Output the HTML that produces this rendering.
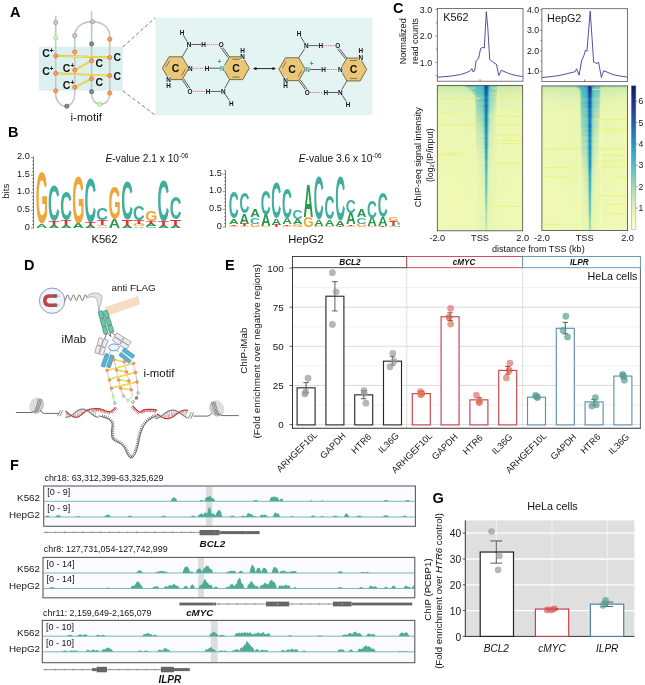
<!DOCTYPE html>
<html><head><meta charset="utf-8"><title>Figure</title><style>html,body{margin:0;padding:0;background:#fff;width:645px;height:685px;overflow:hidden}svg{display:block}text{font-family:"Liberation Sans",Arial,sans-serif}</style></head><body>
<svg width="645" height="685" viewBox="0 0 645 685"><defs><clipPath id="clipL"><rect x="220" y="150" width="180" height="85"/></clipPath><linearGradient id="gk0" gradientUnits="userSpaceOnUse" x1="437.3" y1="0" x2="522.7" y2="0"><stop offset="0.000" stop-color="#bfe6b5"/><stop offset="0.307" stop-color="#bae4b5"/><stop offset="0.325" stop-color="#a4dbb7"/><stop offset="0.343" stop-color="#77cabc"/><stop offset="0.360" stop-color="#66c4bf"/><stop offset="0.422" stop-color="#5dc0c0"/><stop offset="0.430" stop-color="#6ec7bd"/><stop offset="0.439" stop-color="#6dc6be"/><stop offset="0.448" stop-color="#59bfc0"/><stop offset="0.527" stop-color="#47b8c3"/><stop offset="0.536" stop-color="#3cb1c3"/><stop offset="0.544" stop-color="#2a9ec1"/><stop offset="0.553" stop-color="#1f79b4"/><stop offset="0.562" stop-color="#234c9f"/><stop offset="0.571" stop-color="#253493"/><stop offset="0.580" stop-color="#253a97"/><stop offset="0.588" stop-color="#2261a9"/><stop offset="0.597" stop-color="#2398c1"/><stop offset="0.606" stop-color="#44b7c4"/><stop offset="0.615" stop-color="#61c2bf"/><stop offset="0.632" stop-color="#73c8bd"/><stop offset="0.685" stop-color="#83cfbb"/><stop offset="0.703" stop-color="#a0dab8"/><stop offset="0.711" stop-color="#c5e8b4"/><stop offset="0.720" stop-color="#c9eab4"/><stop offset="0.729" stop-color="#b7e3b6"/><stop offset="1.000" stop-color="#bfe6b5"/></linearGradient><linearGradient id="gk1" gradientUnits="userSpaceOnUse" x1="437.3" y1="0" x2="522.7" y2="0"><stop offset="0.000" stop-color="#cdebb4"/><stop offset="0.343" stop-color="#c9eab4"/><stop offset="0.351" stop-color="#c0e6b5"/><stop offset="0.378" stop-color="#77cabc"/><stop offset="0.395" stop-color="#68c4be"/><stop offset="0.422" stop-color="#62c2bf"/><stop offset="0.430" stop-color="#73c9bd"/><stop offset="0.439" stop-color="#72c8bd"/><stop offset="0.448" stop-color="#5ec1c0"/><stop offset="0.527" stop-color="#48b9c3"/><stop offset="0.536" stop-color="#3db2c4"/><stop offset="0.544" stop-color="#2ca0c2"/><stop offset="0.553" stop-color="#1f7eb7"/><stop offset="0.562" stop-color="#2353a3"/><stop offset="0.571" stop-color="#243c98"/><stop offset="0.580" stop-color="#24439b"/><stop offset="0.588" stop-color="#216aae"/><stop offset="0.597" stop-color="#299dc1"/><stop offset="0.606" stop-color="#4bbac3"/><stop offset="0.615" stop-color="#68c4be"/><stop offset="0.632" stop-color="#79cbbc"/><stop offset="0.676" stop-color="#86d0ba"/><stop offset="0.694" stop-color="#9dd9b8"/><stop offset="0.703" stop-color="#b2e1b6"/><stop offset="0.711" stop-color="#d0edb3"/><stop offset="0.720" stop-color="#d4eeb3"/><stop offset="0.729" stop-color="#c9eab4"/><stop offset="1.000" stop-color="#cdebb4"/></linearGradient><linearGradient id="gk2" gradientUnits="userSpaceOnUse" x1="437.3" y1="0" x2="522.7" y2="0"><stop offset="0.000" stop-color="#d5efb3"/><stop offset="0.378" stop-color="#d0edb3"/><stop offset="0.386" stop-color="#c8e9b4"/><stop offset="0.404" stop-color="#91d4b9"/><stop offset="0.413" stop-color="#7dccbb"/><stop offset="0.422" stop-color="#75c9bc"/><stop offset="0.430" stop-color="#83cfbb"/><stop offset="0.439" stop-color="#81cebb"/><stop offset="0.448" stop-color="#6cc6be"/><stop offset="0.527" stop-color="#55bdc1"/><stop offset="0.536" stop-color="#48b8c3"/><stop offset="0.544" stop-color="#35aac3"/><stop offset="0.553" stop-color="#1d8fbf"/><stop offset="0.562" stop-color="#2165ab"/><stop offset="0.571" stop-color="#234fa1"/><stop offset="0.580" stop-color="#2355a4"/><stop offset="0.588" stop-color="#1f7db7"/><stop offset="0.597" stop-color="#34a8c3"/><stop offset="0.606" stop-color="#5abfc0"/><stop offset="0.615" stop-color="#74c9bd"/><stop offset="0.632" stop-color="#85cfba"/><stop offset="0.676" stop-color="#95d6b9"/><stop offset="0.694" stop-color="#afe0b6"/><stop offset="0.711" stop-color="#daf0b3"/><stop offset="0.720" stop-color="#dcf1b2"/><stop offset="0.729" stop-color="#d1edb3"/><stop offset="1.000" stop-color="#d5efb3"/></linearGradient><linearGradient id="gk3" gradientUnits="userSpaceOnUse" x1="437.3" y1="0" x2="522.7" y2="0"><stop offset="0.000" stop-color="#daf0b3"/><stop offset="0.395" stop-color="#d5efb3"/><stop offset="0.404" stop-color="#cfecb3"/><stop offset="0.413" stop-color="#bce5b5"/><stop offset="0.422" stop-color="#9cd8b8"/><stop offset="0.430" stop-color="#99d7b8"/><stop offset="0.439" stop-color="#8cd2ba"/><stop offset="0.448" stop-color="#72c8bd"/><stop offset="0.527" stop-color="#57bec1"/><stop offset="0.536" stop-color="#4ab9c3"/><stop offset="0.544" stop-color="#36abc3"/><stop offset="0.553" stop-color="#1d8fbf"/><stop offset="0.562" stop-color="#2164ab"/><stop offset="0.571" stop-color="#234da0"/><stop offset="0.580" stop-color="#2354a3"/><stop offset="0.588" stop-color="#1f7db7"/><stop offset="0.597" stop-color="#34a9c3"/><stop offset="0.606" stop-color="#5dc0c0"/><stop offset="0.615" stop-color="#77cabc"/><stop offset="0.632" stop-color="#89d1ba"/><stop offset="0.676" stop-color="#9ad8b8"/><stop offset="0.694" stop-color="#b9e3b5"/><stop offset="0.711" stop-color="#dff2b2"/><stop offset="0.720" stop-color="#e0f3b2"/><stop offset="0.729" stop-color="#d6efb3"/><stop offset="1.000" stop-color="#daf0b3"/></linearGradient><linearGradient id="gk4" gradientUnits="userSpaceOnUse" x1="437.3" y1="0" x2="522.7" y2="0"><stop offset="0.000" stop-color="#def2b2"/><stop offset="0.404" stop-color="#dbf1b2"/><stop offset="0.430" stop-color="#c1e7b5"/><stop offset="0.439" stop-color="#a5dcb7"/><stop offset="0.448" stop-color="#80cdbb"/><stop offset="0.527" stop-color="#5dc1c0"/><stop offset="0.536" stop-color="#50bcc2"/><stop offset="0.544" stop-color="#3aaec3"/><stop offset="0.553" stop-color="#1f93c0"/><stop offset="0.562" stop-color="#216aad"/><stop offset="0.571" stop-color="#2352a2"/><stop offset="0.580" stop-color="#2258a5"/><stop offset="0.588" stop-color="#1e82b9"/><stop offset="0.597" stop-color="#39adc3"/><stop offset="0.606" stop-color="#63c3bf"/><stop offset="0.615" stop-color="#7dccbb"/><stop offset="0.632" stop-color="#8fd3b9"/><stop offset="0.676" stop-color="#a3dbb8"/><stop offset="0.711" stop-color="#e4f4b2"/><stop offset="0.720" stop-color="#e5f5b2"/><stop offset="0.729" stop-color="#daf0b3"/><stop offset="1.000" stop-color="#def2b2"/></linearGradient><linearGradient id="gk5" gradientUnits="userSpaceOnUse" x1="437.3" y1="0" x2="522.7" y2="0"><stop offset="0.000" stop-color="#e2f4b2"/><stop offset="0.430" stop-color="#def2b2"/><stop offset="0.439" stop-color="#d0ecb3"/><stop offset="0.448" stop-color="#a5dcb7"/><stop offset="0.465" stop-color="#8ad1ba"/><stop offset="0.527" stop-color="#70c7bd"/><stop offset="0.536" stop-color="#63c3bf"/><stop offset="0.544" stop-color="#49b9c3"/><stop offset="0.553" stop-color="#2da1c2"/><stop offset="0.562" stop-color="#1f80b8"/><stop offset="0.571" stop-color="#2167ac"/><stop offset="0.580" stop-color="#206eaf"/><stop offset="0.588" stop-color="#2195c0"/><stop offset="0.597" stop-color="#47b8c3"/><stop offset="0.606" stop-color="#74c9bd"/><stop offset="0.615" stop-color="#8ed3ba"/><stop offset="0.632" stop-color="#9fd9b8"/><stop offset="0.676" stop-color="#b2e1b6"/><stop offset="0.711" stop-color="#e9f6b1"/><stop offset="0.720" stop-color="#e9f6b1"/><stop offset="0.729" stop-color="#def2b2"/><stop offset="1.000" stop-color="#e2f4b2"/></linearGradient><linearGradient id="gk6" gradientUnits="userSpaceOnUse" x1="437.3" y1="0" x2="522.7" y2="0"><stop offset="0.000" stop-color="#e4f5b2"/><stop offset="0.422" stop-color="#e0f3b2"/><stop offset="0.430" stop-color="#e5f5b2"/><stop offset="0.439" stop-color="#d9f0b3"/><stop offset="0.448" stop-color="#b7e3b6"/><stop offset="0.457" stop-color="#a0dab8"/><stop offset="0.474" stop-color="#8dd2ba"/><stop offset="0.527" stop-color="#76cabc"/><stop offset="0.536" stop-color="#6ac5be"/><stop offset="0.544" stop-color="#51bcc2"/><stop offset="0.553" stop-color="#32a6c2"/><stop offset="0.562" stop-color="#1e87bb"/><stop offset="0.571" stop-color="#206eaf"/><stop offset="0.580" stop-color="#2075b3"/><stop offset="0.588" stop-color="#269ac1"/><stop offset="0.597" stop-color="#4fbbc2"/><stop offset="0.606" stop-color="#7bcbbc"/><stop offset="0.615" stop-color="#95d6b9"/><stop offset="0.632" stop-color="#a5dcb7"/><stop offset="0.676" stop-color="#b9e4b5"/><stop offset="0.711" stop-color="#ebf7b1"/><stop offset="0.720" stop-color="#ebf7b1"/><stop offset="0.729" stop-color="#e0f3b2"/><stop offset="1.000" stop-color="#e4f5b2"/></linearGradient><linearGradient id="gk7" gradientUnits="userSpaceOnUse" x1="437.3" y1="0" x2="522.7" y2="0"><stop offset="0.000" stop-color="#e5f5b2"/><stop offset="0.430" stop-color="#e6f5b2"/><stop offset="0.439" stop-color="#d8f0b3"/><stop offset="0.448" stop-color="#b2e1b6"/><stop offset="0.457" stop-color="#98d7b9"/><stop offset="0.474" stop-color="#83cebb"/><stop offset="0.527" stop-color="#6cc6be"/><stop offset="0.536" stop-color="#5fc1c0"/><stop offset="0.544" stop-color="#44b7c4"/><stop offset="0.553" stop-color="#289cc1"/><stop offset="0.562" stop-color="#2075b3"/><stop offset="0.571" stop-color="#225ba6"/><stop offset="0.580" stop-color="#2262aa"/><stop offset="0.588" stop-color="#1d8fbf"/><stop offset="0.597" stop-color="#42b6c4"/><stop offset="0.606" stop-color="#72c8bd"/><stop offset="0.615" stop-color="#8dd2ba"/><stop offset="0.632" stop-color="#9ed9b8"/><stop offset="0.667" stop-color="#addfb7"/><stop offset="0.711" stop-color="#ecf8b1"/><stop offset="0.720" stop-color="#ecf8b1"/><stop offset="0.729" stop-color="#e1f3b2"/><stop offset="1.000" stop-color="#e5f5b2"/></linearGradient><linearGradient id="gk8" gradientUnits="userSpaceOnUse" x1="437.3" y1="0" x2="522.7" y2="0"><stop offset="0.000" stop-color="#e6f5b2"/><stop offset="0.422" stop-color="#e2f4b2"/><stop offset="0.430" stop-color="#e8f6b1"/><stop offset="0.439" stop-color="#dcf1b2"/><stop offset="0.457" stop-color="#a6dcb7"/><stop offset="0.474" stop-color="#92d4b9"/><stop offset="0.527" stop-color="#7bccbc"/><stop offset="0.536" stop-color="#70c7bd"/><stop offset="0.544" stop-color="#56bec1"/><stop offset="0.553" stop-color="#34a9c3"/><stop offset="0.562" stop-color="#1e88bc"/><stop offset="0.571" stop-color="#206eaf"/><stop offset="0.580" stop-color="#2075b3"/><stop offset="0.588" stop-color="#289cc1"/><stop offset="0.597" stop-color="#53bdc1"/><stop offset="0.606" stop-color="#81cebb"/><stop offset="0.615" stop-color="#9bd8b8"/><stop offset="0.632" stop-color="#abdeb7"/><stop offset="0.667" stop-color="#b9e3b5"/><stop offset="0.711" stop-color="#edf8b1"/><stop offset="0.720" stop-color="#edf8b1"/><stop offset="0.729" stop-color="#e2f4b2"/><stop offset="1.000" stop-color="#e6f5b2"/></linearGradient><linearGradient id="gk9" gradientUnits="userSpaceOnUse" x1="437.3" y1="0" x2="522.7" y2="0"><stop offset="0.000" stop-color="#e7f6b1"/><stop offset="0.422" stop-color="#e3f4b2"/><stop offset="0.430" stop-color="#eaf7b1"/><stop offset="0.439" stop-color="#def2b2"/><stop offset="0.457" stop-color="#abdeb7"/><stop offset="0.474" stop-color="#98d7b9"/><stop offset="0.527" stop-color="#81cebb"/><stop offset="0.536" stop-color="#75c9bc"/><stop offset="0.544" stop-color="#5cc0c0"/><stop offset="0.553" stop-color="#37acc3"/><stop offset="0.562" stop-color="#1e8cbd"/><stop offset="0.571" stop-color="#2071b1"/><stop offset="0.580" stop-color="#1f78b4"/><stop offset="0.588" stop-color="#2a9fc1"/><stop offset="0.597" stop-color="#58bfc1"/><stop offset="0.606" stop-color="#86d0ba"/><stop offset="0.615" stop-color="#a1dab8"/><stop offset="0.632" stop-color="#b0e0b6"/><stop offset="0.667" stop-color="#bee6b5"/><stop offset="0.711" stop-color="#edf8b2"/><stop offset="0.720" stop-color="#eef8b2"/><stop offset="0.729" stop-color="#e3f4b2"/><stop offset="1.000" stop-color="#e7f6b1"/></linearGradient><linearGradient id="gk10" gradientUnits="userSpaceOnUse" x1="437.3" y1="0" x2="522.7" y2="0"><stop offset="0.000" stop-color="#e9f6b1"/><stop offset="0.422" stop-color="#e4f5b2"/><stop offset="0.430" stop-color="#eaf7b1"/><stop offset="0.439" stop-color="#def2b2"/><stop offset="0.457" stop-color="#a5dcb7"/><stop offset="0.474" stop-color="#90d4b9"/><stop offset="0.527" stop-color="#78cbbc"/><stop offset="0.536" stop-color="#6cc6be"/><stop offset="0.544" stop-color="#51bcc2"/><stop offset="0.553" stop-color="#2ea3c2"/><stop offset="0.562" stop-color="#1f7bb5"/><stop offset="0.571" stop-color="#225da7"/><stop offset="0.580" stop-color="#2165ab"/><stop offset="0.588" stop-color="#2094c0"/><stop offset="0.597" stop-color="#4dbbc2"/><stop offset="0.606" stop-color="#7ecdbb"/><stop offset="0.615" stop-color="#9ad8b8"/><stop offset="0.632" stop-color="#aadeb7"/><stop offset="0.667" stop-color="#bbe4b5"/><stop offset="0.711" stop-color="#eef8b3"/><stop offset="0.720" stop-color="#eef8b3"/><stop offset="0.729" stop-color="#e4f5b2"/><stop offset="1.000" stop-color="#e8f6b1"/></linearGradient><linearGradient id="gk11" gradientUnits="userSpaceOnUse" x1="437.3" y1="0" x2="522.7" y2="0"><stop offset="0.000" stop-color="#eaf7b1"/><stop offset="0.422" stop-color="#e5f5b2"/><stop offset="0.430" stop-color="#ecf8b1"/><stop offset="0.439" stop-color="#e1f3b2"/><stop offset="0.457" stop-color="#b1e1b6"/><stop offset="0.474" stop-color="#9ed9b8"/><stop offset="0.527" stop-color="#88d0ba"/><stop offset="0.536" stop-color="#7bccbc"/><stop offset="0.544" stop-color="#61c2bf"/><stop offset="0.553" stop-color="#39aec3"/><stop offset="0.562" stop-color="#1e8bbd"/><stop offset="0.571" stop-color="#206eb0"/><stop offset="0.580" stop-color="#2076b4"/><stop offset="0.588" stop-color="#2b9fc2"/><stop offset="0.597" stop-color="#5dc0c0"/><stop offset="0.606" stop-color="#8dd2ba"/><stop offset="0.615" stop-color="#a7ddb7"/><stop offset="0.641" stop-color="#b9e3b5"/><stop offset="0.676" stop-color="#ceecb3"/><stop offset="0.711" stop-color="#eef9b4"/><stop offset="0.720" stop-color="#eff9b5"/><stop offset="0.729" stop-color="#e5f5b2"/><stop offset="1.000" stop-color="#eaf7b1"/></linearGradient><linearGradient id="gk12" gradientUnits="userSpaceOnUse" x1="437.3" y1="0" x2="522.7" y2="0"><stop offset="0.000" stop-color="#ebf7b1"/><stop offset="0.422" stop-color="#e6f5b2"/><stop offset="0.430" stop-color="#edf8b1"/><stop offset="0.439" stop-color="#e2f4b2"/><stop offset="0.457" stop-color="#b2e1b6"/><stop offset="0.474" stop-color="#9dd9b8"/><stop offset="0.527" stop-color="#86d0ba"/><stop offset="0.536" stop-color="#7acbbc"/><stop offset="0.544" stop-color="#5fc1c0"/><stop offset="0.553" stop-color="#37abc3"/><stop offset="0.562" stop-color="#1e85ba"/><stop offset="0.571" stop-color="#2166ac"/><stop offset="0.580" stop-color="#206fb0"/><stop offset="0.588" stop-color="#279cc1"/><stop offset="0.597" stop-color="#5abfc0"/><stop offset="0.606" stop-color="#8cd2ba"/><stop offset="0.615" stop-color="#a7ddb7"/><stop offset="0.641" stop-color="#b9e4b5"/><stop offset="0.676" stop-color="#d0ecb3"/><stop offset="0.694" stop-color="#e3f4b2"/><stop offset="0.720" stop-color="#eff9b6"/><stop offset="0.738" stop-color="#e7f6b1"/><stop offset="1.000" stop-color="#ebf7b1"/></linearGradient><linearGradient id="gk13" gradientUnits="userSpaceOnUse" x1="437.3" y1="0" x2="522.7" y2="0"><stop offset="0.000" stop-color="#ecf7b1"/><stop offset="0.422" stop-color="#e7f6b1"/><stop offset="0.430" stop-color="#eef8b3"/><stop offset="0.439" stop-color="#e5f5b2"/><stop offset="0.457" stop-color="#bbe4b5"/><stop offset="0.474" stop-color="#a8ddb7"/><stop offset="0.527" stop-color="#93d5b9"/><stop offset="0.536" stop-color="#87d0ba"/><stop offset="0.544" stop-color="#6cc6be"/><stop offset="0.553" stop-color="#3fb4c4"/><stop offset="0.562" stop-color="#1d91c0"/><stop offset="0.571" stop-color="#2072b2"/><stop offset="0.580" stop-color="#1f7bb6"/><stop offset="0.588" stop-color="#2fa4c2"/><stop offset="0.597" stop-color="#66c4bf"/><stop offset="0.606" stop-color="#98d7b9"/><stop offset="0.615" stop-color="#b1e1b6"/><stop offset="0.641" stop-color="#c2e7b5"/><stop offset="0.676" stop-color="#d5eeb3"/><stop offset="0.694" stop-color="#e6f5b2"/><stop offset="0.720" stop-color="#f0f9b7"/><stop offset="0.738" stop-color="#e8f6b1"/><stop offset="1.000" stop-color="#ecf7b1"/></linearGradient><linearGradient id="gk14" gradientUnits="userSpaceOnUse" x1="437.3" y1="0" x2="522.7" y2="0"><stop offset="0.000" stop-color="#edf8b1"/><stop offset="0.422" stop-color="#e8f6b1"/><stop offset="0.430" stop-color="#eff9b4"/><stop offset="0.439" stop-color="#e7f5b2"/><stop offset="0.448" stop-color="#ceecb3"/><stop offset="0.465" stop-color="#b1e1b6"/><stop offset="0.527" stop-color="#96d6b9"/><stop offset="0.536" stop-color="#89d1ba"/><stop offset="0.544" stop-color="#6ec7bd"/><stop offset="0.553" stop-color="#40b4c4"/><stop offset="0.562" stop-color="#1d91c0"/><stop offset="0.571" stop-color="#2070b1"/><stop offset="0.580" stop-color="#1f79b5"/><stop offset="0.588" stop-color="#2fa4c2"/><stop offset="0.597" stop-color="#68c4be"/><stop offset="0.606" stop-color="#9bd8b8"/><stop offset="0.615" stop-color="#b4e2b6"/><stop offset="0.641" stop-color="#c5e8b4"/><stop offset="0.676" stop-color="#d7efb3"/><stop offset="0.694" stop-color="#e7f6b1"/><stop offset="0.720" stop-color="#f0f9b8"/><stop offset="0.738" stop-color="#e9f6b1"/><stop offset="1.000" stop-color="#edf8b1"/></linearGradient><linearGradient id="gk15" gradientUnits="userSpaceOnUse" x1="437.3" y1="0" x2="522.7" y2="0"><stop offset="0.000" stop-color="#edf8b1"/><stop offset="0.422" stop-color="#e9f6b1"/><stop offset="0.430" stop-color="#eff9b6"/><stop offset="0.439" stop-color="#e9f6b1"/><stop offset="0.448" stop-color="#d1edb3"/><stop offset="0.474" stop-color="#b6e2b6"/><stop offset="0.527" stop-color="#a3dbb8"/><stop offset="0.536" stop-color="#97d7b9"/><stop offset="0.544" stop-color="#7cccbb"/><stop offset="0.553" stop-color="#4fbbc2"/><stop offset="0.562" stop-color="#279cc1"/><stop offset="0.571" stop-color="#1f80b8"/><stop offset="0.580" stop-color="#1e89bc"/><stop offset="0.588" stop-color="#39aec3"/><stop offset="0.597" stop-color="#75c9bc"/><stop offset="0.606" stop-color="#a7dcb7"/><stop offset="0.615" stop-color="#bee6b5"/><stop offset="0.632" stop-color="#c9eab4"/><stop offset="0.667" stop-color="#d4eeb3"/><stop offset="0.694" stop-color="#e7f6b1"/><stop offset="0.720" stop-color="#f0f9b8"/><stop offset="0.738" stop-color="#e9f6b1"/><stop offset="1.000" stop-color="#edf8b1"/></linearGradient><linearGradient id="gk16" gradientUnits="userSpaceOnUse" x1="437.3" y1="0" x2="522.7" y2="0"><stop offset="0.000" stop-color="#edf8b1"/><stop offset="0.422" stop-color="#e9f6b1"/><stop offset="0.430" stop-color="#eff9b6"/><stop offset="0.439" stop-color="#e9f6b1"/><stop offset="0.448" stop-color="#d1edb3"/><stop offset="0.474" stop-color="#b2e1b6"/><stop offset="0.527" stop-color="#9fd9b8"/><stop offset="0.536" stop-color="#93d5b9"/><stop offset="0.544" stop-color="#77cabc"/><stop offset="0.553" stop-color="#47b8c3"/><stop offset="0.562" stop-color="#2195c0"/><stop offset="0.571" stop-color="#2075b3"/><stop offset="0.580" stop-color="#1f7eb7"/><stop offset="0.588" stop-color="#34a8c3"/><stop offset="0.597" stop-color="#70c7bd"/><stop offset="0.606" stop-color="#a3dbb8"/><stop offset="0.615" stop-color="#bbe4b5"/><stop offset="0.641" stop-color="#c9eab4"/><stop offset="0.667" stop-color="#d4eeb3"/><stop offset="0.694" stop-color="#e7f6b1"/><stop offset="0.720" stop-color="#f0f9b8"/><stop offset="0.738" stop-color="#e9f7b1"/><stop offset="1.000" stop-color="#edf8b1"/></linearGradient><linearGradient id="gk17" gradientUnits="userSpaceOnUse" x1="437.3" y1="0" x2="522.7" y2="0"><stop offset="0.000" stop-color="#edf8b1"/><stop offset="0.422" stop-color="#e9f6b1"/><stop offset="0.430" stop-color="#eff9b6"/><stop offset="0.439" stop-color="#e9f6b1"/><stop offset="0.448" stop-color="#d1edb3"/><stop offset="0.474" stop-color="#b2e1b6"/><stop offset="0.527" stop-color="#9fd9b8"/><stop offset="0.536" stop-color="#93d5b9"/><stop offset="0.544" stop-color="#77cabc"/><stop offset="0.553" stop-color="#46b8c3"/><stop offset="0.562" stop-color="#1f93c0"/><stop offset="0.571" stop-color="#2071b1"/><stop offset="0.580" stop-color="#1f7ab5"/><stop offset="0.588" stop-color="#32a7c2"/><stop offset="0.597" stop-color="#6fc7bd"/><stop offset="0.606" stop-color="#a4dbb7"/><stop offset="0.615" stop-color="#bce5b5"/><stop offset="0.641" stop-color="#c9eab4"/><stop offset="0.667" stop-color="#d5efb3"/><stop offset="0.685" stop-color="#e6f5b2"/><stop offset="0.703" stop-color="#e8f6b1"/><stop offset="0.720" stop-color="#f0f9b8"/><stop offset="0.738" stop-color="#e9f7b1"/><stop offset="1.000" stop-color="#edf8b1"/></linearGradient><linearGradient id="gk18" gradientUnits="userSpaceOnUse" x1="437.3" y1="0" x2="522.7" y2="0"><stop offset="0.000" stop-color="#edf8b1"/><stop offset="0.422" stop-color="#e9f6b1"/><stop offset="0.430" stop-color="#f0f9b7"/><stop offset="0.439" stop-color="#ebf7b1"/><stop offset="0.448" stop-color="#d4eeb3"/><stop offset="0.474" stop-color="#bbe4b5"/><stop offset="0.527" stop-color="#a9ddb7"/><stop offset="0.536" stop-color="#9ed9b8"/><stop offset="0.544" stop-color="#82cebb"/><stop offset="0.553" stop-color="#52bcc1"/><stop offset="0.562" stop-color="#279bc1"/><stop offset="0.571" stop-color="#1f7db6"/><stop offset="0.580" stop-color="#1e86bb"/><stop offset="0.588" stop-color="#39aec3"/><stop offset="0.597" stop-color="#7acbbc"/><stop offset="0.606" stop-color="#addfb7"/><stop offset="0.615" stop-color="#c3e8b4"/><stop offset="0.667" stop-color="#d9f0b3"/><stop offset="0.694" stop-color="#e7f6b1"/><stop offset="0.720" stop-color="#f0f9b8"/><stop offset="0.738" stop-color="#e9f7b1"/><stop offset="1.000" stop-color="#edf8b1"/></linearGradient><linearGradient id="gk19" gradientUnits="userSpaceOnUse" x1="437.3" y1="0" x2="522.7" y2="0"><stop offset="0.000" stop-color="#edf8b1"/><stop offset="0.422" stop-color="#e9f6b1"/><stop offset="0.430" stop-color="#f0f9b7"/><stop offset="0.439" stop-color="#ebf7b1"/><stop offset="0.448" stop-color="#d4eeb3"/><stop offset="0.474" stop-color="#bbe4b5"/><stop offset="0.527" stop-color="#a9ddb7"/><stop offset="0.536" stop-color="#9fd9b8"/><stop offset="0.544" stop-color="#83cfbb"/><stop offset="0.553" stop-color="#52bcc2"/><stop offset="0.562" stop-color="#269ac1"/><stop offset="0.571" stop-color="#1f79b5"/><stop offset="0.580" stop-color="#1e83b9"/><stop offset="0.588" stop-color="#39adc3"/><stop offset="0.597" stop-color="#7acbbc"/><stop offset="0.606" stop-color="#aedfb6"/><stop offset="0.615" stop-color="#c4e8b4"/><stop offset="0.667" stop-color="#daf1b2"/><stop offset="0.694" stop-color="#e7f6b1"/><stop offset="0.720" stop-color="#f0f9b8"/><stop offset="0.738" stop-color="#eaf7b1"/><stop offset="1.000" stop-color="#edf8b1"/></linearGradient><linearGradient id="gk20" gradientUnits="userSpaceOnUse" x1="437.3" y1="0" x2="522.7" y2="0"><stop offset="0.000" stop-color="#edf8b1"/><stop offset="0.422" stop-color="#e9f6b1"/><stop offset="0.430" stop-color="#f0f9b8"/><stop offset="0.439" stop-color="#ecf8b1"/><stop offset="0.448" stop-color="#d6efb3"/><stop offset="0.483" stop-color="#bce5b5"/><stop offset="0.527" stop-color="#afe0b6"/><stop offset="0.536" stop-color="#a5dcb7"/><stop offset="0.544" stop-color="#8ad1ba"/><stop offset="0.553" stop-color="#58bfc1"/><stop offset="0.562" stop-color="#299dc1"/><stop offset="0.571" stop-color="#1f7eb7"/><stop offset="0.580" stop-color="#1e87bb"/><stop offset="0.588" stop-color="#3cb1c3"/><stop offset="0.597" stop-color="#7fcdbb"/><stop offset="0.606" stop-color="#b3e1b6"/><stop offset="0.615" stop-color="#c8e9b4"/><stop offset="0.667" stop-color="#ddf2b2"/><stop offset="0.694" stop-color="#e8f6b1"/><stop offset="0.720" stop-color="#f0f9b8"/><stop offset="0.738" stop-color="#eaf7b1"/><stop offset="1.000" stop-color="#edf8b1"/></linearGradient><linearGradient id="gk21" gradientUnits="userSpaceOnUse" x1="437.3" y1="0" x2="522.7" y2="0"><stop offset="0.000" stop-color="#edf8b1"/><stop offset="0.422" stop-color="#e9f7b1"/><stop offset="0.430" stop-color="#f0f9b8"/><stop offset="0.439" stop-color="#edf8b2"/><stop offset="0.448" stop-color="#d9f0b3"/><stop offset="0.474" stop-color="#c9eab4"/><stop offset="0.527" stop-color="#bce5b5"/><stop offset="0.536" stop-color="#b3e1b6"/><stop offset="0.544" stop-color="#9ad8b8"/><stop offset="0.562" stop-color="#35aac3"/><stop offset="0.571" stop-color="#1d90c0"/><stop offset="0.580" stop-color="#2397c1"/><stop offset="0.588" stop-color="#4bbac3"/><stop offset="0.597" stop-color="#8fd3b9"/><stop offset="0.606" stop-color="#bfe6b5"/><stop offset="0.615" stop-color="#cdebb4"/><stop offset="0.667" stop-color="#e1f3b2"/><stop offset="0.703" stop-color="#e8f6b1"/><stop offset="0.720" stop-color="#f0f9b9"/><stop offset="0.738" stop-color="#eaf7b1"/><stop offset="1.000" stop-color="#edf8b1"/></linearGradient><linearGradient id="gk22" gradientUnits="userSpaceOnUse" x1="437.3" y1="0" x2="522.7" y2="0"><stop offset="0.000" stop-color="#edf8b2"/><stop offset="0.422" stop-color="#e9f7b1"/><stop offset="0.430" stop-color="#f0f9b8"/><stop offset="0.439" stop-color="#edf8b1"/><stop offset="0.448" stop-color="#d8f0b3"/><stop offset="0.483" stop-color="#c3e7b4"/><stop offset="0.527" stop-color="#b6e2b6"/><stop offset="0.536" stop-color="#acdfb7"/><stop offset="0.544" stop-color="#92d4b9"/><stop offset="0.553" stop-color="#60c1c0"/><stop offset="0.562" stop-color="#2ca1c2"/><stop offset="0.571" stop-color="#1f81b8"/><stop offset="0.580" stop-color="#1e8bbd"/><stop offset="0.588" stop-color="#3fb4c4"/><stop offset="0.597" stop-color="#87d0ba"/><stop offset="0.606" stop-color="#bae4b5"/><stop offset="0.615" stop-color="#cbebb4"/><stop offset="0.659" stop-color="#daf0b3"/><stop offset="0.685" stop-color="#e7f6b1"/><stop offset="0.703" stop-color="#e8f6b1"/><stop offset="0.720" stop-color="#f0f9b9"/><stop offset="0.738" stop-color="#eaf7b1"/><stop offset="1.000" stop-color="#edf8b2"/></linearGradient><linearGradient id="gk23" gradientUnits="userSpaceOnUse" x1="437.3" y1="0" x2="522.7" y2="0"><stop offset="0.000" stop-color="#edf8b2"/><stop offset="0.422" stop-color="#e9f7b1"/><stop offset="0.430" stop-color="#f0f9b9"/><stop offset="0.439" stop-color="#eef8b3"/><stop offset="0.448" stop-color="#daf0b3"/><stop offset="0.474" stop-color="#c9eab4"/><stop offset="0.527" stop-color="#bce5b5"/><stop offset="0.536" stop-color="#b4e1b6"/><stop offset="0.544" stop-color="#9bd8b8"/><stop offset="0.553" stop-color="#68c4be"/><stop offset="0.562" stop-color="#31a6c2"/><stop offset="0.571" stop-color="#1e88bc"/><stop offset="0.580" stop-color="#1d91c0"/><stop offset="0.588" stop-color="#46b8c3"/><stop offset="0.597" stop-color="#8fd3b9"/><stop offset="0.606" stop-color="#c0e6b5"/><stop offset="0.615" stop-color="#ceecb3"/><stop offset="0.659" stop-color="#dcf1b2"/><stop offset="0.685" stop-color="#e7f6b1"/><stop offset="0.703" stop-color="#e8f6b1"/><stop offset="0.720" stop-color="#f1f9b9"/><stop offset="0.738" stop-color="#eaf7b1"/><stop offset="1.000" stop-color="#edf8b2"/></linearGradient><linearGradient id="gk24" gradientUnits="userSpaceOnUse" x1="437.3" y1="0" x2="522.7" y2="0"><stop offset="0.000" stop-color="#edf8b2"/><stop offset="0.422" stop-color="#eaf7b1"/><stop offset="0.430" stop-color="#f0f9b9"/><stop offset="0.439" stop-color="#eef8b4"/><stop offset="0.448" stop-color="#dcf1b2"/><stop offset="0.483" stop-color="#cbebb4"/><stop offset="0.527" stop-color="#c5e8b4"/><stop offset="0.536" stop-color="#bde5b5"/><stop offset="0.544" stop-color="#a5dcb7"/><stop offset="0.562" stop-color="#38adc3"/><stop offset="0.571" stop-color="#1d91c0"/><stop offset="0.580" stop-color="#2499c1"/><stop offset="0.588" stop-color="#51bcc2"/><stop offset="0.597" stop-color="#99d7b9"/><stop offset="0.606" stop-color="#c7e9b4"/><stop offset="0.624" stop-color="#d4eeb3"/><stop offset="0.685" stop-color="#e7f6b1"/><stop offset="0.703" stop-color="#e8f6b1"/><stop offset="0.720" stop-color="#f1f9b9"/><stop offset="0.738" stop-color="#eaf7b1"/><stop offset="1.000" stop-color="#edf8b2"/></linearGradient><linearGradient id="gk25" gradientUnits="userSpaceOnUse" x1="437.3" y1="0" x2="522.7" y2="0"><stop offset="0.000" stop-color="#edf8b2"/><stop offset="0.422" stop-color="#eaf7b1"/><stop offset="0.430" stop-color="#f1f9b9"/><stop offset="0.439" stop-color="#eff9b5"/><stop offset="0.448" stop-color="#def2b2"/><stop offset="0.483" stop-color="#cfecb3"/><stop offset="0.536" stop-color="#c5e8b4"/><stop offset="0.544" stop-color="#afe0b6"/><stop offset="0.553" stop-color="#7cccbb"/><stop offset="0.562" stop-color="#3fb4c4"/><stop offset="0.571" stop-color="#2498c1"/><stop offset="0.580" stop-color="#2b9fc2"/><stop offset="0.588" stop-color="#5bc0c0"/><stop offset="0.597" stop-color="#a2dbb8"/><stop offset="0.606" stop-color="#cbebb4"/><stop offset="0.624" stop-color="#d7efb3"/><stop offset="0.685" stop-color="#e8f6b1"/><stop offset="0.703" stop-color="#e8f6b1"/><stop offset="0.720" stop-color="#f1f9b9"/><stop offset="0.738" stop-color="#eaf7b1"/><stop offset="1.000" stop-color="#edf8b2"/></linearGradient><linearGradient id="gk26" gradientUnits="userSpaceOnUse" x1="437.3" y1="0" x2="522.7" y2="0"><stop offset="0.000" stop-color="#edf8b2"/><stop offset="0.422" stop-color="#eaf7b1"/><stop offset="0.430" stop-color="#f1f9b9"/><stop offset="0.439" stop-color="#eef9b4"/><stop offset="0.448" stop-color="#ddf2b2"/><stop offset="0.474" stop-color="#cdebb4"/><stop offset="0.527" stop-color="#c5e8b4"/><stop offset="0.536" stop-color="#bde5b5"/><stop offset="0.544" stop-color="#a5dcb7"/><stop offset="0.553" stop-color="#71c8bd"/><stop offset="0.562" stop-color="#34a9c3"/><stop offset="0.571" stop-color="#1e88bc"/><stop offset="0.580" stop-color="#1f93c0"/><stop offset="0.588" stop-color="#4cbac2"/><stop offset="0.597" stop-color="#99d7b9"/><stop offset="0.606" stop-color="#c8e9b4"/><stop offset="0.624" stop-color="#d4eeb3"/><stop offset="0.676" stop-color="#e7f6b1"/><stop offset="0.703" stop-color="#e9f6b1"/><stop offset="0.720" stop-color="#f1f9b9"/><stop offset="0.738" stop-color="#eaf7b1"/><stop offset="1.000" stop-color="#edf8b2"/></linearGradient><linearGradient id="gk27" gradientUnits="userSpaceOnUse" x1="437.3" y1="0" x2="522.7" y2="0"><stop offset="0.000" stop-color="#edf8b2"/><stop offset="0.422" stop-color="#eaf7b1"/><stop offset="0.430" stop-color="#f1f9b9"/><stop offset="0.439" stop-color="#eff9b6"/><stop offset="0.448" stop-color="#dff2b2"/><stop offset="0.483" stop-color="#cfecb3"/><stop offset="0.536" stop-color="#c6e9b4"/><stop offset="0.544" stop-color="#b0e0b6"/><stop offset="0.553" stop-color="#7dccbb"/><stop offset="0.562" stop-color="#3cb1c3"/><stop offset="0.571" stop-color="#2094c0"/><stop offset="0.580" stop-color="#279bc1"/><stop offset="0.588" stop-color="#59bfc1"/><stop offset="0.597" stop-color="#a4dbb7"/><stop offset="0.606" stop-color="#ccebb4"/><stop offset="0.632" stop-color="#d9f0b3"/><stop offset="0.685" stop-color="#e8f6b1"/><stop offset="0.703" stop-color="#e9f6b1"/><stop offset="0.720" stop-color="#f1f9b9"/><stop offset="0.738" stop-color="#eaf7b1"/><stop offset="1.000" stop-color="#edf8b2"/></linearGradient><linearGradient id="gk28" gradientUnits="userSpaceOnUse" x1="437.3" y1="0" x2="522.7" y2="0"><stop offset="0.000" stop-color="#eef8b2"/><stop offset="0.422" stop-color="#eaf7b1"/><stop offset="0.430" stop-color="#f1f9b9"/><stop offset="0.439" stop-color="#eff9b6"/><stop offset="0.457" stop-color="#d8f0b3"/><stop offset="0.536" stop-color="#c7e9b4"/><stop offset="0.544" stop-color="#b1e1b6"/><stop offset="0.553" stop-color="#7dccbb"/><stop offset="0.562" stop-color="#3bb0c3"/><stop offset="0.571" stop-color="#1d91c0"/><stop offset="0.580" stop-color="#2599c1"/><stop offset="0.588" stop-color="#58bec1"/><stop offset="0.597" stop-color="#a4dbb7"/><stop offset="0.606" stop-color="#ccebb4"/><stop offset="0.632" stop-color="#d9f0b3"/><stop offset="0.676" stop-color="#e7f6b1"/><stop offset="0.703" stop-color="#e9f6b1"/><stop offset="0.720" stop-color="#f1f9b9"/><stop offset="0.738" stop-color="#eaf7b1"/><stop offset="1.000" stop-color="#eef8b2"/></linearGradient><linearGradient id="gk29" gradientUnits="userSpaceOnUse" x1="437.3" y1="0" x2="522.7" y2="0"><stop offset="0.000" stop-color="#eef8b2"/><stop offset="0.422" stop-color="#eaf7b1"/><stop offset="0.430" stop-color="#f1f9b9"/><stop offset="0.439" stop-color="#f0f9b7"/><stop offset="0.457" stop-color="#d9f0b3"/><stop offset="0.536" stop-color="#c8e9b4"/><stop offset="0.544" stop-color="#b4e1b6"/><stop offset="0.553" stop-color="#7ecdbb"/><stop offset="0.562" stop-color="#3bb0c3"/><stop offset="0.571" stop-color="#1d90bf"/><stop offset="0.580" stop-color="#2498c1"/><stop offset="0.588" stop-color="#59bfc1"/><stop offset="0.597" stop-color="#a6dcb7"/><stop offset="0.606" stop-color="#cdecb3"/><stop offset="0.659" stop-color="#e6f5b2"/><stop offset="0.703" stop-color="#e9f6b1"/><stop offset="0.720" stop-color="#f1f9b9"/><stop offset="0.738" stop-color="#ebf7b1"/><stop offset="1.000" stop-color="#eef8b2"/></linearGradient><linearGradient id="gk30" gradientUnits="userSpaceOnUse" x1="437.3" y1="0" x2="522.7" y2="0"><stop offset="0.000" stop-color="#eef8b2"/><stop offset="0.422" stop-color="#eaf7b1"/><stop offset="0.439" stop-color="#f0f9b9"/><stop offset="0.457" stop-color="#dcf1b2"/><stop offset="0.536" stop-color="#cbebb4"/><stop offset="0.544" stop-color="#bbe4b5"/><stop offset="0.553" stop-color="#87d0ba"/><stop offset="0.562" stop-color="#40b5c4"/><stop offset="0.571" stop-color="#2195c0"/><stop offset="0.580" stop-color="#299dc1"/><stop offset="0.588" stop-color="#60c2bf"/><stop offset="0.597" stop-color="#addfb6"/><stop offset="0.606" stop-color="#d0edb3"/><stop offset="0.667" stop-color="#e7f6b1"/><stop offset="0.703" stop-color="#e9f6b1"/><stop offset="0.720" stop-color="#f1f9ba"/><stop offset="0.738" stop-color="#ebf7b1"/><stop offset="1.000" stop-color="#eef8b2"/></linearGradient><linearGradient id="gk31" gradientUnits="userSpaceOnUse" x1="437.3" y1="0" x2="522.7" y2="0"><stop offset="0.000" stop-color="#eef8b2"/><stop offset="0.422" stop-color="#eaf7b1"/><stop offset="0.439" stop-color="#f1f9b9"/><stop offset="0.457" stop-color="#def2b2"/><stop offset="0.501" stop-color="#d2edb3"/><stop offset="0.536" stop-color="#ccebb4"/><stop offset="0.544" stop-color="#bde5b5"/><stop offset="0.553" stop-color="#89d1ba"/><stop offset="0.562" stop-color="#40b5c4"/><stop offset="0.571" stop-color="#1f93c0"/><stop offset="0.580" stop-color="#289cc1"/><stop offset="0.588" stop-color="#60c2bf"/><stop offset="0.597" stop-color="#afe0b6"/><stop offset="0.606" stop-color="#d1edb3"/><stop offset="0.667" stop-color="#e7f6b1"/><stop offset="0.703" stop-color="#e9f6b1"/><stop offset="0.720" stop-color="#f1faba"/><stop offset="0.738" stop-color="#ebf7b1"/><stop offset="1.000" stop-color="#eef8b2"/></linearGradient><linearGradient id="gk32" gradientUnits="userSpaceOnUse" x1="437.3" y1="0" x2="522.7" y2="0"><stop offset="0.000" stop-color="#eef8b3"/><stop offset="0.422" stop-color="#eaf7b1"/><stop offset="0.439" stop-color="#f1f9b9"/><stop offset="0.457" stop-color="#e2f4b2"/><stop offset="0.509" stop-color="#d6efb3"/><stop offset="0.536" stop-color="#d1edb3"/><stop offset="0.544" stop-color="#c8e9b4"/><stop offset="0.553" stop-color="#98d7b9"/><stop offset="0.562" stop-color="#4fbbc2"/><stop offset="0.571" stop-color="#2a9ec1"/><stop offset="0.580" stop-color="#32a7c2"/><stop offset="0.588" stop-color="#6fc7bd"/><stop offset="0.597" stop-color="#bbe4b5"/><stop offset="0.606" stop-color="#d5efb3"/><stop offset="0.667" stop-color="#e7f6b1"/><stop offset="0.703" stop-color="#e9f6b1"/><stop offset="0.720" stop-color="#f1faba"/><stop offset="0.738" stop-color="#ebf7b1"/><stop offset="1.000" stop-color="#eef8b3"/></linearGradient><linearGradient id="gk33" gradientUnits="userSpaceOnUse" x1="437.3" y1="0" x2="522.7" y2="0"><stop offset="0.000" stop-color="#eef8b3"/><stop offset="0.422" stop-color="#eaf7b1"/><stop offset="0.439" stop-color="#f1f9b9"/><stop offset="0.457" stop-color="#e4f4b2"/><stop offset="0.501" stop-color="#d6efb3"/><stop offset="0.536" stop-color="#d1edb3"/><stop offset="0.544" stop-color="#c7e9b4"/><stop offset="0.553" stop-color="#96d6b9"/><stop offset="0.562" stop-color="#4ab9c3"/><stop offset="0.571" stop-color="#2599c1"/><stop offset="0.580" stop-color="#2ea2c2"/><stop offset="0.588" stop-color="#6bc6be"/><stop offset="0.597" stop-color="#bae4b5"/><stop offset="0.606" stop-color="#d5efb3"/><stop offset="0.667" stop-color="#e7f6b1"/><stop offset="0.703" stop-color="#e9f7b1"/><stop offset="0.720" stop-color="#f1faba"/><stop offset="0.738" stop-color="#ebf7b1"/><stop offset="1.000" stop-color="#eef8b3"/></linearGradient><linearGradient id="gk34" gradientUnits="userSpaceOnUse" x1="437.3" y1="0" x2="522.7" y2="0"><stop offset="0.000" stop-color="#eef8b3"/><stop offset="0.422" stop-color="#ebf7b1"/><stop offset="0.430" stop-color="#f1faba"/><stop offset="0.457" stop-color="#e7f5b2"/><stop offset="0.501" stop-color="#d9f0b3"/><stop offset="0.536" stop-color="#d5eeb3"/><stop offset="0.544" stop-color="#ccebb4"/><stop offset="0.553" stop-color="#a2dbb8"/><stop offset="0.562" stop-color="#57bec1"/><stop offset="0.571" stop-color="#2da2c2"/><stop offset="0.580" stop-color="#36aac3"/><stop offset="0.588" stop-color="#76cabc"/><stop offset="0.597" stop-color="#c3e7b4"/><stop offset="0.606" stop-color="#d9f0b3"/><stop offset="0.667" stop-color="#e8f6b1"/><stop offset="0.703" stop-color="#e9f7b1"/><stop offset="0.720" stop-color="#f1faba"/><stop offset="0.738" stop-color="#ebf7b1"/><stop offset="1.000" stop-color="#eef8b3"/></linearGradient><linearGradient id="gk35" gradientUnits="userSpaceOnUse" x1="437.3" y1="0" x2="522.7" y2="0"><stop offset="0.000" stop-color="#eef8b3"/><stop offset="0.422" stop-color="#ebf7b1"/><stop offset="0.430" stop-color="#f1faba"/><stop offset="0.457" stop-color="#e8f6b1"/><stop offset="0.501" stop-color="#d9f0b3"/><stop offset="0.536" stop-color="#d4eeb3"/><stop offset="0.544" stop-color="#ccebb4"/><stop offset="0.553" stop-color="#9fd9b8"/><stop offset="0.562" stop-color="#51bcc2"/><stop offset="0.571" stop-color="#279cc1"/><stop offset="0.580" stop-color="#30a5c2"/><stop offset="0.588" stop-color="#72c8bd"/><stop offset="0.597" stop-color="#c2e7b5"/><stop offset="0.606" stop-color="#d8f0b3"/><stop offset="0.659" stop-color="#e7f6b1"/><stop offset="0.703" stop-color="#e9f7b1"/><stop offset="0.720" stop-color="#f1faba"/><stop offset="0.738" stop-color="#ebf7b1"/><stop offset="1.000" stop-color="#eef8b3"/></linearGradient><linearGradient id="gk36" gradientUnits="userSpaceOnUse" x1="437.3" y1="0" x2="522.7" y2="0"><stop offset="0.000" stop-color="#eef8b3"/><stop offset="0.422" stop-color="#ebf7b1"/><stop offset="0.430" stop-color="#f1faba"/><stop offset="0.457" stop-color="#e9f6b1"/><stop offset="0.509" stop-color="#daf1b2"/><stop offset="0.536" stop-color="#d7efb3"/><stop offset="0.544" stop-color="#ceecb3"/><stop offset="0.553" stop-color="#a6dcb7"/><stop offset="0.562" stop-color="#57bec1"/><stop offset="0.571" stop-color="#2b9fc2"/><stop offset="0.580" stop-color="#33a8c2"/><stop offset="0.588" stop-color="#78cabc"/><stop offset="0.597" stop-color="#c7e9b4"/><stop offset="0.606" stop-color="#daf1b2"/><stop offset="0.659" stop-color="#e7f6b1"/><stop offset="0.703" stop-color="#eaf7b1"/><stop offset="0.720" stop-color="#f1faba"/><stop offset="0.738" stop-color="#ebf7b1"/><stop offset="1.000" stop-color="#eef8b3"/></linearGradient><linearGradient id="gk37" gradientUnits="userSpaceOnUse" x1="437.3" y1="0" x2="522.7" y2="0"><stop offset="0.000" stop-color="#eef8b3"/><stop offset="0.422" stop-color="#ebf7b1"/><stop offset="0.430" stop-color="#f1faba"/><stop offset="0.465" stop-color="#e8f6b1"/><stop offset="0.536" stop-color="#dcf1b2"/><stop offset="0.544" stop-color="#d5eeb3"/><stop offset="0.553" stop-color="#b7e3b6"/><stop offset="0.562" stop-color="#6bc6be"/><stop offset="0.571" stop-color="#39aec3"/><stop offset="0.580" stop-color="#42b6c4"/><stop offset="0.597" stop-color="#cdecb3"/><stop offset="0.606" stop-color="#def2b2"/><stop offset="0.685" stop-color="#e9f6b1"/><stop offset="0.703" stop-color="#eaf7b1"/><stop offset="0.720" stop-color="#f1faba"/><stop offset="0.729" stop-color="#ebf7b1"/><stop offset="1.000" stop-color="#eef8b3"/></linearGradient><linearGradient id="gk38" gradientUnits="userSpaceOnUse" x1="437.3" y1="0" x2="522.7" y2="0"><stop offset="0.000" stop-color="#eef8b3"/><stop offset="0.422" stop-color="#ebf7b1"/><stop offset="0.430" stop-color="#f1faba"/><stop offset="0.457" stop-color="#e9f6b1"/><stop offset="0.536" stop-color="#dcf1b2"/><stop offset="0.544" stop-color="#d6efb3"/><stop offset="0.553" stop-color="#bae4b5"/><stop offset="0.562" stop-color="#6ec7bd"/><stop offset="0.571" stop-color="#3bafc3"/><stop offset="0.580" stop-color="#44b7c4"/><stop offset="0.588" stop-color="#8ed3ba"/><stop offset="0.597" stop-color="#cfecb3"/><stop offset="0.606" stop-color="#dff3b2"/><stop offset="0.703" stop-color="#eaf7b1"/><stop offset="0.720" stop-color="#f1faba"/><stop offset="0.729" stop-color="#ebf7b1"/><stop offset="1.000" stop-color="#eef8b3"/></linearGradient><linearGradient id="gk39" gradientUnits="userSpaceOnUse" x1="437.3" y1="0" x2="522.7" y2="0"><stop offset="0.000" stop-color="#eef8b3"/><stop offset="0.422" stop-color="#ebf7b1"/><stop offset="0.430" stop-color="#f1faba"/><stop offset="0.457" stop-color="#e9f7b1"/><stop offset="0.544" stop-color="#d7efb3"/><stop offset="0.553" stop-color="#bce5b5"/><stop offset="0.562" stop-color="#71c8bd"/><stop offset="0.571" stop-color="#3bb0c3"/><stop offset="0.580" stop-color="#46b8c3"/><stop offset="0.588" stop-color="#91d4b9"/><stop offset="0.597" stop-color="#d0edb3"/><stop offset="0.606" stop-color="#e0f3b2"/><stop offset="0.703" stop-color="#eaf7b1"/><stop offset="0.720" stop-color="#f1faba"/><stop offset="0.729" stop-color="#ebf7b1"/><stop offset="1.000" stop-color="#eef8b3"/></linearGradient><linearGradient id="gk40" gradientUnits="userSpaceOnUse" x1="437.3" y1="0" x2="522.7" y2="0"><stop offset="0.000" stop-color="#eef8b3"/><stop offset="0.422" stop-color="#ebf7b1"/><stop offset="0.430" stop-color="#f1faba"/><stop offset="0.457" stop-color="#e9f7b1"/><stop offset="0.544" stop-color="#d4eeb3"/><stop offset="0.553" stop-color="#b5e2b6"/><stop offset="0.562" stop-color="#66c4bf"/><stop offset="0.571" stop-color="#32a7c2"/><stop offset="0.580" stop-color="#3bb0c3"/><stop offset="0.597" stop-color="#ceecb3"/><stop offset="0.606" stop-color="#def2b2"/><stop offset="0.667" stop-color="#e8f6b1"/><stop offset="0.703" stop-color="#eaf7b1"/><stop offset="0.720" stop-color="#f1fabb"/><stop offset="0.729" stop-color="#ebf7b1"/><stop offset="1.000" stop-color="#eef8b3"/></linearGradient><linearGradient id="gk41" gradientUnits="userSpaceOnUse" x1="437.3" y1="0" x2="522.7" y2="0"><stop offset="0.000" stop-color="#eef8b4"/><stop offset="0.422" stop-color="#ebf7b1"/><stop offset="0.430" stop-color="#f1fabb"/><stop offset="0.457" stop-color="#e9f7b1"/><stop offset="0.544" stop-color="#d8f0b3"/><stop offset="0.553" stop-color="#c1e7b5"/><stop offset="0.562" stop-color="#74c9bd"/><stop offset="0.571" stop-color="#3cb1c3"/><stop offset="0.580" stop-color="#48b9c3"/><stop offset="0.588" stop-color="#96d6b9"/><stop offset="0.597" stop-color="#d2edb3"/><stop offset="0.606" stop-color="#e1f3b2"/><stop offset="0.703" stop-color="#eaf7b1"/><stop offset="0.720" stop-color="#f1fabb"/><stop offset="0.729" stop-color="#ebf7b1"/><stop offset="1.000" stop-color="#eef8b4"/></linearGradient><linearGradient id="gk42" gradientUnits="userSpaceOnUse" x1="437.3" y1="0" x2="522.7" y2="0"><stop offset="0.000" stop-color="#eef8b4"/><stop offset="0.422" stop-color="#ebf7b1"/><stop offset="0.430" stop-color="#f1fabb"/><stop offset="0.457" stop-color="#eaf7b1"/><stop offset="0.544" stop-color="#d8f0b3"/><stop offset="0.553" stop-color="#c2e7b4"/><stop offset="0.562" stop-color="#74c9bd"/><stop offset="0.571" stop-color="#3cb1c3"/><stop offset="0.580" stop-color="#47b8c3"/><stop offset="0.588" stop-color="#97d6b9"/><stop offset="0.597" stop-color="#d3eeb3"/><stop offset="0.606" stop-color="#e1f3b2"/><stop offset="0.703" stop-color="#eaf7b1"/><stop offset="0.720" stop-color="#f1fabb"/><stop offset="0.729" stop-color="#ebf7b1"/><stop offset="1.000" stop-color="#eef8b4"/></linearGradient><linearGradient id="gk43" gradientUnits="userSpaceOnUse" x1="437.3" y1="0" x2="522.7" y2="0"><stop offset="0.000" stop-color="#eef8b4"/><stop offset="0.422" stop-color="#ebf7b1"/><stop offset="0.430" stop-color="#f1fabb"/><stop offset="0.457" stop-color="#eaf7b1"/><stop offset="0.544" stop-color="#dbf1b2"/><stop offset="0.553" stop-color="#c9eab4"/><stop offset="0.562" stop-color="#7fcdbb"/><stop offset="0.571" stop-color="#44b7c4"/><stop offset="0.580" stop-color="#53bdc1"/><stop offset="0.588" stop-color="#a1dab8"/><stop offset="0.597" stop-color="#d6efb3"/><stop offset="0.606" stop-color="#e3f4b2"/><stop offset="0.703" stop-color="#eaf7b1"/><stop offset="0.720" stop-color="#f1fabb"/><stop offset="0.729" stop-color="#ecf7b1"/><stop offset="1.000" stop-color="#eef8b4"/></linearGradient><linearGradient id="gk44" gradientUnits="userSpaceOnUse" x1="437.3" y1="0" x2="522.7" y2="0"><stop offset="0.000" stop-color="#eef9b4"/><stop offset="0.422" stop-color="#ecf7b1"/><stop offset="0.430" stop-color="#f1fabb"/><stop offset="0.457" stop-color="#eaf7b1"/><stop offset="0.544" stop-color="#dcf1b2"/><stop offset="0.553" stop-color="#c9eab4"/><stop offset="0.562" stop-color="#7fcdbb"/><stop offset="0.571" stop-color="#42b6c4"/><stop offset="0.580" stop-color="#52bcc2"/><stop offset="0.588" stop-color="#a1dab8"/><stop offset="0.597" stop-color="#d7efb3"/><stop offset="0.606" stop-color="#e3f4b2"/><stop offset="0.703" stop-color="#eaf7b1"/><stop offset="0.720" stop-color="#f2fabb"/><stop offset="0.729" stop-color="#ecf7b1"/><stop offset="1.000" stop-color="#eef8b4"/></linearGradient><linearGradient id="gk45" gradientUnits="userSpaceOnUse" x1="437.3" y1="0" x2="522.7" y2="0"><stop offset="0.000" stop-color="#eef9b4"/><stop offset="0.422" stop-color="#ecf7b1"/><stop offset="0.430" stop-color="#f1fabb"/><stop offset="0.457" stop-color="#eaf7b1"/><stop offset="0.544" stop-color="#ddf2b2"/><stop offset="0.553" stop-color="#ccebb4"/><stop offset="0.562" stop-color="#86d0ba"/><stop offset="0.571" stop-color="#49b9c3"/><stop offset="0.580" stop-color="#58bfc1"/><stop offset="0.588" stop-color="#a8ddb7"/><stop offset="0.597" stop-color="#d9f0b3"/><stop offset="0.606" stop-color="#e4f4b2"/><stop offset="0.703" stop-color="#eaf7b1"/><stop offset="0.711" stop-color="#f1fabb"/><stop offset="0.720" stop-color="#f2fabb"/><stop offset="0.729" stop-color="#ecf8b1"/><stop offset="1.000" stop-color="#eef9b4"/></linearGradient><linearGradient id="gk46" gradientUnits="userSpaceOnUse" x1="437.3" y1="0" x2="522.7" y2="0"><stop offset="0.000" stop-color="#eef9b4"/><stop offset="0.422" stop-color="#ecf7b1"/><stop offset="0.430" stop-color="#f2fabb"/><stop offset="0.457" stop-color="#eaf7b1"/><stop offset="0.544" stop-color="#dff2b2"/><stop offset="0.553" stop-color="#ceecb3"/><stop offset="0.571" stop-color="#4dbbc2"/><stop offset="0.580" stop-color="#5dc0c0"/><stop offset="0.588" stop-color="#acdfb7"/><stop offset="0.597" stop-color="#daf0b3"/><stop offset="0.615" stop-color="#e6f5b2"/><stop offset="0.703" stop-color="#ebf7b1"/><stop offset="0.711" stop-color="#f1fabb"/><stop offset="0.720" stop-color="#f2fabb"/><stop offset="0.729" stop-color="#ecf8b1"/><stop offset="1.000" stop-color="#eef9b4"/></linearGradient><linearGradient id="gk47" gradientUnits="userSpaceOnUse" x1="437.3" y1="0" x2="522.7" y2="0"><stop offset="0.000" stop-color="#eef9b4"/><stop offset="0.422" stop-color="#ecf8b1"/><stop offset="0.430" stop-color="#f2fabb"/><stop offset="0.439" stop-color="#f1fabb"/><stop offset="0.448" stop-color="#ebf7b1"/><stop offset="0.544" stop-color="#dff2b2"/><stop offset="0.553" stop-color="#cfecb3"/><stop offset="0.571" stop-color="#4bbac2"/><stop offset="0.580" stop-color="#5bc0c0"/><stop offset="0.588" stop-color="#addfb7"/><stop offset="0.597" stop-color="#daf1b2"/><stop offset="0.615" stop-color="#e7f5b2"/><stop offset="0.703" stop-color="#ebf7b1"/><stop offset="0.711" stop-color="#f1fabb"/><stop offset="0.720" stop-color="#f2fabb"/><stop offset="0.729" stop-color="#ecf8b1"/><stop offset="1.000" stop-color="#eef9b4"/></linearGradient><linearGradient id="gk48" gradientUnits="userSpaceOnUse" x1="437.3" y1="0" x2="522.7" y2="0"><stop offset="0.000" stop-color="#eef9b4"/><stop offset="0.422" stop-color="#ecf8b1"/><stop offset="0.430" stop-color="#f2fabb"/><stop offset="0.439" stop-color="#f1fabb"/><stop offset="0.448" stop-color="#ebf7b1"/><stop offset="0.544" stop-color="#e0f3b2"/><stop offset="0.553" stop-color="#d1edb3"/><stop offset="0.571" stop-color="#4fbbc2"/><stop offset="0.580" stop-color="#5fc1c0"/><stop offset="0.588" stop-color="#b1e0b6"/><stop offset="0.597" stop-color="#dbf1b2"/><stop offset="0.615" stop-color="#e7f6b1"/><stop offset="0.703" stop-color="#ebf7b1"/><stop offset="0.711" stop-color="#f1fabb"/><stop offset="0.720" stop-color="#f2fabb"/><stop offset="0.729" stop-color="#ecf8b1"/><stop offset="1.000" stop-color="#eef9b4"/></linearGradient><linearGradient id="gk49" gradientUnits="userSpaceOnUse" x1="437.3" y1="0" x2="522.7" y2="0"><stop offset="0.000" stop-color="#eff9b4"/><stop offset="0.422" stop-color="#ecf8b1"/><stop offset="0.430" stop-color="#f2fabb"/><stop offset="0.439" stop-color="#f1fabb"/><stop offset="0.448" stop-color="#ebf7b1"/><stop offset="0.544" stop-color="#e0f3b2"/><stop offset="0.553" stop-color="#d1edb3"/><stop offset="0.571" stop-color="#4cbac2"/><stop offset="0.580" stop-color="#5cc0c0"/><stop offset="0.588" stop-color="#b1e0b6"/><stop offset="0.597" stop-color="#dcf1b2"/><stop offset="0.615" stop-color="#e7f6b1"/><stop offset="0.703" stop-color="#ebf7b1"/><stop offset="0.711" stop-color="#f2fabb"/><stop offset="0.720" stop-color="#f2fabc"/><stop offset="0.729" stop-color="#ecf8b1"/><stop offset="1.000" stop-color="#eff9b4"/></linearGradient><linearGradient id="gk50" gradientUnits="userSpaceOnUse" x1="437.3" y1="0" x2="522.7" y2="0"><stop offset="0.000" stop-color="#eff9b4"/><stop offset="0.422" stop-color="#ecf8b1"/><stop offset="0.430" stop-color="#f2fabb"/><stop offset="0.439" stop-color="#f2fabb"/><stop offset="0.448" stop-color="#ebf7b1"/><stop offset="0.544" stop-color="#e2f4b2"/><stop offset="0.553" stop-color="#d4eeb3"/><stop offset="0.571" stop-color="#54bdc1"/><stop offset="0.580" stop-color="#65c3bf"/><stop offset="0.588" stop-color="#b7e3b6"/><stop offset="0.597" stop-color="#ddf2b2"/><stop offset="0.615" stop-color="#e7f6b1"/><stop offset="0.703" stop-color="#ebf7b1"/><stop offset="0.711" stop-color="#f2fabb"/><stop offset="0.720" stop-color="#f2fabc"/><stop offset="0.729" stop-color="#ecf8b1"/><stop offset="1.000" stop-color="#eff9b4"/></linearGradient><linearGradient id="gk51" gradientUnits="userSpaceOnUse" x1="437.3" y1="0" x2="522.7" y2="0"><stop offset="0.000" stop-color="#eff9b5"/><stop offset="0.422" stop-color="#ecf8b1"/><stop offset="0.430" stop-color="#f2fabc"/><stop offset="0.439" stop-color="#f2fabb"/><stop offset="0.448" stop-color="#ebf7b1"/><stop offset="0.544" stop-color="#e2f4b2"/><stop offset="0.553" stop-color="#d4eeb3"/><stop offset="0.571" stop-color="#53bdc1"/><stop offset="0.580" stop-color="#64c3bf"/><stop offset="0.588" stop-color="#b8e3b5"/><stop offset="0.597" stop-color="#def2b2"/><stop offset="0.615" stop-color="#e7f6b1"/><stop offset="0.703" stop-color="#ebf7b1"/><stop offset="0.711" stop-color="#f2fabb"/><stop offset="0.720" stop-color="#f2fabc"/><stop offset="0.729" stop-color="#ecf8b1"/><stop offset="1.000" stop-color="#eff9b5"/></linearGradient><linearGradient id="gk52" gradientUnits="userSpaceOnUse" x1="437.3" y1="0" x2="522.7" y2="0"><stop offset="0.000" stop-color="#eff9b5"/><stop offset="0.422" stop-color="#ecf8b1"/><stop offset="0.430" stop-color="#f2fabc"/><stop offset="0.439" stop-color="#f2fabb"/><stop offset="0.448" stop-color="#ebf7b1"/><stop offset="0.544" stop-color="#e3f4b2"/><stop offset="0.553" stop-color="#d6efb3"/><stop offset="0.562" stop-color="#9dd9b8"/><stop offset="0.571" stop-color="#59bfc1"/><stop offset="0.580" stop-color="#6ac5be"/><stop offset="0.588" stop-color="#bde5b5"/><stop offset="0.597" stop-color="#def2b2"/><stop offset="0.615" stop-color="#e7f6b1"/><stop offset="0.703" stop-color="#ebf7b1"/><stop offset="0.711" stop-color="#f2fabb"/><stop offset="0.720" stop-color="#f2fabc"/><stop offset="0.729" stop-color="#ecf8b1"/><stop offset="1.000" stop-color="#eff9b5"/></linearGradient><linearGradient id="gk53" gradientUnits="userSpaceOnUse" x1="437.3" y1="0" x2="522.7" y2="0"><stop offset="0.000" stop-color="#eff9b5"/><stop offset="0.422" stop-color="#ecf8b1"/><stop offset="0.430" stop-color="#f2fabc"/><stop offset="0.439" stop-color="#f2fabb"/><stop offset="0.448" stop-color="#ebf7b1"/><stop offset="0.544" stop-color="#e3f4b2"/><stop offset="0.553" stop-color="#d7efb3"/><stop offset="0.562" stop-color="#9fdab8"/><stop offset="0.571" stop-color="#5bc0c0"/><stop offset="0.580" stop-color="#6bc6be"/><stop offset="0.588" stop-color="#bfe6b5"/><stop offset="0.597" stop-color="#dff2b2"/><stop offset="0.624" stop-color="#e8f6b1"/><stop offset="0.703" stop-color="#ebf7b1"/><stop offset="0.711" stop-color="#f2fabc"/><stop offset="0.720" stop-color="#f2fabc"/><stop offset="0.729" stop-color="#edf8b1"/><stop offset="1.000" stop-color="#eff9b5"/></linearGradient><linearGradient id="gk54" gradientUnits="userSpaceOnUse" x1="437.3" y1="0" x2="522.7" y2="0"><stop offset="0.000" stop-color="#eff9b5"/><stop offset="0.422" stop-color="#edf8b1"/><stop offset="0.430" stop-color="#f2fabc"/><stop offset="0.439" stop-color="#f2fabb"/><stop offset="0.448" stop-color="#ebf7b1"/><stop offset="0.544" stop-color="#e5f5b2"/><stop offset="0.553" stop-color="#daf0b3"/><stop offset="0.562" stop-color="#a9ddb7"/><stop offset="0.571" stop-color="#66c4bf"/><stop offset="0.580" stop-color="#76cabc"/><stop offset="0.588" stop-color="#c5e8b4"/><stop offset="0.597" stop-color="#e0f3b2"/><stop offset="0.632" stop-color="#e8f6b1"/><stop offset="0.703" stop-color="#ebf7b1"/><stop offset="0.711" stop-color="#f2fabc"/><stop offset="0.720" stop-color="#f2fabc"/><stop offset="0.729" stop-color="#edf8b1"/><stop offset="1.000" stop-color="#eff9b5"/></linearGradient><linearGradient id="gk55" gradientUnits="userSpaceOnUse" x1="437.3" y1="0" x2="522.7" y2="0"><stop offset="0.000" stop-color="#eff9b5"/><stop offset="0.422" stop-color="#edf8b1"/><stop offset="0.430" stop-color="#f2fabc"/><stop offset="0.439" stop-color="#f2fabc"/><stop offset="0.448" stop-color="#ebf7b1"/><stop offset="0.544" stop-color="#e6f5b2"/><stop offset="0.553" stop-color="#dcf1b2"/><stop offset="0.562" stop-color="#b5e2b6"/><stop offset="0.571" stop-color="#75c9bd"/><stop offset="0.580" stop-color="#84cfbb"/><stop offset="0.588" stop-color="#caeab4"/><stop offset="0.597" stop-color="#e1f3b2"/><stop offset="0.667" stop-color="#eaf7b1"/><stop offset="0.703" stop-color="#ebf7b1"/><stop offset="0.711" stop-color="#f2fabc"/><stop offset="0.720" stop-color="#f2fabc"/><stop offset="0.729" stop-color="#edf8b1"/><stop offset="1.000" stop-color="#eff9b5"/></linearGradient><linearGradient id="gk56" gradientUnits="userSpaceOnUse" x1="437.3" y1="0" x2="522.7" y2="0"><stop offset="0.000" stop-color="#eff9b5"/><stop offset="0.422" stop-color="#edf8b1"/><stop offset="0.430" stop-color="#f2fabc"/><stop offset="0.439" stop-color="#f2fabc"/><stop offset="0.448" stop-color="#ebf7b1"/><stop offset="0.544" stop-color="#e6f5b2"/><stop offset="0.553" stop-color="#dbf1b2"/><stop offset="0.562" stop-color="#afe0b6"/><stop offset="0.571" stop-color="#6bc6be"/><stop offset="0.580" stop-color="#7bcbbc"/><stop offset="0.588" stop-color="#c9eab4"/><stop offset="0.597" stop-color="#e1f3b2"/><stop offset="0.659" stop-color="#e9f7b1"/><stop offset="0.703" stop-color="#ecf7b1"/><stop offset="0.711" stop-color="#f2fabc"/><stop offset="0.720" stop-color="#f2fabc"/><stop offset="0.729" stop-color="#edf8b1"/><stop offset="1.000" stop-color="#eff9b5"/></linearGradient><linearGradient id="gk57" gradientUnits="userSpaceOnUse" x1="437.3" y1="0" x2="522.7" y2="0"><stop offset="0.000" stop-color="#eff9b5"/><stop offset="0.422" stop-color="#edf8b1"/><stop offset="0.430" stop-color="#f2fabc"/><stop offset="0.439" stop-color="#f2fabc"/><stop offset="0.448" stop-color="#ecf7b1"/><stop offset="0.544" stop-color="#e6f5b2"/><stop offset="0.553" stop-color="#dcf1b2"/><stop offset="0.562" stop-color="#b1e1b6"/><stop offset="0.571" stop-color="#6dc7be"/><stop offset="0.580" stop-color="#7dccbb"/><stop offset="0.588" stop-color="#caeab4"/><stop offset="0.597" stop-color="#e2f4b2"/><stop offset="0.703" stop-color="#ecf7b1"/><stop offset="0.711" stop-color="#f2fabc"/><stop offset="0.720" stop-color="#f2fabc"/><stop offset="0.729" stop-color="#edf8b1"/><stop offset="1.000" stop-color="#eff9b5"/></linearGradient><linearGradient id="gk58" gradientUnits="userSpaceOnUse" x1="437.3" y1="0" x2="522.7" y2="0"><stop offset="0.000" stop-color="#eff9b5"/><stop offset="0.422" stop-color="#edf8b1"/><stop offset="0.430" stop-color="#f2fabc"/><stop offset="0.439" stop-color="#f2fabc"/><stop offset="0.448" stop-color="#ecf7b1"/><stop offset="0.544" stop-color="#e6f5b2"/><stop offset="0.553" stop-color="#ddf2b2"/><stop offset="0.562" stop-color="#b7e3b6"/><stop offset="0.571" stop-color="#73c9bd"/><stop offset="0.580" stop-color="#83cfbb"/><stop offset="0.588" stop-color="#ccebb4"/><stop offset="0.597" stop-color="#e2f4b2"/><stop offset="0.703" stop-color="#ecf8b1"/><stop offset="0.711" stop-color="#f2fabc"/><stop offset="0.720" stop-color="#f2fabc"/><stop offset="0.729" stop-color="#edf8b1"/><stop offset="1.000" stop-color="#eff9b5"/></linearGradient><linearGradient id="gk59" gradientUnits="userSpaceOnUse" x1="437.3" y1="0" x2="522.7" y2="0"><stop offset="0.000" stop-color="#eff9b5"/><stop offset="0.422" stop-color="#edf8b1"/><stop offset="0.430" stop-color="#f2fabc"/><stop offset="0.439" stop-color="#f2fabc"/><stop offset="0.448" stop-color="#ecf7b1"/><stop offset="0.544" stop-color="#e7f6b1"/><stop offset="0.553" stop-color="#dff3b2"/><stop offset="0.562" stop-color="#bfe6b5"/><stop offset="0.571" stop-color="#7ecdbb"/><stop offset="0.580" stop-color="#8fd3b9"/><stop offset="0.588" stop-color="#cfecb3"/><stop offset="0.597" stop-color="#e3f4b2"/><stop offset="0.703" stop-color="#ecf8b1"/><stop offset="0.711" stop-color="#f2fabc"/><stop offset="0.720" stop-color="#f2fabd"/><stop offset="0.729" stop-color="#edf8b1"/><stop offset="1.000" stop-color="#eff9b5"/></linearGradient><linearGradient id="gk60" gradientUnits="userSpaceOnUse" x1="437.3" y1="0" x2="522.7" y2="0"><stop offset="0.000" stop-color="#eff9b6"/><stop offset="0.422" stop-color="#edf8b1"/><stop offset="0.430" stop-color="#f2fabd"/><stop offset="0.439" stop-color="#f2fabc"/><stop offset="0.448" stop-color="#ecf8b1"/><stop offset="0.544" stop-color="#e7f6b1"/><stop offset="0.553" stop-color="#e0f3b2"/><stop offset="0.562" stop-color="#c2e7b5"/><stop offset="0.571" stop-color="#80cdbb"/><stop offset="0.580" stop-color="#91d4b9"/><stop offset="0.588" stop-color="#d0edb3"/><stop offset="0.597" stop-color="#e4f4b2"/><stop offset="0.703" stop-color="#ecf8b1"/><stop offset="0.711" stop-color="#f2fabc"/><stop offset="0.720" stop-color="#f2fabd"/><stop offset="0.729" stop-color="#edf8b1"/><stop offset="1.000" stop-color="#eff9b6"/></linearGradient><linearGradient id="gk61" gradientUnits="userSpaceOnUse" x1="437.3" y1="0" x2="522.7" y2="0"><stop offset="0.000" stop-color="#eff9b6"/><stop offset="0.422" stop-color="#edf8b1"/><stop offset="0.430" stop-color="#f2fabd"/><stop offset="0.439" stop-color="#f2fabc"/><stop offset="0.448" stop-color="#ecf8b1"/><stop offset="0.544" stop-color="#e7f6b1"/><stop offset="0.553" stop-color="#e1f3b2"/><stop offset="0.562" stop-color="#c9eab4"/><stop offset="0.571" stop-color="#8fd3b9"/><stop offset="0.580" stop-color="#9ed9b8"/><stop offset="0.588" stop-color="#d3eeb3"/><stop offset="0.597" stop-color="#e4f5b2"/><stop offset="0.703" stop-color="#ecf8b1"/><stop offset="0.711" stop-color="#f2fabc"/><stop offset="0.720" stop-color="#f2fabd"/><stop offset="0.729" stop-color="#edf8b1"/><stop offset="1.000" stop-color="#eff9b6"/></linearGradient><linearGradient id="gk62" gradientUnits="userSpaceOnUse" x1="437.3" y1="0" x2="522.7" y2="0"><stop offset="0.000" stop-color="#eff9b6"/><stop offset="0.422" stop-color="#edf8b1"/><stop offset="0.430" stop-color="#f2fabd"/><stop offset="0.439" stop-color="#f2fabc"/><stop offset="0.448" stop-color="#ecf8b1"/><stop offset="0.544" stop-color="#e7f6b1"/><stop offset="0.553" stop-color="#e1f3b2"/><stop offset="0.562" stop-color="#c7e9b4"/><stop offset="0.571" stop-color="#88d0ba"/><stop offset="0.580" stop-color="#98d7b9"/><stop offset="0.588" stop-color="#d3eeb3"/><stop offset="0.597" stop-color="#e5f5b2"/><stop offset="0.703" stop-color="#ecf8b1"/><stop offset="0.711" stop-color="#f2fabc"/><stop offset="0.720" stop-color="#f2fabd"/><stop offset="0.729" stop-color="#edf8b2"/><stop offset="1.000" stop-color="#eff9b6"/></linearGradient><linearGradient id="gk63" gradientUnits="userSpaceOnUse" x1="437.3" y1="0" x2="522.7" y2="0"><stop offset="0.000" stop-color="#eff9b6"/><stop offset="0.422" stop-color="#edf8b1"/><stop offset="0.430" stop-color="#f2fabd"/><stop offset="0.439" stop-color="#f2fabc"/><stop offset="0.448" stop-color="#ecf8b1"/><stop offset="0.544" stop-color="#e8f6b1"/><stop offset="0.553" stop-color="#e2f4b2"/><stop offset="0.562" stop-color="#cbeab4"/><stop offset="0.571" stop-color="#92d4b9"/><stop offset="0.580" stop-color="#a2dab8"/><stop offset="0.588" stop-color="#d5efb3"/><stop offset="0.597" stop-color="#e5f5b2"/><stop offset="0.703" stop-color="#ecf8b1"/><stop offset="0.711" stop-color="#f2fabd"/><stop offset="0.720" stop-color="#f2fabd"/><stop offset="0.729" stop-color="#edf8b2"/><stop offset="1.000" stop-color="#eff9b6"/></linearGradient><linearGradient id="gk64" gradientUnits="userSpaceOnUse" x1="437.3" y1="0" x2="522.7" y2="0"><stop offset="0.000" stop-color="#eff9b6"/><stop offset="0.422" stop-color="#edf8b2"/><stop offset="0.430" stop-color="#f2fabd"/><stop offset="0.439" stop-color="#f2fabd"/><stop offset="0.448" stop-color="#ecf8b1"/><stop offset="0.553" stop-color="#e3f4b2"/><stop offset="0.562" stop-color="#ceecb3"/><stop offset="0.571" stop-color="#9cd8b8"/><stop offset="0.580" stop-color="#abdeb7"/><stop offset="0.588" stop-color="#d7efb3"/><stop offset="0.597" stop-color="#e6f5b2"/><stop offset="0.703" stop-color="#ecf8b1"/><stop offset="0.711" stop-color="#f2fabd"/><stop offset="0.720" stop-color="#f2fabd"/><stop offset="0.729" stop-color="#edf8b2"/><stop offset="1.000" stop-color="#eff9b6"/></linearGradient><linearGradient id="gk65" gradientUnits="userSpaceOnUse" x1="437.3" y1="0" x2="522.7" y2="0"><stop offset="0.000" stop-color="#eff9b6"/><stop offset="0.422" stop-color="#edf8b2"/><stop offset="0.430" stop-color="#f2fabd"/><stop offset="0.439" stop-color="#f2fabd"/><stop offset="0.448" stop-color="#ecf8b1"/><stop offset="0.553" stop-color="#e4f4b2"/><stop offset="0.562" stop-color="#d0edb3"/><stop offset="0.571" stop-color="#a5dcb7"/><stop offset="0.580" stop-color="#b3e1b6"/><stop offset="0.588" stop-color="#d9f0b3"/><stop offset="0.597" stop-color="#e6f5b2"/><stop offset="0.703" stop-color="#ecf8b1"/><stop offset="0.711" stop-color="#f2fabd"/><stop offset="0.720" stop-color="#f3fabd"/><stop offset="0.729" stop-color="#edf8b2"/><stop offset="1.000" stop-color="#eff9b6"/></linearGradient><linearGradient id="gk66" gradientUnits="userSpaceOnUse" x1="437.3" y1="0" x2="522.7" y2="0"><stop offset="0.000" stop-color="#eff9b6"/><stop offset="0.422" stop-color="#edf8b2"/><stop offset="0.430" stop-color="#f2fabd"/><stop offset="0.439" stop-color="#f2fabd"/><stop offset="0.448" stop-color="#ecf8b1"/><stop offset="0.553" stop-color="#e4f4b2"/><stop offset="0.562" stop-color="#cfecb3"/><stop offset="0.571" stop-color="#9cd8b8"/><stop offset="0.580" stop-color="#abdeb7"/><stop offset="0.588" stop-color="#d8f0b3"/><stop offset="0.597" stop-color="#e6f5b2"/><stop offset="0.703" stop-color="#edf8b1"/><stop offset="0.711" stop-color="#f2fabd"/><stop offset="0.720" stop-color="#f3fabd"/><stop offset="0.729" stop-color="#edf8b2"/><stop offset="1.000" stop-color="#eff9b6"/></linearGradient><linearGradient id="gk67" gradientUnits="userSpaceOnUse" x1="437.3" y1="0" x2="522.7" y2="0"><stop offset="0.000" stop-color="#eff9b6"/><stop offset="0.422" stop-color="#edf8b2"/><stop offset="0.430" stop-color="#f3fabd"/><stop offset="0.439" stop-color="#f2fabd"/><stop offset="0.448" stop-color="#edf8b1"/><stop offset="0.553" stop-color="#e4f5b2"/><stop offset="0.562" stop-color="#d0edb3"/><stop offset="0.571" stop-color="#9fd9b8"/><stop offset="0.580" stop-color="#aedfb6"/><stop offset="0.588" stop-color="#d9f0b3"/><stop offset="0.597" stop-color="#e7f5b2"/><stop offset="0.703" stop-color="#edf8b1"/><stop offset="0.711" stop-color="#f2fabd"/><stop offset="0.720" stop-color="#f3fabd"/><stop offset="0.729" stop-color="#edf8b2"/><stop offset="1.000" stop-color="#eff9b6"/></linearGradient><linearGradient id="gk68" gradientUnits="userSpaceOnUse" x1="437.3" y1="0" x2="522.7" y2="0"><stop offset="0.000" stop-color="#eff9b6"/><stop offset="0.422" stop-color="#edf8b2"/><stop offset="0.430" stop-color="#f3fabd"/><stop offset="0.439" stop-color="#f2fabd"/><stop offset="0.448" stop-color="#edf8b1"/><stop offset="0.553" stop-color="#e5f5b2"/><stop offset="0.562" stop-color="#d5efb3"/><stop offset="0.571" stop-color="#b3e1b6"/><stop offset="0.580" stop-color="#c0e6b5"/><stop offset="0.588" stop-color="#ddf2b2"/><stop offset="0.606" stop-color="#e9f6b1"/><stop offset="0.703" stop-color="#edf8b1"/><stop offset="0.711" stop-color="#f2fabd"/><stop offset="0.720" stop-color="#f3fabe"/><stop offset="0.729" stop-color="#eef8b2"/><stop offset="1.000" stop-color="#eff9b6"/></linearGradient><linearGradient id="gk69" gradientUnits="userSpaceOnUse" x1="437.3" y1="0" x2="522.7" y2="0"><stop offset="0.000" stop-color="#eff9b6"/><stop offset="0.422" stop-color="#edf8b2"/><stop offset="0.430" stop-color="#f3fabd"/><stop offset="0.439" stop-color="#f2fabd"/><stop offset="0.448" stop-color="#edf8b1"/><stop offset="0.553" stop-color="#e5f5b2"/><stop offset="0.562" stop-color="#d4eeb3"/><stop offset="0.571" stop-color="#acdeb7"/><stop offset="0.580" stop-color="#bae4b5"/><stop offset="0.588" stop-color="#dcf1b2"/><stop offset="0.597" stop-color="#e7f6b1"/><stop offset="0.703" stop-color="#edf8b1"/><stop offset="0.711" stop-color="#f2fabd"/><stop offset="0.720" stop-color="#f3fabe"/><stop offset="0.729" stop-color="#eef8b2"/><stop offset="1.000" stop-color="#eff9b6"/></linearGradient><linearGradient id="gk70" gradientUnits="userSpaceOnUse" x1="437.3" y1="0" x2="522.7" y2="0"><stop offset="0.000" stop-color="#f0f9b7"/><stop offset="0.422" stop-color="#eef8b2"/><stop offset="0.430" stop-color="#f3fabe"/><stop offset="0.439" stop-color="#f2fabd"/><stop offset="0.448" stop-color="#edf8b1"/><stop offset="0.553" stop-color="#e6f5b2"/><stop offset="0.562" stop-color="#d7efb3"/><stop offset="0.571" stop-color="#b7e3b6"/><stop offset="0.580" stop-color="#c4e8b4"/><stop offset="0.588" stop-color="#def2b2"/><stop offset="0.606" stop-color="#e9f6b1"/><stop offset="0.703" stop-color="#edf8b1"/><stop offset="0.711" stop-color="#f3fabd"/><stop offset="0.720" stop-color="#f3fabe"/><stop offset="0.729" stop-color="#eef8b2"/><stop offset="1.000" stop-color="#f0f9b7"/></linearGradient><linearGradient id="gk71" gradientUnits="userSpaceOnUse" x1="437.3" y1="0" x2="522.7" y2="0"><stop offset="0.000" stop-color="#f0f9b7"/><stop offset="0.422" stop-color="#eef8b2"/><stop offset="0.430" stop-color="#f3fabe"/><stop offset="0.439" stop-color="#f3fabd"/><stop offset="0.448" stop-color="#edf8b1"/><stop offset="0.553" stop-color="#e7f5b2"/><stop offset="0.562" stop-color="#d9f0b3"/><stop offset="0.571" stop-color="#c0e6b5"/><stop offset="0.580" stop-color="#c9eab4"/><stop offset="0.588" stop-color="#e0f3b2"/><stop offset="0.606" stop-color="#e9f6b1"/><stop offset="0.703" stop-color="#edf8b1"/><stop offset="0.711" stop-color="#f3fabd"/><stop offset="0.720" stop-color="#f3fabe"/><stop offset="0.729" stop-color="#eef8b2"/><stop offset="1.000" stop-color="#f0f9b7"/></linearGradient><linearGradient id="gk72" gradientUnits="userSpaceOnUse" x1="437.3" y1="0" x2="522.7" y2="0"><stop offset="0.000" stop-color="#f0f9b7"/><stop offset="0.422" stop-color="#eef8b2"/><stop offset="0.430" stop-color="#f3fabe"/><stop offset="0.439" stop-color="#f3fabd"/><stop offset="0.448" stop-color="#edf8b1"/><stop offset="0.553" stop-color="#e7f6b1"/><stop offset="0.562" stop-color="#daf1b2"/><stop offset="0.571" stop-color="#c2e7b4"/><stop offset="0.580" stop-color="#cbeab4"/><stop offset="0.588" stop-color="#e0f3b2"/><stop offset="0.606" stop-color="#e9f6b1"/><stop offset="0.703" stop-color="#edf8b1"/><stop offset="0.711" stop-color="#f3fabe"/><stop offset="0.720" stop-color="#f3fabe"/><stop offset="0.729" stop-color="#eef8b3"/><stop offset="1.000" stop-color="#f0f9b7"/></linearGradient><linearGradient id="gh0" gradientUnits="userSpaceOnUse" x1="541.9" y1="0" x2="627.6" y2="0"><stop offset="0.000" stop-color="#bfe6b5"/><stop offset="0.385" stop-color="#bae4b5"/><stop offset="0.394" stop-color="#b6e3b6"/><stop offset="0.403" stop-color="#a9ddb7"/><stop offset="0.429" stop-color="#59bfc0"/><stop offset="0.438" stop-color="#60c2bf"/><stop offset="0.446" stop-color="#5bc0c0"/><stop offset="0.455" stop-color="#47b8c3"/><stop offset="0.516" stop-color="#3aafc3"/><stop offset="0.525" stop-color="#2fa3c2"/><stop offset="0.534" stop-color="#1e88bc"/><stop offset="0.543" stop-color="#2357a4"/><stop offset="0.551" stop-color="#21318b"/><stop offset="0.560" stop-color="#152772"/><stop offset="0.569" stop-color="#23328f"/><stop offset="0.586" stop-color="#2599c1"/><stop offset="0.595" stop-color="#41b6c4"/><stop offset="0.604" stop-color="#59bfc1"/><stop offset="0.630" stop-color="#66c4bf"/><stop offset="0.665" stop-color="#6dc6be"/><stop offset="0.674" stop-color="#74c9bd"/><stop offset="0.683" stop-color="#99d7b8"/><stop offset="0.691" stop-color="#b1e0b6"/><stop offset="0.700" stop-color="#aedfb6"/><stop offset="0.718" stop-color="#b8e3b5"/><stop offset="1.000" stop-color="#bfe6b5"/></linearGradient><linearGradient id="gh1" gradientUnits="userSpaceOnUse" x1="541.9" y1="0" x2="627.6" y2="0"><stop offset="0.000" stop-color="#cdebb4"/><stop offset="0.403" stop-color="#caeab4"/><stop offset="0.411" stop-color="#c4e8b4"/><stop offset="0.420" stop-color="#afe0b6"/><stop offset="0.429" stop-color="#8cd2ba"/><stop offset="0.446" stop-color="#6bc5be"/><stop offset="0.455" stop-color="#4fbbc2"/><stop offset="0.516" stop-color="#3db2c4"/><stop offset="0.525" stop-color="#31a6c2"/><stop offset="0.534" stop-color="#1d8cbe"/><stop offset="0.543" stop-color="#225ba7"/><stop offset="0.551" stop-color="#253493"/><stop offset="0.560" stop-color="#192a7b"/><stop offset="0.569" stop-color="#253795"/><stop offset="0.578" stop-color="#2169ad"/><stop offset="0.586" stop-color="#2a9ec1"/><stop offset="0.595" stop-color="#49b9c3"/><stop offset="0.604" stop-color="#60c2bf"/><stop offset="0.630" stop-color="#6dc6be"/><stop offset="0.665" stop-color="#75c9bc"/><stop offset="0.674" stop-color="#7ecdbb"/><stop offset="0.683" stop-color="#a8ddb7"/><stop offset="0.691" stop-color="#c2e7b4"/><stop offset="0.753" stop-color="#cbebb4"/><stop offset="1.000" stop-color="#cdebb4"/></linearGradient><linearGradient id="gh2" gradientUnits="userSpaceOnUse" x1="541.9" y1="0" x2="627.6" y2="0"><stop offset="0.000" stop-color="#d5efb3"/><stop offset="0.420" stop-color="#d1edb3"/><stop offset="0.438" stop-color="#c3e8b4"/><stop offset="0.446" stop-color="#9bd8b8"/><stop offset="0.455" stop-color="#68c5be"/><stop offset="0.473" stop-color="#51bcc2"/><stop offset="0.516" stop-color="#40b5c4"/><stop offset="0.525" stop-color="#35a9c3"/><stop offset="0.534" stop-color="#1e92c0"/><stop offset="0.551" stop-color="#243b97"/><stop offset="0.560" stop-color="#1f2f87"/><stop offset="0.569" stop-color="#243f99"/><stop offset="0.578" stop-color="#2072b1"/><stop offset="0.586" stop-color="#30a4c2"/><stop offset="0.595" stop-color="#51bcc2"/><stop offset="0.604" stop-color="#67c4be"/><stop offset="0.630" stop-color="#74c9bd"/><stop offset="0.665" stop-color="#7dccbb"/><stop offset="0.674" stop-color="#8ad1ba"/><stop offset="0.683" stop-color="#b6e2b6"/><stop offset="0.691" stop-color="#cdebb4"/><stop offset="0.936" stop-color="#d5efb3"/><stop offset="1.000" stop-color="#d5efb3"/></linearGradient><linearGradient id="gh3" gradientUnits="userSpaceOnUse" x1="541.9" y1="0" x2="627.6" y2="0"><stop offset="0.000" stop-color="#daf0b3"/><stop offset="0.438" stop-color="#d3eeb3"/><stop offset="0.446" stop-color="#bae4b5"/><stop offset="0.455" stop-color="#7cccbc"/><stop offset="0.464" stop-color="#63c3bf"/><stop offset="0.481" stop-color="#51bcc2"/><stop offset="0.516" stop-color="#41b6c4"/><stop offset="0.525" stop-color="#37abc3"/><stop offset="0.534" stop-color="#2195c0"/><stop offset="0.551" stop-color="#24419a"/><stop offset="0.560" stop-color="#23328f"/><stop offset="0.569" stop-color="#24459c"/><stop offset="0.578" stop-color="#2077b4"/><stop offset="0.586" stop-color="#33a8c2"/><stop offset="0.595" stop-color="#56bec1"/><stop offset="0.604" stop-color="#6bc6be"/><stop offset="0.630" stop-color="#77cabc"/><stop offset="0.665" stop-color="#82cebb"/><stop offset="0.674" stop-color="#90d4b9"/><stop offset="0.683" stop-color="#bee6b5"/><stop offset="0.691" stop-color="#d2edb3"/><stop offset="0.989" stop-color="#daf0b3"/><stop offset="1.000" stop-color="#daf0b3"/></linearGradient><linearGradient id="gh4" gradientUnits="userSpaceOnUse" x1="541.9" y1="0" x2="627.6" y2="0"><stop offset="0.000" stop-color="#def2b2"/><stop offset="0.438" stop-color="#d8f0b3"/><stop offset="0.446" stop-color="#c4e8b4"/><stop offset="0.455" stop-color="#86d0ba"/><stop offset="0.464" stop-color="#6cc6be"/><stop offset="0.481" stop-color="#5abfc0"/><stop offset="0.516" stop-color="#4bbac3"/><stop offset="0.525" stop-color="#3db2c4"/><stop offset="0.534" stop-color="#289cc1"/><stop offset="0.543" stop-color="#2074b2"/><stop offset="0.551" stop-color="#234b9f"/><stop offset="0.560" stop-color="#243c98"/><stop offset="0.569" stop-color="#234fa1"/><stop offset="0.578" stop-color="#1e83b9"/><stop offset="0.586" stop-color="#3aafc3"/><stop offset="0.595" stop-color="#60c2bf"/><stop offset="0.604" stop-color="#75c9bd"/><stop offset="0.639" stop-color="#82cebb"/><stop offset="0.665" stop-color="#8dd2ba"/><stop offset="0.674" stop-color="#9bd8b8"/><stop offset="0.683" stop-color="#c9eab4"/><stop offset="0.691" stop-color="#d8f0b3"/><stop offset="1.000" stop-color="#def2b2"/></linearGradient><linearGradient id="gh5" gradientUnits="userSpaceOnUse" x1="541.9" y1="0" x2="627.6" y2="0"><stop offset="0.000" stop-color="#e3f4b2"/><stop offset="0.438" stop-color="#dcf1b2"/><stop offset="0.446" stop-color="#c8eab4"/><stop offset="0.455" stop-color="#8ad1ba"/><stop offset="0.464" stop-color="#6fc7bd"/><stop offset="0.481" stop-color="#5cc0c0"/><stop offset="0.516" stop-color="#4cbac2"/><stop offset="0.525" stop-color="#3eb2c4"/><stop offset="0.534" stop-color="#299dc1"/><stop offset="0.543" stop-color="#2074b3"/><stop offset="0.551" stop-color="#234c9f"/><stop offset="0.560" stop-color="#243c98"/><stop offset="0.569" stop-color="#2350a1"/><stop offset="0.578" stop-color="#1e85ba"/><stop offset="0.586" stop-color="#3cb0c3"/><stop offset="0.595" stop-color="#63c3bf"/><stop offset="0.604" stop-color="#77cabc"/><stop offset="0.665" stop-color="#92d4b9"/><stop offset="0.674" stop-color="#a2dbb8"/><stop offset="0.683" stop-color="#cdebb4"/><stop offset="0.691" stop-color="#ddf1b2"/><stop offset="1.000" stop-color="#e3f4b2"/></linearGradient><linearGradient id="gh6" gradientUnits="userSpaceOnUse" x1="541.9" y1="0" x2="627.6" y2="0"><stop offset="0.000" stop-color="#e4f5b2"/><stop offset="0.438" stop-color="#e0f3b2"/><stop offset="0.446" stop-color="#d0ecb3"/><stop offset="0.455" stop-color="#9dd9b8"/><stop offset="0.464" stop-color="#82cebb"/><stop offset="0.481" stop-color="#71c8bd"/><stop offset="0.516" stop-color="#64c3bf"/><stop offset="0.525" stop-color="#55bdc1"/><stop offset="0.534" stop-color="#3aafc3"/><stop offset="0.543" stop-color="#1d92c0"/><stop offset="0.551" stop-color="#2169ad"/><stop offset="0.560" stop-color="#2259a6"/><stop offset="0.569" stop-color="#206eaf"/><stop offset="0.578" stop-color="#289cc1"/><stop offset="0.586" stop-color="#51bcc2"/><stop offset="0.595" stop-color="#78cabc"/><stop offset="0.604" stop-color="#8bd2ba"/><stop offset="0.639" stop-color="#98d7b9"/><stop offset="0.665" stop-color="#a4dbb7"/><stop offset="0.674" stop-color="#b3e1b6"/><stop offset="0.683" stop-color="#d5eeb3"/><stop offset="0.691" stop-color="#e2f4b2"/><stop offset="1.000" stop-color="#e4f5b2"/></linearGradient><linearGradient id="gh7" gradientUnits="userSpaceOnUse" x1="541.9" y1="0" x2="627.6" y2="0"><stop offset="0.000" stop-color="#e6f5b2"/><stop offset="0.438" stop-color="#e1f3b2"/><stop offset="0.446" stop-color="#cfecb3"/><stop offset="0.455" stop-color="#9ad7b8"/><stop offset="0.464" stop-color="#7ecdbb"/><stop offset="0.481" stop-color="#6cc6be"/><stop offset="0.516" stop-color="#5ec1c0"/><stop offset="0.525" stop-color="#4fbbc2"/><stop offset="0.534" stop-color="#36abc3"/><stop offset="0.543" stop-color="#1e8bbd"/><stop offset="0.551" stop-color="#2262aa"/><stop offset="0.560" stop-color="#2352a2"/><stop offset="0.569" stop-color="#2166ac"/><stop offset="0.578" stop-color="#2498c1"/><stop offset="0.586" stop-color="#4cbac2"/><stop offset="0.595" stop-color="#74c9bd"/><stop offset="0.604" stop-color="#87d0ba"/><stop offset="0.639" stop-color="#94d5b9"/><stop offset="0.665" stop-color="#a2dab8"/><stop offset="0.674" stop-color="#b3e1b6"/><stop offset="0.683" stop-color="#d5efb3"/><stop offset="0.691" stop-color="#e3f4b2"/><stop offset="1.000" stop-color="#e6f5b2"/></linearGradient><linearGradient id="gh8" gradientUnits="userSpaceOnUse" x1="541.9" y1="0" x2="627.6" y2="0"><stop offset="0.000" stop-color="#e7f5b2"/><stop offset="0.438" stop-color="#e1f3b2"/><stop offset="0.446" stop-color="#cfecb3"/><stop offset="0.455" stop-color="#96d6b9"/><stop offset="0.464" stop-color="#79cbbc"/><stop offset="0.481" stop-color="#66c4bf"/><stop offset="0.516" stop-color="#58bec1"/><stop offset="0.525" stop-color="#48b9c3"/><stop offset="0.534" stop-color="#32a6c2"/><stop offset="0.543" stop-color="#1e84ba"/><stop offset="0.551" stop-color="#225aa6"/><stop offset="0.560" stop-color="#234b9f"/><stop offset="0.569" stop-color="#225ea8"/><stop offset="0.578" stop-color="#1f93c0"/><stop offset="0.586" stop-color="#47b8c3"/><stop offset="0.595" stop-color="#70c7bd"/><stop offset="0.604" stop-color="#82cebb"/><stop offset="0.656" stop-color="#96d6b9"/><stop offset="0.665" stop-color="#9fdab8"/><stop offset="0.674" stop-color="#b2e1b6"/><stop offset="0.683" stop-color="#d6efb3"/><stop offset="0.691" stop-color="#e4f5b2"/><stop offset="1.000" stop-color="#e7f5b2"/></linearGradient><linearGradient id="gh9" gradientUnits="userSpaceOnUse" x1="541.9" y1="0" x2="627.6" y2="0"><stop offset="0.000" stop-color="#e8f6b1"/><stop offset="0.438" stop-color="#e3f4b2"/><stop offset="0.446" stop-color="#d2edb3"/><stop offset="0.455" stop-color="#9ed9b8"/><stop offset="0.464" stop-color="#82cebb"/><stop offset="0.481" stop-color="#6fc7bd"/><stop offset="0.516" stop-color="#61c2bf"/><stop offset="0.525" stop-color="#52bcc1"/><stop offset="0.534" stop-color="#39adc3"/><stop offset="0.543" stop-color="#1d8fbf"/><stop offset="0.551" stop-color="#2165ab"/><stop offset="0.560" stop-color="#2355a4"/><stop offset="0.569" stop-color="#216aad"/><stop offset="0.578" stop-color="#269bc1"/><stop offset="0.586" stop-color="#51bcc2"/><stop offset="0.595" stop-color="#78cabc"/><stop offset="0.604" stop-color="#8bd2ba"/><stop offset="0.656" stop-color="#9ed9b8"/><stop offset="0.665" stop-color="#a8ddb7"/><stop offset="0.674" stop-color="#bae4b5"/><stop offset="0.683" stop-color="#daf1b2"/><stop offset="0.691" stop-color="#e7f6b1"/><stop offset="1.000" stop-color="#e8f6b1"/></linearGradient><linearGradient id="gh10" gradientUnits="userSpaceOnUse" x1="541.9" y1="0" x2="627.6" y2="0"><stop offset="0.000" stop-color="#e9f6b1"/><stop offset="0.438" stop-color="#e4f5b2"/><stop offset="0.446" stop-color="#d2eeb3"/><stop offset="0.455" stop-color="#9fd9b8"/><stop offset="0.464" stop-color="#81cebb"/><stop offset="0.481" stop-color="#6dc6be"/><stop offset="0.516" stop-color="#60c1c0"/><stop offset="0.525" stop-color="#51bcc2"/><stop offset="0.534" stop-color="#37acc3"/><stop offset="0.543" stop-color="#1e8bbd"/><stop offset="0.551" stop-color="#2260a9"/><stop offset="0.560" stop-color="#2350a1"/><stop offset="0.569" stop-color="#2165ab"/><stop offset="0.578" stop-color="#2498c1"/><stop offset="0.586" stop-color="#50bbc2"/><stop offset="0.595" stop-color="#77cabc"/><stop offset="0.604" stop-color="#8bd1ba"/><stop offset="0.656" stop-color="#9ed9b8"/><stop offset="0.665" stop-color="#a9ddb7"/><stop offset="0.674" stop-color="#bde5b5"/><stop offset="0.683" stop-color="#dcf1b2"/><stop offset="0.691" stop-color="#e9f6b1"/><stop offset="1.000" stop-color="#e9f6b1"/></linearGradient><linearGradient id="gh11" gradientUnits="userSpaceOnUse" x1="541.9" y1="0" x2="627.6" y2="0"><stop offset="0.000" stop-color="#eaf7b1"/><stop offset="0.438" stop-color="#e7f6b1"/><stop offset="0.446" stop-color="#d8f0b3"/><stop offset="0.455" stop-color="#aedfb6"/><stop offset="0.464" stop-color="#93d5b9"/><stop offset="0.481" stop-color="#7fcdbb"/><stop offset="0.516" stop-color="#73c9bd"/><stop offset="0.525" stop-color="#65c4bf"/><stop offset="0.534" stop-color="#47b8c3"/><stop offset="0.543" stop-color="#299dc1"/><stop offset="0.551" stop-color="#1f79b5"/><stop offset="0.560" stop-color="#2167ac"/><stop offset="0.569" stop-color="#1f7db7"/><stop offset="0.578" stop-color="#33a7c2"/><stop offset="0.586" stop-color="#63c3bf"/><stop offset="0.595" stop-color="#89d1ba"/><stop offset="0.604" stop-color="#9bd8b8"/><stop offset="0.656" stop-color="#addfb6"/><stop offset="0.674" stop-color="#c9eab4"/><stop offset="0.683" stop-color="#e1f3b2"/><stop offset="0.691" stop-color="#ecf8b1"/><stop offset="0.709" stop-color="#e6f5b2"/><stop offset="1.000" stop-color="#eaf7b1"/></linearGradient><linearGradient id="gh12" gradientUnits="userSpaceOnUse" x1="541.9" y1="0" x2="627.6" y2="0"><stop offset="0.000" stop-color="#ebf7b1"/><stop offset="0.438" stop-color="#e8f6b1"/><stop offset="0.446" stop-color="#d8f0b3"/><stop offset="0.455" stop-color="#acdfb7"/><stop offset="0.464" stop-color="#90d4b9"/><stop offset="0.481" stop-color="#7cccbb"/><stop offset="0.516" stop-color="#6fc7bd"/><stop offset="0.525" stop-color="#61c2bf"/><stop offset="0.534" stop-color="#42b6c4"/><stop offset="0.543" stop-color="#2499c1"/><stop offset="0.551" stop-color="#2071b1"/><stop offset="0.560" stop-color="#225ea8"/><stop offset="0.569" stop-color="#2075b3"/><stop offset="0.578" stop-color="#2fa3c2"/><stop offset="0.586" stop-color="#60c1c0"/><stop offset="0.595" stop-color="#86d0ba"/><stop offset="0.604" stop-color="#99d7b8"/><stop offset="0.656" stop-color="#acdeb7"/><stop offset="0.674" stop-color="#c9eab4"/><stop offset="0.683" stop-color="#e3f4b2"/><stop offset="0.691" stop-color="#edf8b1"/><stop offset="0.709" stop-color="#e7f6b1"/><stop offset="1.000" stop-color="#ebf7b1"/></linearGradient><linearGradient id="gh13" gradientUnits="userSpaceOnUse" x1="541.9" y1="0" x2="627.6" y2="0"><stop offset="0.000" stop-color="#ecf8b1"/><stop offset="0.438" stop-color="#eaf7b1"/><stop offset="0.446" stop-color="#dbf1b2"/><stop offset="0.455" stop-color="#b3e1b6"/><stop offset="0.464" stop-color="#98d7b9"/><stop offset="0.481" stop-color="#84cfbb"/><stop offset="0.516" stop-color="#77cabc"/><stop offset="0.525" stop-color="#6ac5be"/><stop offset="0.534" stop-color="#4bbac3"/><stop offset="0.543" stop-color="#2a9fc1"/><stop offset="0.551" stop-color="#1f79b5"/><stop offset="0.560" stop-color="#2166ac"/><stop offset="0.569" stop-color="#1f7eb7"/><stop offset="0.578" stop-color="#34a9c3"/><stop offset="0.586" stop-color="#68c4be"/><stop offset="0.595" stop-color="#8ed3ba"/><stop offset="0.604" stop-color="#a0dab8"/><stop offset="0.656" stop-color="#b3e1b6"/><stop offset="0.674" stop-color="#cdebb4"/><stop offset="0.683" stop-color="#e6f5b2"/><stop offset="0.691" stop-color="#eef8b3"/><stop offset="0.709" stop-color="#e8f6b1"/><stop offset="1.000" stop-color="#ecf8b1"/></linearGradient><linearGradient id="gh14" gradientUnits="userSpaceOnUse" x1="541.9" y1="0" x2="627.6" y2="0"><stop offset="0.000" stop-color="#edf8b1"/><stop offset="0.438" stop-color="#ebf7b1"/><stop offset="0.446" stop-color="#dbf1b2"/><stop offset="0.455" stop-color="#b3e1b6"/><stop offset="0.464" stop-color="#97d6b9"/><stop offset="0.481" stop-color="#81cebb"/><stop offset="0.516" stop-color="#75c9bc"/><stop offset="0.525" stop-color="#67c4be"/><stop offset="0.534" stop-color="#48b9c3"/><stop offset="0.543" stop-color="#279bc1"/><stop offset="0.551" stop-color="#2073b2"/><stop offset="0.560" stop-color="#225fa9"/><stop offset="0.569" stop-color="#2077b4"/><stop offset="0.578" stop-color="#32a6c2"/><stop offset="0.586" stop-color="#65c3bf"/><stop offset="0.595" stop-color="#8dd2ba"/><stop offset="0.604" stop-color="#9fd9b8"/><stop offset="0.656" stop-color="#b3e1b6"/><stop offset="0.674" stop-color="#ceecb3"/><stop offset="0.683" stop-color="#e7f6b1"/><stop offset="0.691" stop-color="#eff9b5"/><stop offset="0.718" stop-color="#e9f7b1"/><stop offset="1.000" stop-color="#edf8b1"/></linearGradient><linearGradient id="gh15" gradientUnits="userSpaceOnUse" x1="541.9" y1="0" x2="627.6" y2="0"><stop offset="0.000" stop-color="#edf8b1"/><stop offset="0.438" stop-color="#ebf7b1"/><stop offset="0.446" stop-color="#dcf1b2"/><stop offset="0.455" stop-color="#b5e2b6"/><stop offset="0.464" stop-color="#99d7b8"/><stop offset="0.481" stop-color="#84cfbb"/><stop offset="0.516" stop-color="#77cabc"/><stop offset="0.525" stop-color="#6ac5be"/><stop offset="0.534" stop-color="#4bbac3"/><stop offset="0.543" stop-color="#289dc1"/><stop offset="0.551" stop-color="#2074b2"/><stop offset="0.560" stop-color="#2260a9"/><stop offset="0.569" stop-color="#1f79b5"/><stop offset="0.578" stop-color="#33a8c2"/><stop offset="0.586" stop-color="#68c4be"/><stop offset="0.595" stop-color="#8fd3b9"/><stop offset="0.604" stop-color="#a1dab8"/><stop offset="0.656" stop-color="#b6e2b6"/><stop offset="0.674" stop-color="#d2edb3"/><stop offset="0.683" stop-color="#eaf7b1"/><stop offset="0.691" stop-color="#eff9b6"/><stop offset="0.709" stop-color="#e9f6b1"/><stop offset="1.000" stop-color="#edf8b1"/></linearGradient><linearGradient id="gh16" gradientUnits="userSpaceOnUse" x1="541.9" y1="0" x2="627.6" y2="0"><stop offset="0.000" stop-color="#edf8b1"/><stop offset="0.429" stop-color="#e8f6b1"/><stop offset="0.438" stop-color="#edf8b1"/><stop offset="0.446" stop-color="#dff3b2"/><stop offset="0.464" stop-color="#a6dcb7"/><stop offset="0.481" stop-color="#92d4b9"/><stop offset="0.516" stop-color="#86d0ba"/><stop offset="0.525" stop-color="#78cabc"/><stop offset="0.534" stop-color="#5bc0c0"/><stop offset="0.543" stop-color="#34a8c3"/><stop offset="0.551" stop-color="#1e86bb"/><stop offset="0.560" stop-color="#2073b2"/><stop offset="0.569" stop-color="#1e8abd"/><stop offset="0.578" stop-color="#3db2c4"/><stop offset="0.586" stop-color="#75c9bc"/><stop offset="0.595" stop-color="#9cd8b8"/><stop offset="0.604" stop-color="#acdfb7"/><stop offset="0.656" stop-color="#c1e7b5"/><stop offset="0.674" stop-color="#d7efb3"/><stop offset="0.683" stop-color="#edf8b1"/><stop offset="0.691" stop-color="#f0f9b8"/><stop offset="0.709" stop-color="#e9f6b1"/><stop offset="1.000" stop-color="#edf8b1"/></linearGradient><linearGradient id="gh17" gradientUnits="userSpaceOnUse" x1="541.9" y1="0" x2="627.6" y2="0"><stop offset="0.000" stop-color="#edf8b1"/><stop offset="0.429" stop-color="#e8f6b1"/><stop offset="0.438" stop-color="#edf8b1"/><stop offset="0.446" stop-color="#dff3b2"/><stop offset="0.464" stop-color="#a5dcb7"/><stop offset="0.481" stop-color="#91d4b9"/><stop offset="0.516" stop-color="#85cfba"/><stop offset="0.525" stop-color="#77cabc"/><stop offset="0.534" stop-color="#5abfc0"/><stop offset="0.543" stop-color="#32a7c2"/><stop offset="0.551" stop-color="#1e82b9"/><stop offset="0.560" stop-color="#206fb0"/><stop offset="0.569" stop-color="#1e87bb"/><stop offset="0.578" stop-color="#3cb1c3"/><stop offset="0.586" stop-color="#75c9bd"/><stop offset="0.595" stop-color="#9bd8b8"/><stop offset="0.604" stop-color="#acdeb7"/><stop offset="0.656" stop-color="#c2e7b4"/><stop offset="0.674" stop-color="#d9f0b3"/><stop offset="0.683" stop-color="#eef8b3"/><stop offset="0.691" stop-color="#f0f9b8"/><stop offset="0.709" stop-color="#e9f7b1"/><stop offset="1.000" stop-color="#edf8b1"/></linearGradient><linearGradient id="gh18" gradientUnits="userSpaceOnUse" x1="541.9" y1="0" x2="627.6" y2="0"><stop offset="0.000" stop-color="#edf8b1"/><stop offset="0.429" stop-color="#e8f6b1"/><stop offset="0.438" stop-color="#edf8b1"/><stop offset="0.446" stop-color="#e0f3b2"/><stop offset="0.464" stop-color="#a7ddb7"/><stop offset="0.481" stop-color="#93d5b9"/><stop offset="0.516" stop-color="#87d0ba"/><stop offset="0.525" stop-color="#79cbbc"/><stop offset="0.534" stop-color="#5cc0c0"/><stop offset="0.543" stop-color="#33a8c2"/><stop offset="0.551" stop-color="#1e83b9"/><stop offset="0.560" stop-color="#206fb0"/><stop offset="0.569" stop-color="#1e87bb"/><stop offset="0.578" stop-color="#3db1c4"/><stop offset="0.586" stop-color="#76cabc"/><stop offset="0.595" stop-color="#9dd9b8"/><stop offset="0.604" stop-color="#aedfb6"/><stop offset="0.648" stop-color="#bce5b5"/><stop offset="0.674" stop-color="#dbf1b2"/><stop offset="0.683" stop-color="#eff9b5"/><stop offset="0.691" stop-color="#f0f9b8"/><stop offset="0.709" stop-color="#e9f7b1"/><stop offset="1.000" stop-color="#edf8b1"/></linearGradient><linearGradient id="gh19" gradientUnits="userSpaceOnUse" x1="541.9" y1="0" x2="627.6" y2="0"><stop offset="0.000" stop-color="#edf8b1"/><stop offset="0.438" stop-color="#edf8b1"/><stop offset="0.446" stop-color="#dff2b2"/><stop offset="0.464" stop-color="#a0dab8"/><stop offset="0.481" stop-color="#8ad1ba"/><stop offset="0.516" stop-color="#7dccbb"/><stop offset="0.525" stop-color="#70c8bd"/><stop offset="0.534" stop-color="#51bcc2"/><stop offset="0.543" stop-color="#2b9fc2"/><stop offset="0.551" stop-color="#2073b2"/><stop offset="0.560" stop-color="#225ea8"/><stop offset="0.569" stop-color="#1f78b4"/><stop offset="0.578" stop-color="#35aac3"/><stop offset="0.586" stop-color="#6ec7bd"/><stop offset="0.595" stop-color="#96d6b9"/><stop offset="0.604" stop-color="#a7ddb7"/><stop offset="0.648" stop-color="#b8e3b5"/><stop offset="0.674" stop-color="#ddf2b2"/><stop offset="0.683" stop-color="#eff9b5"/><stop offset="0.691" stop-color="#f0f9b8"/><stop offset="0.709" stop-color="#e9f7b1"/><stop offset="1.000" stop-color="#edf8b1"/></linearGradient><linearGradient id="gh20" gradientUnits="userSpaceOnUse" x1="541.9" y1="0" x2="627.6" y2="0"><stop offset="0.000" stop-color="#edf8b1"/><stop offset="0.429" stop-color="#e9f6b1"/><stop offset="0.438" stop-color="#edf8b2"/><stop offset="0.446" stop-color="#e0f3b2"/><stop offset="0.464" stop-color="#a5dcb7"/><stop offset="0.481" stop-color="#90d4b9"/><stop offset="0.516" stop-color="#84cfbb"/><stop offset="0.525" stop-color="#77cabc"/><stop offset="0.534" stop-color="#58bfc1"/><stop offset="0.543" stop-color="#2fa4c2"/><stop offset="0.551" stop-color="#1f7ab5"/><stop offset="0.560" stop-color="#2164ab"/><stop offset="0.569" stop-color="#1f7eb7"/><stop offset="0.578" stop-color="#39aec3"/><stop offset="0.586" stop-color="#74c9bd"/><stop offset="0.595" stop-color="#9cd8b8"/><stop offset="0.604" stop-color="#acdeb7"/><stop offset="0.648" stop-color="#bde5b5"/><stop offset="0.683" stop-color="#f0f9b7"/><stop offset="0.726" stop-color="#eaf7b1"/><stop offset="1.000" stop-color="#edf8b1"/></linearGradient><linearGradient id="gh21" gradientUnits="userSpaceOnUse" x1="541.9" y1="0" x2="627.6" y2="0"><stop offset="0.000" stop-color="#edf8b1"/><stop offset="0.429" stop-color="#e9f6b1"/><stop offset="0.438" stop-color="#eef8b3"/><stop offset="0.446" stop-color="#e3f4b2"/><stop offset="0.464" stop-color="#b1e1b6"/><stop offset="0.481" stop-color="#9fd9b8"/><stop offset="0.516" stop-color="#93d5b9"/><stop offset="0.525" stop-color="#86d0ba"/><stop offset="0.534" stop-color="#68c5be"/><stop offset="0.543" stop-color="#3aafc3"/><stop offset="0.551" stop-color="#1d8cbe"/><stop offset="0.560" stop-color="#1f78b4"/><stop offset="0.569" stop-color="#1d90c0"/><stop offset="0.578" stop-color="#45b8c3"/><stop offset="0.586" stop-color="#82cebb"/><stop offset="0.595" stop-color="#a8ddb7"/><stop offset="0.604" stop-color="#b7e3b6"/><stop offset="0.656" stop-color="#ceecb3"/><stop offset="0.674" stop-color="#e3f4b2"/><stop offset="0.683" stop-color="#f0f9b8"/><stop offset="0.718" stop-color="#eaf7b1"/><stop offset="1.000" stop-color="#edf8b1"/></linearGradient><linearGradient id="gh22" gradientUnits="userSpaceOnUse" x1="541.9" y1="0" x2="627.6" y2="0"><stop offset="0.000" stop-color="#edf8b2"/><stop offset="0.429" stop-color="#e9f6b1"/><stop offset="0.438" stop-color="#eef8b3"/><stop offset="0.446" stop-color="#e2f4b2"/><stop offset="0.464" stop-color="#abdeb7"/><stop offset="0.481" stop-color="#96d6b9"/><stop offset="0.516" stop-color="#8ad1ba"/><stop offset="0.525" stop-color="#7dccbb"/><stop offset="0.534" stop-color="#5ec1c0"/><stop offset="0.543" stop-color="#32a7c2"/><stop offset="0.551" stop-color="#1f7db7"/><stop offset="0.560" stop-color="#2167ac"/><stop offset="0.569" stop-color="#1e82b9"/><stop offset="0.578" stop-color="#3cb1c3"/><stop offset="0.586" stop-color="#79cbbc"/><stop offset="0.595" stop-color="#a1dab8"/><stop offset="0.604" stop-color="#b1e0b6"/><stop offset="0.648" stop-color="#c4e8b4"/><stop offset="0.674" stop-color="#e4f4b2"/><stop offset="0.683" stop-color="#f0f9b8"/><stop offset="0.718" stop-color="#eaf7b1"/><stop offset="1.000" stop-color="#edf8b2"/></linearGradient><linearGradient id="gh23" gradientUnits="userSpaceOnUse" x1="541.9" y1="0" x2="627.6" y2="0"><stop offset="0.000" stop-color="#edf8b2"/><stop offset="0.429" stop-color="#e9f6b1"/><stop offset="0.438" stop-color="#eef9b4"/><stop offset="0.446" stop-color="#e5f5b2"/><stop offset="0.464" stop-color="#b7e3b6"/><stop offset="0.481" stop-color="#a5dcb7"/><stop offset="0.516" stop-color="#9ad8b8"/><stop offset="0.525" stop-color="#8ed3ba"/><stop offset="0.534" stop-color="#70c7bd"/><stop offset="0.543" stop-color="#3eb3c4"/><stop offset="0.551" stop-color="#1d91c0"/><stop offset="0.560" stop-color="#1f7bb6"/><stop offset="0.569" stop-color="#2094c0"/><stop offset="0.578" stop-color="#4cbac2"/><stop offset="0.586" stop-color="#89d1ba"/><stop offset="0.595" stop-color="#aedfb6"/><stop offset="0.604" stop-color="#bde5b5"/><stop offset="0.656" stop-color="#d3eeb3"/><stop offset="0.674" stop-color="#e6f5b2"/><stop offset="0.683" stop-color="#f0f9b8"/><stop offset="0.718" stop-color="#eaf7b1"/><stop offset="1.000" stop-color="#edf8b2"/></linearGradient><linearGradient id="gh24" gradientUnits="userSpaceOnUse" x1="541.9" y1="0" x2="627.6" y2="0"><stop offset="0.000" stop-color="#edf8b2"/><stop offset="0.429" stop-color="#e9f6b1"/><stop offset="0.438" stop-color="#eef9b4"/><stop offset="0.446" stop-color="#e5f5b2"/><stop offset="0.464" stop-color="#b4e1b6"/><stop offset="0.481" stop-color="#a0dab8"/><stop offset="0.516" stop-color="#95d5b9"/><stop offset="0.525" stop-color="#88d0ba"/><stop offset="0.534" stop-color="#69c5be"/><stop offset="0.543" stop-color="#39aec3"/><stop offset="0.551" stop-color="#1e86bb"/><stop offset="0.560" stop-color="#206fb0"/><stop offset="0.569" stop-color="#1e8bbd"/><stop offset="0.578" stop-color="#43b7c4"/><stop offset="0.586" stop-color="#83cfbb"/><stop offset="0.595" stop-color="#aadeb7"/><stop offset="0.604" stop-color="#b9e3b5"/><stop offset="0.648" stop-color="#cbebb4"/><stop offset="0.674" stop-color="#e7f6b1"/><stop offset="0.691" stop-color="#f0f9b9"/><stop offset="0.709" stop-color="#eaf7b1"/><stop offset="1.000" stop-color="#edf8b2"/></linearGradient><linearGradient id="gh25" gradientUnits="userSpaceOnUse" x1="541.9" y1="0" x2="627.6" y2="0"><stop offset="0.000" stop-color="#edf8b2"/><stop offset="0.429" stop-color="#e9f6b1"/><stop offset="0.438" stop-color="#eff9b5"/><stop offset="0.446" stop-color="#e7f6b1"/><stop offset="0.455" stop-color="#ceecb3"/><stop offset="0.473" stop-color="#b1e0b6"/><stop offset="0.516" stop-color="#a1dab8"/><stop offset="0.525" stop-color="#95d6b9"/><stop offset="0.534" stop-color="#77cabc"/><stop offset="0.543" stop-color="#43b7c4"/><stop offset="0.551" stop-color="#2094c0"/><stop offset="0.560" stop-color="#1f7fb8"/><stop offset="0.569" stop-color="#2397c1"/><stop offset="0.578" stop-color="#52bcc2"/><stop offset="0.586" stop-color="#90d3b9"/><stop offset="0.595" stop-color="#b4e2b6"/><stop offset="0.604" stop-color="#c2e7b5"/><stop offset="0.648" stop-color="#d0ecb3"/><stop offset="0.674" stop-color="#e8f6b1"/><stop offset="0.691" stop-color="#f1f9b9"/><stop offset="0.709" stop-color="#eaf7b1"/><stop offset="1.000" stop-color="#edf8b2"/></linearGradient><linearGradient id="gh26" gradientUnits="userSpaceOnUse" x1="541.9" y1="0" x2="627.6" y2="0"><stop offset="0.000" stop-color="#edf8b2"/><stop offset="0.429" stop-color="#e9f7b1"/><stop offset="0.438" stop-color="#eff9b6"/><stop offset="0.446" stop-color="#e8f6b1"/><stop offset="0.455" stop-color="#cfecb3"/><stop offset="0.473" stop-color="#b6e2b6"/><stop offset="0.516" stop-color="#a7dcb7"/><stop offset="0.525" stop-color="#9bd8b8"/><stop offset="0.534" stop-color="#7cccbb"/><stop offset="0.543" stop-color="#49b9c3"/><stop offset="0.551" stop-color="#2498c1"/><stop offset="0.560" stop-color="#1e84ba"/><stop offset="0.569" stop-color="#269bc1"/><stop offset="0.578" stop-color="#57bec1"/><stop offset="0.586" stop-color="#95d6b9"/><stop offset="0.595" stop-color="#b9e4b5"/><stop offset="0.604" stop-color="#c6e9b4"/><stop offset="0.648" stop-color="#d3eeb3"/><stop offset="0.674" stop-color="#e8f6b1"/><stop offset="0.691" stop-color="#f1f9b9"/><stop offset="0.709" stop-color="#eaf7b1"/><stop offset="1.000" stop-color="#edf8b2"/></linearGradient><linearGradient id="gh27" gradientUnits="userSpaceOnUse" x1="541.9" y1="0" x2="627.6" y2="0"><stop offset="0.000" stop-color="#edf8b2"/><stop offset="0.429" stop-color="#e9f7b1"/><stop offset="0.438" stop-color="#eff9b5"/><stop offset="0.446" stop-color="#e6f5b2"/><stop offset="0.464" stop-color="#b9e4b5"/><stop offset="0.481" stop-color="#a5dcb7"/><stop offset="0.516" stop-color="#9bd8b8"/><stop offset="0.525" stop-color="#8ed3ba"/><stop offset="0.534" stop-color="#6fc7bd"/><stop offset="0.543" stop-color="#3bb0c3"/><stop offset="0.551" stop-color="#1e86bb"/><stop offset="0.560" stop-color="#206daf"/><stop offset="0.569" stop-color="#1e8abd"/><stop offset="0.578" stop-color="#47b8c3"/><stop offset="0.586" stop-color="#89d1ba"/><stop offset="0.595" stop-color="#b0e0b6"/><stop offset="0.604" stop-color="#bee5b5"/><stop offset="0.648" stop-color="#d1edb3"/><stop offset="0.674" stop-color="#e8f6b1"/><stop offset="0.691" stop-color="#f1f9b9"/><stop offset="0.709" stop-color="#eaf7b1"/><stop offset="1.000" stop-color="#edf8b2"/></linearGradient><linearGradient id="gh28" gradientUnits="userSpaceOnUse" x1="541.9" y1="0" x2="627.6" y2="0"><stop offset="0.000" stop-color="#eef8b2"/><stop offset="0.429" stop-color="#e9f7b1"/><stop offset="0.438" stop-color="#f0f9b7"/><stop offset="0.446" stop-color="#e9f6b1"/><stop offset="0.455" stop-color="#d1edb3"/><stop offset="0.481" stop-color="#b3e1b6"/><stop offset="0.516" stop-color="#aadeb7"/><stop offset="0.525" stop-color="#9fd9b8"/><stop offset="0.534" stop-color="#7fcdbb"/><stop offset="0.543" stop-color="#4ab9c3"/><stop offset="0.551" stop-color="#2397c1"/><stop offset="0.560" stop-color="#1f82b9"/><stop offset="0.569" stop-color="#259ac1"/><stop offset="0.578" stop-color="#58bfc1"/><stop offset="0.586" stop-color="#98d7b9"/><stop offset="0.595" stop-color="#bce5b5"/><stop offset="0.604" stop-color="#c8e9b4"/><stop offset="0.648" stop-color="#d6efb3"/><stop offset="0.665" stop-color="#e7f6b1"/><stop offset="0.691" stop-color="#f1f9b9"/><stop offset="0.709" stop-color="#eaf7b1"/><stop offset="1.000" stop-color="#eef8b2"/></linearGradient><linearGradient id="gh29" gradientUnits="userSpaceOnUse" x1="541.9" y1="0" x2="627.6" y2="0"><stop offset="0.000" stop-color="#eef8b2"/><stop offset="0.429" stop-color="#eaf7b1"/><stop offset="0.438" stop-color="#f0f9b7"/><stop offset="0.446" stop-color="#eaf7b1"/><stop offset="0.455" stop-color="#d2edb3"/><stop offset="0.481" stop-color="#b6e2b6"/><stop offset="0.516" stop-color="#addfb7"/><stop offset="0.525" stop-color="#a2dbb8"/><stop offset="0.534" stop-color="#83cebb"/><stop offset="0.543" stop-color="#4dbbc2"/><stop offset="0.551" stop-color="#2498c1"/><stop offset="0.560" stop-color="#1e83b9"/><stop offset="0.569" stop-color="#279bc1"/><stop offset="0.578" stop-color="#5bc0c0"/><stop offset="0.586" stop-color="#9bd8b8"/><stop offset="0.595" stop-color="#bfe6b5"/><stop offset="0.613" stop-color="#cbebb4"/><stop offset="0.648" stop-color="#d9f0b3"/><stop offset="0.665" stop-color="#e8f6b1"/><stop offset="0.691" stop-color="#f1f9b9"/><stop offset="0.709" stop-color="#eaf7b1"/><stop offset="1.000" stop-color="#eef8b2"/></linearGradient><linearGradient id="gh30" gradientUnits="userSpaceOnUse" x1="541.9" y1="0" x2="627.6" y2="0"><stop offset="0.000" stop-color="#eef8b2"/><stop offset="0.429" stop-color="#eaf7b1"/><stop offset="0.438" stop-color="#f0f9b7"/><stop offset="0.446" stop-color="#e9f6b1"/><stop offset="0.455" stop-color="#cfecb3"/><stop offset="0.473" stop-color="#b3e1b6"/><stop offset="0.516" stop-color="#a3dbb7"/><stop offset="0.525" stop-color="#98d7b9"/><stop offset="0.534" stop-color="#77cabc"/><stop offset="0.543" stop-color="#3fb4c4"/><stop offset="0.551" stop-color="#1e8abd"/><stop offset="0.560" stop-color="#2070b0"/><stop offset="0.569" stop-color="#1d8ebe"/><stop offset="0.578" stop-color="#4dbbc2"/><stop offset="0.586" stop-color="#91d4b9"/><stop offset="0.595" stop-color="#b7e3b6"/><stop offset="0.604" stop-color="#c4e8b4"/><stop offset="0.639" stop-color="#d0edb3"/><stop offset="0.665" stop-color="#e8f6b1"/><stop offset="0.691" stop-color="#f1f9b9"/><stop offset="0.709" stop-color="#ebf7b1"/><stop offset="1.000" stop-color="#eef8b2"/></linearGradient><linearGradient id="gh31" gradientUnits="userSpaceOnUse" x1="541.9" y1="0" x2="627.6" y2="0"><stop offset="0.000" stop-color="#eef8b3"/><stop offset="0.429" stop-color="#eaf7b1"/><stop offset="0.438" stop-color="#f0f9b7"/><stop offset="0.446" stop-color="#eaf7b1"/><stop offset="0.455" stop-color="#d1edb3"/><stop offset="0.473" stop-color="#b8e3b5"/><stop offset="0.516" stop-color="#a8ddb7"/><stop offset="0.525" stop-color="#9dd9b8"/><stop offset="0.534" stop-color="#7dccbb"/><stop offset="0.543" stop-color="#44b7c4"/><stop offset="0.551" stop-color="#1d8fbf"/><stop offset="0.560" stop-color="#2074b2"/><stop offset="0.569" stop-color="#1e92c0"/><stop offset="0.578" stop-color="#53bdc1"/><stop offset="0.586" stop-color="#97d6b9"/><stop offset="0.595" stop-color="#bce5b5"/><stop offset="0.604" stop-color="#c8e9b4"/><stop offset="0.639" stop-color="#d3eeb3"/><stop offset="0.665" stop-color="#e8f6b1"/><stop offset="0.691" stop-color="#f1f9b9"/><stop offset="0.709" stop-color="#ebf7b1"/><stop offset="1.000" stop-color="#eef8b3"/></linearGradient><linearGradient id="gh32" gradientUnits="userSpaceOnUse" x1="541.9" y1="0" x2="627.6" y2="0"><stop offset="0.000" stop-color="#eef8b3"/><stop offset="0.429" stop-color="#eaf7b1"/><stop offset="0.438" stop-color="#f0f9b8"/><stop offset="0.446" stop-color="#ecf8b1"/><stop offset="0.455" stop-color="#d5efb3"/><stop offset="0.481" stop-color="#bde5b5"/><stop offset="0.516" stop-color="#b5e2b6"/><stop offset="0.525" stop-color="#abdeb7"/><stop offset="0.534" stop-color="#8cd2ba"/><stop offset="0.543" stop-color="#55bdc1"/><stop offset="0.551" stop-color="#279bc1"/><stop offset="0.560" stop-color="#1e86bb"/><stop offset="0.569" stop-color="#299ec1"/><stop offset="0.578" stop-color="#62c2bf"/><stop offset="0.586" stop-color="#a4dbb7"/><stop offset="0.595" stop-color="#c6e9b4"/><stop offset="0.639" stop-color="#d7efb3"/><stop offset="0.665" stop-color="#e8f6b1"/><stop offset="0.691" stop-color="#f1f9ba"/><stop offset="0.709" stop-color="#ebf7b1"/><stop offset="1.000" stop-color="#eef8b3"/></linearGradient><linearGradient id="gh33" gradientUnits="userSpaceOnUse" x1="541.9" y1="0" x2="627.6" y2="0"><stop offset="0.000" stop-color="#eef8b3"/><stop offset="0.429" stop-color="#eaf7b1"/><stop offset="0.438" stop-color="#f1f9b9"/><stop offset="0.446" stop-color="#edf8b1"/><stop offset="0.455" stop-color="#d6efb3"/><stop offset="0.481" stop-color="#b7e3b6"/><stop offset="0.516" stop-color="#addfb6"/><stop offset="0.525" stop-color="#a3dbb8"/><stop offset="0.534" stop-color="#83cebb"/><stop offset="0.543" stop-color="#49b9c3"/><stop offset="0.551" stop-color="#1d91c0"/><stop offset="0.560" stop-color="#2075b3"/><stop offset="0.569" stop-color="#2094c0"/><stop offset="0.578" stop-color="#57bec1"/><stop offset="0.586" stop-color="#9cd8b8"/><stop offset="0.595" stop-color="#c0e6b5"/><stop offset="0.613" stop-color="#ccebb4"/><stop offset="0.639" stop-color="#d7efb3"/><stop offset="0.656" stop-color="#e7f6b1"/><stop offset="0.674" stop-color="#e9f6b1"/><stop offset="0.691" stop-color="#f1faba"/><stop offset="0.709" stop-color="#ebf7b1"/><stop offset="1.000" stop-color="#eef8b3"/></linearGradient><linearGradient id="gh34" gradientUnits="userSpaceOnUse" x1="541.9" y1="0" x2="627.6" y2="0"><stop offset="0.000" stop-color="#eef8b3"/><stop offset="0.429" stop-color="#eaf7b1"/><stop offset="0.438" stop-color="#f1f9b9"/><stop offset="0.446" stop-color="#eff9b4"/><stop offset="0.464" stop-color="#cfecb3"/><stop offset="0.490" stop-color="#bee5b5"/><stop offset="0.516" stop-color="#b7e3b6"/><stop offset="0.525" stop-color="#addfb6"/><stop offset="0.534" stop-color="#8fd3b9"/><stop offset="0.543" stop-color="#56bec1"/><stop offset="0.551" stop-color="#269ac1"/><stop offset="0.560" stop-color="#1e82b9"/><stop offset="0.569" stop-color="#289cc1"/><stop offset="0.578" stop-color="#63c3bf"/><stop offset="0.586" stop-color="#a6dcb7"/><stop offset="0.595" stop-color="#c8e9b4"/><stop offset="0.639" stop-color="#daf1b2"/><stop offset="0.665" stop-color="#e9f6b1"/><stop offset="0.691" stop-color="#f1faba"/><stop offset="0.709" stop-color="#ebf7b1"/><stop offset="1.000" stop-color="#eef8b3"/></linearGradient><linearGradient id="gh35" gradientUnits="userSpaceOnUse" x1="541.9" y1="0" x2="627.6" y2="0"><stop offset="0.000" stop-color="#eef8b3"/><stop offset="0.429" stop-color="#eaf7b1"/><stop offset="0.438" stop-color="#f1f9b9"/><stop offset="0.446" stop-color="#eff9b6"/><stop offset="0.464" stop-color="#d2edb3"/><stop offset="0.490" stop-color="#bfe6b5"/><stop offset="0.516" stop-color="#b9e3b5"/><stop offset="0.525" stop-color="#afe0b6"/><stop offset="0.534" stop-color="#90d4b9"/><stop offset="0.543" stop-color="#56bec1"/><stop offset="0.551" stop-color="#2599c1"/><stop offset="0.560" stop-color="#1f80b8"/><stop offset="0.569" stop-color="#279cc1"/><stop offset="0.578" stop-color="#63c3bf"/><stop offset="0.586" stop-color="#a7ddb7"/><stop offset="0.595" stop-color="#c8e9b4"/><stop offset="0.639" stop-color="#dcf1b2"/><stop offset="0.665" stop-color="#e9f6b1"/><stop offset="0.691" stop-color="#f1faba"/><stop offset="0.709" stop-color="#ebf7b1"/><stop offset="1.000" stop-color="#eef8b3"/></linearGradient><linearGradient id="gh36" gradientUnits="userSpaceOnUse" x1="541.9" y1="0" x2="627.6" y2="0"><stop offset="0.000" stop-color="#eef8b3"/><stop offset="0.429" stop-color="#eaf7b1"/><stop offset="0.438" stop-color="#f1f9b9"/><stop offset="0.446" stop-color="#f0f9b9"/><stop offset="0.464" stop-color="#d7efb3"/><stop offset="0.490" stop-color="#c8e9b4"/><stop offset="0.516" stop-color="#c3e7b4"/><stop offset="0.525" stop-color="#bae4b5"/><stop offset="0.534" stop-color="#9ed9b8"/><stop offset="0.543" stop-color="#64c3bf"/><stop offset="0.551" stop-color="#2fa3c2"/><stop offset="0.560" stop-color="#1d8fbf"/><stop offset="0.569" stop-color="#31a5c2"/><stop offset="0.586" stop-color="#b2e1b6"/><stop offset="0.595" stop-color="#cdebb4"/><stop offset="0.639" stop-color="#dff3b2"/><stop offset="0.665" stop-color="#e9f6b1"/><stop offset="0.691" stop-color="#f1faba"/><stop offset="0.709" stop-color="#ebf7b1"/><stop offset="1.000" stop-color="#eef8b3"/></linearGradient><linearGradient id="gh37" gradientUnits="userSpaceOnUse" x1="541.9" y1="0" x2="627.6" y2="0"><stop offset="0.000" stop-color="#eef8b3"/><stop offset="0.429" stop-color="#eaf7b1"/><stop offset="0.446" stop-color="#f1f9b9"/><stop offset="0.464" stop-color="#d7efb3"/><stop offset="0.499" stop-color="#c0e6b5"/><stop offset="0.516" stop-color="#bbe4b5"/><stop offset="0.525" stop-color="#b2e1b6"/><stop offset="0.534" stop-color="#95d5b9"/><stop offset="0.543" stop-color="#59bfc1"/><stop offset="0.551" stop-color="#2599c1"/><stop offset="0.560" stop-color="#1f7fb7"/><stop offset="0.569" stop-color="#279cc1"/><stop offset="0.578" stop-color="#66c4bf"/><stop offset="0.586" stop-color="#abdeb7"/><stop offset="0.595" stop-color="#caeab4"/><stop offset="0.639" stop-color="#dff3b2"/><stop offset="0.665" stop-color="#e9f6b1"/><stop offset="0.691" stop-color="#f1faba"/><stop offset="0.709" stop-color="#ebf7b1"/><stop offset="1.000" stop-color="#eef8b3"/></linearGradient><linearGradient id="gh38" gradientUnits="userSpaceOnUse" x1="541.9" y1="0" x2="627.6" y2="0"><stop offset="0.000" stop-color="#eef8b3"/><stop offset="0.429" stop-color="#eaf7b1"/><stop offset="0.438" stop-color="#f1faba"/><stop offset="0.446" stop-color="#f1f9b9"/><stop offset="0.464" stop-color="#dbf1b2"/><stop offset="0.490" stop-color="#c8e9b4"/><stop offset="0.516" stop-color="#c2e7b4"/><stop offset="0.525" stop-color="#bae4b5"/><stop offset="0.534" stop-color="#9ed9b8"/><stop offset="0.543" stop-color="#63c3bf"/><stop offset="0.551" stop-color="#2ba0c2"/><stop offset="0.560" stop-color="#1e88bc"/><stop offset="0.569" stop-color="#2ea2c2"/><stop offset="0.578" stop-color="#6fc7bd"/><stop offset="0.586" stop-color="#b3e1b6"/><stop offset="0.595" stop-color="#cdebb4"/><stop offset="0.656" stop-color="#e9f6b1"/><stop offset="0.674" stop-color="#eaf7b1"/><stop offset="0.691" stop-color="#f1faba"/><stop offset="0.700" stop-color="#ebf7b1"/><stop offset="1.000" stop-color="#eef8b3"/></linearGradient><linearGradient id="gh39" gradientUnits="userSpaceOnUse" x1="541.9" y1="0" x2="627.6" y2="0"><stop offset="0.000" stop-color="#eef8b3"/><stop offset="0.429" stop-color="#ebf7b1"/><stop offset="0.438" stop-color="#f1faba"/><stop offset="0.446" stop-color="#f1f9b9"/><stop offset="0.464" stop-color="#ddf2b2"/><stop offset="0.490" stop-color="#c8eab4"/><stop offset="0.516" stop-color="#c2e7b4"/><stop offset="0.525" stop-color="#bae4b5"/><stop offset="0.534" stop-color="#9ed9b8"/><stop offset="0.543" stop-color="#62c2bf"/><stop offset="0.551" stop-color="#299ec1"/><stop offset="0.560" stop-color="#1e84ba"/><stop offset="0.569" stop-color="#2ca0c2"/><stop offset="0.578" stop-color="#6ec7bd"/><stop offset="0.586" stop-color="#b3e1b6"/><stop offset="0.595" stop-color="#cdebb4"/><stop offset="0.656" stop-color="#e9f6b1"/><stop offset="0.674" stop-color="#eaf7b1"/><stop offset="0.691" stop-color="#f1faba"/><stop offset="0.700" stop-color="#ebf7b1"/><stop offset="1.000" stop-color="#eef8b3"/></linearGradient><linearGradient id="gh40" gradientUnits="userSpaceOnUse" x1="541.9" y1="0" x2="627.6" y2="0"><stop offset="0.000" stop-color="#eef8b3"/><stop offset="0.429" stop-color="#ebf7b1"/><stop offset="0.438" stop-color="#f1faba"/><stop offset="0.455" stop-color="#e8f6b1"/><stop offset="0.490" stop-color="#cbeab4"/><stop offset="0.516" stop-color="#c6e9b4"/><stop offset="0.525" stop-color="#bfe6b5"/><stop offset="0.534" stop-color="#a4dbb7"/><stop offset="0.543" stop-color="#68c4be"/><stop offset="0.551" stop-color="#2da1c2"/><stop offset="0.560" stop-color="#1e89bc"/><stop offset="0.569" stop-color="#2fa4c2"/><stop offset="0.578" stop-color="#74c9bd"/><stop offset="0.586" stop-color="#b9e3b5"/><stop offset="0.595" stop-color="#cfecb3"/><stop offset="0.656" stop-color="#e9f6b1"/><stop offset="0.674" stop-color="#eaf7b1"/><stop offset="0.691" stop-color="#f1faba"/><stop offset="0.700" stop-color="#ebf7b1"/><stop offset="1.000" stop-color="#eef8b3"/></linearGradient><linearGradient id="gh41" gradientUnits="userSpaceOnUse" x1="541.9" y1="0" x2="627.6" y2="0"><stop offset="0.000" stop-color="#eef8b4"/><stop offset="0.429" stop-color="#ebf7b1"/><stop offset="0.438" stop-color="#f1faba"/><stop offset="0.464" stop-color="#e4f5b2"/><stop offset="0.490" stop-color="#d0edb3"/><stop offset="0.525" stop-color="#c9eab4"/><stop offset="0.534" stop-color="#b2e1b6"/><stop offset="0.551" stop-color="#39adc3"/><stop offset="0.560" stop-color="#2498c1"/><stop offset="0.569" stop-color="#3bafc3"/><stop offset="0.586" stop-color="#c4e8b4"/><stop offset="0.595" stop-color="#d4eeb3"/><stop offset="0.656" stop-color="#e9f6b1"/><stop offset="0.674" stop-color="#eaf7b1"/><stop offset="0.691" stop-color="#f1fabb"/><stop offset="0.700" stop-color="#ebf7b1"/><stop offset="1.000" stop-color="#eef8b4"/></linearGradient><linearGradient id="gh42" gradientUnits="userSpaceOnUse" x1="541.9" y1="0" x2="627.6" y2="0"><stop offset="0.000" stop-color="#eef8b4"/><stop offset="0.429" stop-color="#ebf7b1"/><stop offset="0.438" stop-color="#f1faba"/><stop offset="0.464" stop-color="#e6f5b2"/><stop offset="0.490" stop-color="#d2edb3"/><stop offset="0.525" stop-color="#caeab4"/><stop offset="0.534" stop-color="#b6e2b6"/><stop offset="0.551" stop-color="#3aafc3"/><stop offset="0.560" stop-color="#2599c1"/><stop offset="0.569" stop-color="#3cb1c3"/><stop offset="0.578" stop-color="#87d0ba"/><stop offset="0.586" stop-color="#c7e9b4"/><stop offset="0.595" stop-color="#d5eeb3"/><stop offset="0.648" stop-color="#e8f6b1"/><stop offset="0.674" stop-color="#eaf7b1"/><stop offset="0.691" stop-color="#f1fabb"/><stop offset="0.700" stop-color="#ebf7b1"/><stop offset="1.000" stop-color="#eef8b4"/></linearGradient><linearGradient id="gh43" gradientUnits="userSpaceOnUse" x1="541.9" y1="0" x2="627.6" y2="0"><stop offset="0.000" stop-color="#eef8b4"/><stop offset="0.429" stop-color="#ebf7b1"/><stop offset="0.438" stop-color="#f1faba"/><stop offset="0.464" stop-color="#e8f6b1"/><stop offset="0.499" stop-color="#d3eeb3"/><stop offset="0.525" stop-color="#cdecb3"/><stop offset="0.534" stop-color="#bde5b5"/><stop offset="0.543" stop-color="#84cfbb"/><stop offset="0.551" stop-color="#3fb4c4"/><stop offset="0.560" stop-color="#2b9fc2"/><stop offset="0.569" stop-color="#41b6c4"/><stop offset="0.578" stop-color="#8fd3b9"/><stop offset="0.586" stop-color="#caeab4"/><stop offset="0.595" stop-color="#d7efb3"/><stop offset="0.656" stop-color="#e9f6b1"/><stop offset="0.674" stop-color="#eaf7b1"/><stop offset="0.691" stop-color="#f1fabb"/><stop offset="0.700" stop-color="#ebf7b1"/><stop offset="1.000" stop-color="#eef8b4"/></linearGradient><linearGradient id="gh44" gradientUnits="userSpaceOnUse" x1="541.9" y1="0" x2="627.6" y2="0"><stop offset="0.000" stop-color="#eef9b4"/><stop offset="0.429" stop-color="#ebf7b1"/><stop offset="0.438" stop-color="#f1faba"/><stop offset="0.464" stop-color="#e9f6b1"/><stop offset="0.499" stop-color="#d4eeb3"/><stop offset="0.525" stop-color="#cfecb3"/><stop offset="0.534" stop-color="#c1e7b5"/><stop offset="0.543" stop-color="#89d1ba"/><stop offset="0.551" stop-color="#42b6c4"/><stop offset="0.560" stop-color="#2da1c2"/><stop offset="0.569" stop-color="#45b8c3"/><stop offset="0.578" stop-color="#94d5b9"/><stop offset="0.586" stop-color="#ccebb4"/><stop offset="0.604" stop-color="#dcf1b2"/><stop offset="0.656" stop-color="#e9f6b1"/><stop offset="0.674" stop-color="#eaf7b1"/><stop offset="0.691" stop-color="#f1fabb"/><stop offset="0.700" stop-color="#ecf7b1"/><stop offset="1.000" stop-color="#eef9b4"/></linearGradient><linearGradient id="gh45" gradientUnits="userSpaceOnUse" x1="541.9" y1="0" x2="627.6" y2="0"><stop offset="0.000" stop-color="#eef9b4"/><stop offset="0.429" stop-color="#ebf7b1"/><stop offset="0.438" stop-color="#f1faba"/><stop offset="0.464" stop-color="#e9f7b1"/><stop offset="0.508" stop-color="#d5eeb3"/><stop offset="0.525" stop-color="#d1edb3"/><stop offset="0.534" stop-color="#c6e8b4"/><stop offset="0.543" stop-color="#8fd3b9"/><stop offset="0.551" stop-color="#48b9c3"/><stop offset="0.560" stop-color="#30a5c2"/><stop offset="0.569" stop-color="#4bbac3"/><stop offset="0.578" stop-color="#9ad7b8"/><stop offset="0.586" stop-color="#ceecb3"/><stop offset="0.604" stop-color="#ddf2b2"/><stop offset="0.665" stop-color="#eaf7b1"/><stop offset="0.674" stop-color="#eaf7b1"/><stop offset="0.691" stop-color="#f1fabb"/><stop offset="0.700" stop-color="#ecf7b1"/><stop offset="1.000" stop-color="#eef9b4"/></linearGradient><linearGradient id="gh46" gradientUnits="userSpaceOnUse" x1="541.9" y1="0" x2="627.6" y2="0"><stop offset="0.000" stop-color="#eef9b4"/><stop offset="0.429" stop-color="#ebf7b1"/><stop offset="0.438" stop-color="#f1fabb"/><stop offset="0.464" stop-color="#e9f7b1"/><stop offset="0.508" stop-color="#d5eeb3"/><stop offset="0.525" stop-color="#d1edb3"/><stop offset="0.534" stop-color="#c6e8b4"/><stop offset="0.543" stop-color="#8fd3b9"/><stop offset="0.551" stop-color="#46b8c3"/><stop offset="0.560" stop-color="#2ea3c2"/><stop offset="0.569" stop-color="#49b9c3"/><stop offset="0.578" stop-color="#9ad7b8"/><stop offset="0.586" stop-color="#ceecb3"/><stop offset="0.604" stop-color="#ddf2b2"/><stop offset="0.656" stop-color="#e9f7b1"/><stop offset="0.674" stop-color="#eaf7b1"/><stop offset="0.691" stop-color="#f2fabb"/><stop offset="0.700" stop-color="#ecf8b1"/><stop offset="1.000" stop-color="#eef9b4"/></linearGradient><linearGradient id="gh47" gradientUnits="userSpaceOnUse" x1="541.9" y1="0" x2="627.6" y2="0"><stop offset="0.000" stop-color="#eef9b4"/><stop offset="0.429" stop-color="#ebf7b1"/><stop offset="0.438" stop-color="#f1fabb"/><stop offset="0.464" stop-color="#e9f7b1"/><stop offset="0.516" stop-color="#d3eeb3"/><stop offset="0.534" stop-color="#c5e8b4"/><stop offset="0.543" stop-color="#8dd3ba"/><stop offset="0.551" stop-color="#43b7c4"/><stop offset="0.560" stop-color="#2ba0c2"/><stop offset="0.569" stop-color="#46b8c3"/><stop offset="0.578" stop-color="#99d7b8"/><stop offset="0.586" stop-color="#ceecb3"/><stop offset="0.604" stop-color="#ddf2b2"/><stop offset="0.648" stop-color="#e9f6b1"/><stop offset="0.674" stop-color="#eaf7b1"/><stop offset="0.691" stop-color="#f2fabb"/><stop offset="0.700" stop-color="#ecf8b1"/><stop offset="1.000" stop-color="#eef9b4"/></linearGradient><linearGradient id="gh48" gradientUnits="userSpaceOnUse" x1="541.9" y1="0" x2="627.6" y2="0"><stop offset="0.000" stop-color="#eff9b4"/><stop offset="0.429" stop-color="#ebf7b1"/><stop offset="0.438" stop-color="#f1fabb"/><stop offset="0.464" stop-color="#eaf7b1"/><stop offset="0.525" stop-color="#d5efb3"/><stop offset="0.534" stop-color="#ccebb4"/><stop offset="0.543" stop-color="#9ed9b8"/><stop offset="0.551" stop-color="#55bdc1"/><stop offset="0.560" stop-color="#37acc3"/><stop offset="0.569" stop-color="#58bec1"/><stop offset="0.578" stop-color="#a7ddb7"/><stop offset="0.586" stop-color="#d3eeb3"/><stop offset="0.604" stop-color="#e0f3b2"/><stop offset="0.674" stop-color="#ebf7b1"/><stop offset="0.683" stop-color="#f1fabb"/><stop offset="0.691" stop-color="#f2fabb"/><stop offset="0.700" stop-color="#ecf8b1"/><stop offset="1.000" stop-color="#eff9b4"/></linearGradient><linearGradient id="gh49" gradientUnits="userSpaceOnUse" x1="541.9" y1="0" x2="627.6" y2="0"><stop offset="0.000" stop-color="#eff9b4"/><stop offset="0.429" stop-color="#ecf7b1"/><stop offset="0.438" stop-color="#f1fabb"/><stop offset="0.464" stop-color="#eaf7b1"/><stop offset="0.525" stop-color="#d3eeb3"/><stop offset="0.534" stop-color="#c9eab4"/><stop offset="0.543" stop-color="#95d6b9"/><stop offset="0.551" stop-color="#49b9c3"/><stop offset="0.560" stop-color="#2ea3c2"/><stop offset="0.569" stop-color="#4cbac2"/><stop offset="0.578" stop-color="#a0dab8"/><stop offset="0.586" stop-color="#d1edb3"/><stop offset="0.604" stop-color="#dff2b2"/><stop offset="0.656" stop-color="#eaf7b1"/><stop offset="0.674" stop-color="#ebf7b1"/><stop offset="0.683" stop-color="#f1fabb"/><stop offset="0.691" stop-color="#f2fabb"/><stop offset="0.700" stop-color="#ecf8b1"/><stop offset="1.000" stop-color="#eff9b4"/></linearGradient><linearGradient id="gh50" gradientUnits="userSpaceOnUse" x1="541.9" y1="0" x2="627.6" y2="0"><stop offset="0.000" stop-color="#eff9b5"/><stop offset="0.429" stop-color="#ecf7b1"/><stop offset="0.438" stop-color="#f1fabb"/><stop offset="0.464" stop-color="#eaf7b1"/><stop offset="0.490" stop-color="#e2f4b2"/><stop offset="0.525" stop-color="#d6efb3"/><stop offset="0.534" stop-color="#cdecb3"/><stop offset="0.543" stop-color="#a0dab8"/><stop offset="0.551" stop-color="#55bdc1"/><stop offset="0.560" stop-color="#36abc3"/><stop offset="0.569" stop-color="#58bec1"/><stop offset="0.578" stop-color="#aadeb7"/><stop offset="0.586" stop-color="#d5eeb3"/><stop offset="0.604" stop-color="#e1f3b2"/><stop offset="0.674" stop-color="#ebf7b1"/><stop offset="0.683" stop-color="#f1fabb"/><stop offset="0.691" stop-color="#f2fabb"/><stop offset="0.700" stop-color="#ecf8b1"/><stop offset="1.000" stop-color="#eff9b5"/></linearGradient><linearGradient id="gh51" gradientUnits="userSpaceOnUse" x1="541.9" y1="0" x2="627.6" y2="0"><stop offset="0.000" stop-color="#eff9b5"/><stop offset="0.429" stop-color="#ecf8b1"/><stop offset="0.438" stop-color="#f2fabb"/><stop offset="0.464" stop-color="#eaf7b1"/><stop offset="0.490" stop-color="#e4f4b2"/><stop offset="0.534" stop-color="#cfecb3"/><stop offset="0.543" stop-color="#a6dcb7"/><stop offset="0.551" stop-color="#5abfc0"/><stop offset="0.560" stop-color="#39adc3"/><stop offset="0.569" stop-color="#5dc0c0"/><stop offset="0.578" stop-color="#afe0b6"/><stop offset="0.586" stop-color="#d6efb3"/><stop offset="0.621" stop-color="#e8f6b1"/><stop offset="0.674" stop-color="#ebf7b1"/><stop offset="0.683" stop-color="#f2fabb"/><stop offset="0.691" stop-color="#f2fabc"/><stop offset="0.700" stop-color="#ecf8b1"/><stop offset="1.000" stop-color="#eff9b5"/></linearGradient><linearGradient id="gh52" gradientUnits="userSpaceOnUse" x1="541.9" y1="0" x2="627.6" y2="0"><stop offset="0.000" stop-color="#eff9b5"/><stop offset="0.429" stop-color="#ecf8b1"/><stop offset="0.438" stop-color="#f2fabb"/><stop offset="0.464" stop-color="#eaf7b1"/><stop offset="0.490" stop-color="#e4f5b2"/><stop offset="0.534" stop-color="#ceecb3"/><stop offset="0.543" stop-color="#a2dab8"/><stop offset="0.551" stop-color="#53bdc1"/><stop offset="0.560" stop-color="#33a8c2"/><stop offset="0.569" stop-color="#56bec1"/><stop offset="0.578" stop-color="#acdeb7"/><stop offset="0.586" stop-color="#d5efb3"/><stop offset="0.621" stop-color="#e8f6b1"/><stop offset="0.674" stop-color="#ebf7b1"/><stop offset="0.683" stop-color="#f2fabb"/><stop offset="0.691" stop-color="#f2fabc"/><stop offset="0.700" stop-color="#ecf8b1"/><stop offset="1.000" stop-color="#eff9b5"/></linearGradient><linearGradient id="gh53" gradientUnits="userSpaceOnUse" x1="541.9" y1="0" x2="627.6" y2="0"><stop offset="0.000" stop-color="#eff9b5"/><stop offset="0.429" stop-color="#ecf8b1"/><stop offset="0.438" stop-color="#f2fabb"/><stop offset="0.446" stop-color="#f1fabb"/><stop offset="0.455" stop-color="#ebf7b1"/><stop offset="0.499" stop-color="#e2f4b2"/><stop offset="0.534" stop-color="#d2edb3"/><stop offset="0.543" stop-color="#acdfb7"/><stop offset="0.551" stop-color="#5fc1c0"/><stop offset="0.560" stop-color="#3bb0c3"/><stop offset="0.569" stop-color="#62c2bf"/><stop offset="0.578" stop-color="#b5e2b6"/><stop offset="0.586" stop-color="#d9f0b3"/><stop offset="0.621" stop-color="#e8f6b1"/><stop offset="0.674" stop-color="#ebf7b1"/><stop offset="0.683" stop-color="#f2fabb"/><stop offset="0.691" stop-color="#f2fabc"/><stop offset="0.700" stop-color="#ecf8b1"/><stop offset="1.000" stop-color="#eff9b5"/></linearGradient><linearGradient id="gh54" gradientUnits="userSpaceOnUse" x1="541.9" y1="0" x2="627.6" y2="0"><stop offset="0.000" stop-color="#eff9b5"/><stop offset="0.429" stop-color="#ecf8b1"/><stop offset="0.438" stop-color="#f2fabb"/><stop offset="0.446" stop-color="#f1fabb"/><stop offset="0.455" stop-color="#ebf7b1"/><stop offset="0.499" stop-color="#e4f5b2"/><stop offset="0.534" stop-color="#d5eeb3"/><stop offset="0.543" stop-color="#b4e1b6"/><stop offset="0.551" stop-color="#67c4bf"/><stop offset="0.560" stop-color="#40b5c4"/><stop offset="0.569" stop-color="#69c5be"/><stop offset="0.578" stop-color="#bce5b5"/><stop offset="0.586" stop-color="#dbf1b2"/><stop offset="0.621" stop-color="#e8f6b1"/><stop offset="0.674" stop-color="#ebf7b1"/><stop offset="0.683" stop-color="#f2fabb"/><stop offset="0.691" stop-color="#f2fabc"/><stop offset="0.700" stop-color="#edf8b1"/><stop offset="1.000" stop-color="#eff9b5"/></linearGradient><linearGradient id="gh55" gradientUnits="userSpaceOnUse" x1="541.9" y1="0" x2="627.6" y2="0"><stop offset="0.000" stop-color="#eff9b5"/><stop offset="0.429" stop-color="#ecf8b1"/><stop offset="0.438" stop-color="#f2fabc"/><stop offset="0.446" stop-color="#f2fabb"/><stop offset="0.455" stop-color="#ebf7b1"/><stop offset="0.499" stop-color="#e6f5b2"/><stop offset="0.534" stop-color="#d6efb3"/><stop offset="0.543" stop-color="#b6e2b6"/><stop offset="0.551" stop-color="#67c4be"/><stop offset="0.560" stop-color="#3fb4c4"/><stop offset="0.569" stop-color="#6ac5be"/><stop offset="0.578" stop-color="#bee6b5"/><stop offset="0.586" stop-color="#dcf1b2"/><stop offset="0.621" stop-color="#e8f6b1"/><stop offset="0.674" stop-color="#ebf7b1"/><stop offset="0.683" stop-color="#f2fabc"/><stop offset="0.691" stop-color="#f2fabc"/><stop offset="0.700" stop-color="#edf8b1"/><stop offset="1.000" stop-color="#eff9b5"/></linearGradient><linearGradient id="gh56" gradientUnits="userSpaceOnUse" x1="541.9" y1="0" x2="627.6" y2="0"><stop offset="0.000" stop-color="#eff9b5"/><stop offset="0.429" stop-color="#ecf8b1"/><stop offset="0.438" stop-color="#f2fabc"/><stop offset="0.446" stop-color="#f2fabb"/><stop offset="0.455" stop-color="#ebf7b1"/><stop offset="0.508" stop-color="#e2f4b2"/><stop offset="0.534" stop-color="#d6efb3"/><stop offset="0.543" stop-color="#b7e3b6"/><stop offset="0.551" stop-color="#67c4be"/><stop offset="0.560" stop-color="#3fb4c4"/><stop offset="0.569" stop-color="#6ac5be"/><stop offset="0.578" stop-color="#c0e6b5"/><stop offset="0.586" stop-color="#dcf1b2"/><stop offset="0.621" stop-color="#e9f6b1"/><stop offset="0.674" stop-color="#ebf7b1"/><stop offset="0.683" stop-color="#f2fabc"/><stop offset="0.691" stop-color="#f2fabc"/><stop offset="0.700" stop-color="#edf8b1"/><stop offset="1.000" stop-color="#eff9b5"/></linearGradient><linearGradient id="gh57" gradientUnits="userSpaceOnUse" x1="541.9" y1="0" x2="627.6" y2="0"><stop offset="0.000" stop-color="#eff9b5"/><stop offset="0.429" stop-color="#ecf8b1"/><stop offset="0.438" stop-color="#f2fabc"/><stop offset="0.446" stop-color="#f2fabb"/><stop offset="0.455" stop-color="#ebf7b1"/><stop offset="0.525" stop-color="#e1f3b2"/><stop offset="0.534" stop-color="#dbf1b2"/><stop offset="0.543" stop-color="#c5e8b4"/><stop offset="0.551" stop-color="#79cbbc"/><stop offset="0.560" stop-color="#51bcc2"/><stop offset="0.569" stop-color="#7bccbc"/><stop offset="0.578" stop-color="#caeab4"/><stop offset="0.586" stop-color="#e0f3b2"/><stop offset="0.630" stop-color="#e9f6b1"/><stop offset="0.674" stop-color="#ebf7b1"/><stop offset="0.683" stop-color="#f2fabc"/><stop offset="0.691" stop-color="#f2fabc"/><stop offset="0.700" stop-color="#edf8b1"/><stop offset="1.000" stop-color="#eff9b5"/></linearGradient><linearGradient id="gh58" gradientUnits="userSpaceOnUse" x1="541.9" y1="0" x2="627.6" y2="0"><stop offset="0.000" stop-color="#eff9b5"/><stop offset="0.429" stop-color="#edf8b1"/><stop offset="0.438" stop-color="#f2fabc"/><stop offset="0.446" stop-color="#f2fabb"/><stop offset="0.455" stop-color="#ebf7b1"/><stop offset="0.508" stop-color="#e5f5b2"/><stop offset="0.534" stop-color="#d8f0b3"/><stop offset="0.543" stop-color="#bce5b5"/><stop offset="0.551" stop-color="#6bc6be"/><stop offset="0.560" stop-color="#40b5c4"/><stop offset="0.569" stop-color="#6ec7be"/><stop offset="0.578" stop-color="#c5e8b4"/><stop offset="0.586" stop-color="#def2b2"/><stop offset="0.621" stop-color="#e9f6b1"/><stop offset="0.674" stop-color="#ecf7b1"/><stop offset="0.683" stop-color="#f2fabc"/><stop offset="0.691" stop-color="#f2fabc"/><stop offset="0.700" stop-color="#edf8b1"/><stop offset="1.000" stop-color="#eff9b5"/></linearGradient><linearGradient id="gh59" gradientUnits="userSpaceOnUse" x1="541.9" y1="0" x2="627.6" y2="0"><stop offset="0.000" stop-color="#eff9b6"/><stop offset="0.429" stop-color="#edf8b1"/><stop offset="0.438" stop-color="#f2fabc"/><stop offset="0.446" stop-color="#f2fabb"/><stop offset="0.455" stop-color="#ebf7b1"/><stop offset="0.525" stop-color="#e3f4b2"/><stop offset="0.534" stop-color="#def2b2"/><stop offset="0.543" stop-color="#cbeab4"/><stop offset="0.551" stop-color="#82cebb"/><stop offset="0.560" stop-color="#59bfc0"/><stop offset="0.569" stop-color="#85cfba"/><stop offset="0.578" stop-color="#ceecb3"/><stop offset="0.586" stop-color="#e3f4b2"/><stop offset="0.674" stop-color="#ecf7b1"/><stop offset="0.683" stop-color="#f2fabc"/><stop offset="0.691" stop-color="#f2fabc"/><stop offset="0.700" stop-color="#edf8b1"/><stop offset="1.000" stop-color="#eff9b6"/></linearGradient><linearGradient id="gh60" gradientUnits="userSpaceOnUse" x1="541.9" y1="0" x2="627.6" y2="0"><stop offset="0.000" stop-color="#eff9b6"/><stop offset="0.429" stop-color="#edf8b1"/><stop offset="0.438" stop-color="#f2fabc"/><stop offset="0.446" stop-color="#f2fabc"/><stop offset="0.455" stop-color="#ebf7b1"/><stop offset="0.516" stop-color="#e4f5b2"/><stop offset="0.534" stop-color="#dcf1b2"/><stop offset="0.543" stop-color="#c7e9b4"/><stop offset="0.551" stop-color="#78cabc"/><stop offset="0.560" stop-color="#4dbac2"/><stop offset="0.569" stop-color="#7bcbbc"/><stop offset="0.578" stop-color="#ccebb4"/><stop offset="0.586" stop-color="#e1f3b2"/><stop offset="0.648" stop-color="#eaf7b1"/><stop offset="0.674" stop-color="#ecf8b1"/><stop offset="0.683" stop-color="#f2fabc"/><stop offset="0.691" stop-color="#f2fabd"/><stop offset="0.700" stop-color="#edf8b1"/><stop offset="1.000" stop-color="#eff9b6"/></linearGradient><linearGradient id="gh61" gradientUnits="userSpaceOnUse" x1="541.9" y1="0" x2="627.6" y2="0"><stop offset="0.000" stop-color="#eff9b6"/><stop offset="0.429" stop-color="#edf8b1"/><stop offset="0.438" stop-color="#f2fabc"/><stop offset="0.446" stop-color="#f2fabc"/><stop offset="0.455" stop-color="#ebf7b1"/><stop offset="0.525" stop-color="#e2f4b2"/><stop offset="0.534" stop-color="#ddf2b2"/><stop offset="0.543" stop-color="#c9eab4"/><stop offset="0.551" stop-color="#7bcbbc"/><stop offset="0.560" stop-color="#4fbbc2"/><stop offset="0.569" stop-color="#7dccbb"/><stop offset="0.578" stop-color="#cdebb4"/><stop offset="0.586" stop-color="#e2f4b2"/><stop offset="0.674" stop-color="#ecf8b1"/><stop offset="0.683" stop-color="#f2fabc"/><stop offset="0.691" stop-color="#f2fabd"/><stop offset="0.700" stop-color="#edf8b1"/><stop offset="1.000" stop-color="#eff9b6"/></linearGradient><linearGradient id="gh62" gradientUnits="userSpaceOnUse" x1="541.9" y1="0" x2="627.6" y2="0"><stop offset="0.000" stop-color="#eff9b6"/><stop offset="0.429" stop-color="#edf8b1"/><stop offset="0.438" stop-color="#f2fabc"/><stop offset="0.446" stop-color="#f2fabc"/><stop offset="0.455" stop-color="#ebf7b1"/><stop offset="0.534" stop-color="#e2f4b2"/><stop offset="0.543" stop-color="#d1edb3"/><stop offset="0.551" stop-color="#90d4b9"/><stop offset="0.560" stop-color="#65c3bf"/><stop offset="0.569" stop-color="#92d4b9"/><stop offset="0.578" stop-color="#d3eeb3"/><stop offset="0.586" stop-color="#e4f5b2"/><stop offset="0.674" stop-color="#ecf8b1"/><stop offset="0.683" stop-color="#f2fabc"/><stop offset="0.691" stop-color="#f2fabd"/><stop offset="0.700" stop-color="#edf8b1"/><stop offset="1.000" stop-color="#eff9b6"/></linearGradient><linearGradient id="gh63" gradientUnits="userSpaceOnUse" x1="541.9" y1="0" x2="627.6" y2="0"><stop offset="0.000" stop-color="#eff9b6"/><stop offset="0.429" stop-color="#edf8b1"/><stop offset="0.438" stop-color="#f2fabc"/><stop offset="0.446" stop-color="#f2fabc"/><stop offset="0.455" stop-color="#ecf7b1"/><stop offset="0.525" stop-color="#e5f5b2"/><stop offset="0.534" stop-color="#e0f3b2"/><stop offset="0.543" stop-color="#ceecb3"/><stop offset="0.551" stop-color="#85cfba"/><stop offset="0.560" stop-color="#58bfc1"/><stop offset="0.569" stop-color="#88d1ba"/><stop offset="0.578" stop-color="#d1edb3"/><stop offset="0.586" stop-color="#e5f5b2"/><stop offset="0.674" stop-color="#ecf8b1"/><stop offset="0.683" stop-color="#f2fabc"/><stop offset="0.691" stop-color="#f2fabd"/><stop offset="0.700" stop-color="#edf8b2"/><stop offset="1.000" stop-color="#eff9b6"/></linearGradient><linearGradient id="gh64" gradientUnits="userSpaceOnUse" x1="541.9" y1="0" x2="627.6" y2="0"><stop offset="0.000" stop-color="#eff9b6"/><stop offset="0.429" stop-color="#edf8b1"/><stop offset="0.438" stop-color="#f2fabc"/><stop offset="0.446" stop-color="#f2fabc"/><stop offset="0.455" stop-color="#ecf7b1"/><stop offset="0.534" stop-color="#e3f4b2"/><stop offset="0.543" stop-color="#d3eeb3"/><stop offset="0.551" stop-color="#93d5b9"/><stop offset="0.560" stop-color="#66c4bf"/><stop offset="0.569" stop-color="#95d5b9"/><stop offset="0.578" stop-color="#d5eeb3"/><stop offset="0.586" stop-color="#e5f5b2"/><stop offset="0.674" stop-color="#ecf8b1"/><stop offset="0.683" stop-color="#f2fabc"/><stop offset="0.691" stop-color="#f2fabd"/><stop offset="0.700" stop-color="#edf8b2"/><stop offset="1.000" stop-color="#eff9b6"/></linearGradient><linearGradient id="gh65" gradientUnits="userSpaceOnUse" x1="541.9" y1="0" x2="627.6" y2="0"><stop offset="0.000" stop-color="#eff9b6"/><stop offset="0.429" stop-color="#edf8b1"/><stop offset="0.438" stop-color="#f2fabd"/><stop offset="0.446" stop-color="#f2fabc"/><stop offset="0.455" stop-color="#ecf8b1"/><stop offset="0.534" stop-color="#e4f4b2"/><stop offset="0.543" stop-color="#d4eeb3"/><stop offset="0.551" stop-color="#95d5b9"/><stop offset="0.560" stop-color="#67c4bf"/><stop offset="0.569" stop-color="#97d6b9"/><stop offset="0.578" stop-color="#d6efb3"/><stop offset="0.586" stop-color="#e6f5b2"/><stop offset="0.674" stop-color="#ecf8b1"/><stop offset="0.683" stop-color="#f2fabd"/><stop offset="0.691" stop-color="#f2fabd"/><stop offset="0.700" stop-color="#edf8b2"/><stop offset="1.000" stop-color="#eff9b6"/></linearGradient><linearGradient id="gh66" gradientUnits="userSpaceOnUse" x1="541.9" y1="0" x2="627.6" y2="0"><stop offset="0.000" stop-color="#eff9b6"/><stop offset="0.429" stop-color="#edf8b1"/><stop offset="0.438" stop-color="#f2fabd"/><stop offset="0.446" stop-color="#f2fabc"/><stop offset="0.455" stop-color="#ecf8b1"/><stop offset="0.534" stop-color="#e6f5b2"/><stop offset="0.543" stop-color="#d9f0b3"/><stop offset="0.560" stop-color="#78cbbc"/><stop offset="0.578" stop-color="#d9f0b3"/><stop offset="0.586" stop-color="#e6f5b2"/><stop offset="0.674" stop-color="#ecf8b1"/><stop offset="0.683" stop-color="#f2fabd"/><stop offset="0.691" stop-color="#f2fabd"/><stop offset="0.700" stop-color="#edf8b2"/><stop offset="1.000" stop-color="#eff9b6"/></linearGradient><linearGradient id="gh67" gradientUnits="userSpaceOnUse" x1="541.9" y1="0" x2="627.6" y2="0"><stop offset="0.000" stop-color="#eff9b6"/><stop offset="0.429" stop-color="#edf8b1"/><stop offset="0.438" stop-color="#f2fabd"/><stop offset="0.446" stop-color="#f2fabc"/><stop offset="0.455" stop-color="#ecf8b1"/><stop offset="0.534" stop-color="#e7f5b2"/><stop offset="0.543" stop-color="#daf1b2"/><stop offset="0.560" stop-color="#7dccbb"/><stop offset="0.578" stop-color="#daf1b2"/><stop offset="0.586" stop-color="#e7f5b2"/><stop offset="0.674" stop-color="#ecf8b1"/><stop offset="0.683" stop-color="#f2fabd"/><stop offset="0.691" stop-color="#f3fabd"/><stop offset="0.700" stop-color="#edf8b2"/><stop offset="1.000" stop-color="#eff9b6"/></linearGradient><linearGradient id="gh68" gradientUnits="userSpaceOnUse" x1="541.9" y1="0" x2="627.6" y2="0"><stop offset="0.000" stop-color="#eff9b6"/><stop offset="0.429" stop-color="#edf8b2"/><stop offset="0.438" stop-color="#f2fabd"/><stop offset="0.446" stop-color="#f2fabc"/><stop offset="0.455" stop-color="#ecf8b1"/><stop offset="0.534" stop-color="#e7f6b1"/><stop offset="0.543" stop-color="#dbf1b2"/><stop offset="0.560" stop-color="#81cebb"/><stop offset="0.578" stop-color="#dbf1b2"/><stop offset="0.586" stop-color="#e7f6b1"/><stop offset="0.674" stop-color="#edf8b1"/><stop offset="0.683" stop-color="#f2fabd"/><stop offset="0.691" stop-color="#f3fabd"/><stop offset="0.700" stop-color="#edf8b2"/><stop offset="1.000" stop-color="#eff9b6"/></linearGradient><linearGradient id="gh69" gradientUnits="userSpaceOnUse" x1="541.9" y1="0" x2="627.6" y2="0"><stop offset="0.000" stop-color="#f0f9b7"/><stop offset="0.429" stop-color="#edf8b2"/><stop offset="0.438" stop-color="#f2fabd"/><stop offset="0.446" stop-color="#f2fabd"/><stop offset="0.455" stop-color="#ecf8b1"/><stop offset="0.534" stop-color="#e7f6b1"/><stop offset="0.543" stop-color="#dbf1b2"/><stop offset="0.560" stop-color="#78cbbc"/><stop offset="0.578" stop-color="#dbf1b2"/><stop offset="0.586" stop-color="#e7f6b1"/><stop offset="0.674" stop-color="#edf8b1"/><stop offset="0.683" stop-color="#f2fabd"/><stop offset="0.691" stop-color="#f3fabe"/><stop offset="0.700" stop-color="#eef8b2"/><stop offset="1.000" stop-color="#f0f9b7"/></linearGradient><linearGradient id="gh70" gradientUnits="userSpaceOnUse" x1="541.9" y1="0" x2="627.6" y2="0"><stop offset="0.000" stop-color="#f0f9b7"/><stop offset="0.429" stop-color="#edf8b2"/><stop offset="0.438" stop-color="#f2fabd"/><stop offset="0.446" stop-color="#f2fabd"/><stop offset="0.455" stop-color="#ecf8b1"/><stop offset="0.534" stop-color="#e8f6b1"/><stop offset="0.543" stop-color="#def2b2"/><stop offset="0.560" stop-color="#8ed3ba"/><stop offset="0.578" stop-color="#def2b2"/><stop offset="0.595" stop-color="#e9f6b1"/><stop offset="0.674" stop-color="#edf8b1"/><stop offset="0.683" stop-color="#f2fabd"/><stop offset="0.691" stop-color="#f3fabe"/><stop offset="0.700" stop-color="#eef8b2"/><stop offset="1.000" stop-color="#f0f9b7"/></linearGradient><linearGradient id="gh71" gradientUnits="userSpaceOnUse" x1="541.9" y1="0" x2="627.6" y2="0"><stop offset="0.000" stop-color="#f0f9b7"/><stop offset="0.429" stop-color="#edf8b2"/><stop offset="0.438" stop-color="#f3fabd"/><stop offset="0.446" stop-color="#f2fabd"/><stop offset="0.455" stop-color="#ecf8b1"/><stop offset="0.534" stop-color="#e8f6b1"/><stop offset="0.543" stop-color="#def2b2"/><stop offset="0.560" stop-color="#8ad1ba"/><stop offset="0.578" stop-color="#def2b2"/><stop offset="0.595" stop-color="#e9f6b1"/><stop offset="0.674" stop-color="#edf8b1"/><stop offset="0.683" stop-color="#f3fabd"/><stop offset="0.691" stop-color="#f3fabe"/><stop offset="0.700" stop-color="#eef8b2"/><stop offset="1.000" stop-color="#f0f9b7"/></linearGradient><linearGradient id="cbar" x1="0" y1="1" x2="0" y2="0"><stop offset="0.0" stop-color="#fbfdcf"/><stop offset="0.1" stop-color="#ecf8b1"/><stop offset="0.2" stop-color="#cfecb3"/><stop offset="0.3" stop-color="#9ed9b8"/><stop offset="0.4" stop-color="#6ac5be"/><stop offset="0.5" stop-color="#3db2c4"/><stop offset="0.6" stop-color="#2195c0"/><stop offset="0.7" stop-color="#206fb0"/><stop offset="0.8" stop-color="#234b9f"/><stop offset="0.9" stop-color="#1f2f87"/><stop offset="1.0" stop-color="#081d58"/></linearGradient></defs><rect width="645" height="685" fill="#fff"/><text x="10" y="17" font-size="14.5" font-weight="bold" fill="#000">A</text>
<rect x="38.8" y="46.7" width="84" height="44.1" fill="#dcf1ef" />
<line x1="122.8" y1="47" x2="155.2" y2="17.8" stroke="#555" stroke-width="0.8" stroke-dasharray="3.5 2.5"/>
<line x1="122.8" y1="90.8" x2="155.2" y2="115.2" stroke="#555" stroke-width="0.8" stroke-dasharray="3.5 2.5"/>
<path d="M55.7,16.2 L55.7,94 C55.7,101 60.5,106.2 65.5,106.2 C70.5,106.2 74.7,101 74.7,94 L74.7,36 C74.7,27 83,21.6 92.2,21.6 C101.5,21.6 109.7,27 109.7,36 L109.7,94 C109.7,100 105.5,104.3 100.6,104.3 C95.7,104.3 91.6,100 91.6,94 L91.6,12" fill="none" stroke="#bfcac8" stroke-width="1.6" stroke-linecap="round"/>
<line x1="55.7" y1="55.8" x2="109.7" y2="57.5" stroke="#d8b83a" stroke-width="1.9" stroke-linecap="round"/>
<line x1="55.7" y1="55.8" x2="109.7" y2="57.5" stroke="#f4e66a" stroke-width="1.1" stroke-linecap="round"/>
<line x1="74.7" y1="70.1" x2="91.6" y2="60.7" stroke="#d8b83a" stroke-width="1.9" stroke-linecap="round"/>
<line x1="74.7" y1="70.1" x2="91.6" y2="60.7" stroke="#f4e66a" stroke-width="1.1" stroke-linecap="round"/>
<line x1="55.7" y1="73.3" x2="109.7" y2="75.6" stroke="#d8b83a" stroke-width="1.9" stroke-linecap="round"/>
<line x1="55.7" y1="73.3" x2="109.7" y2="75.6" stroke="#f4e66a" stroke-width="1.1" stroke-linecap="round"/>
<line x1="74.7" y1="87.3" x2="91.6" y2="78.6" stroke="#d8b83a" stroke-width="1.9" stroke-linecap="round"/>
<line x1="74.7" y1="87.3" x2="91.6" y2="78.6" stroke="#f4e66a" stroke-width="1.1" stroke-linecap="round"/>
<circle cx="55.7" cy="22.5" r="2.1" fill="#cfcfcf" stroke="#8a8a8a" stroke-width="0.7" />
<circle cx="55.7" cy="37.7" r="2.1" fill="#d4f5c2" stroke="#8fcf80" stroke-width="0.7" />
<circle cx="55.7" cy="55.8" r="2.1" fill="#f7a25e" stroke="#e0682e" stroke-width="0.7" />
<circle cx="55.7" cy="73.3" r="2.1" fill="#f7a25e" stroke="#e0682e" stroke-width="0.7" />
<circle cx="55.7" cy="90.8" r="2.1" fill="#f7a25e" stroke="#e0682e" stroke-width="0.7" />
<circle cx="66.8" cy="106.2" r="2.1" fill="#8c8c8c" stroke="#555" stroke-width="0.7" />
<circle cx="74.7" cy="35.6" r="2.1" fill="#cfcfcf" stroke="#8a8a8a" stroke-width="0.7" />
<circle cx="74.7" cy="51.9" r="2.1" fill="#f7a25e" stroke="#e0682e" stroke-width="0.7" />
<circle cx="74.7" cy="70.1" r="2.1" fill="#f7a25e" stroke="#e0682e" stroke-width="0.7" />
<circle cx="74.7" cy="87.3" r="2.1" fill="#f7a25e" stroke="#e0682e" stroke-width="0.7" />
<circle cx="92.5" cy="21.8" r="2.1" fill="#cfcfcf" stroke="#8a8a8a" stroke-width="0.7" />
<circle cx="91.6" cy="43.9" r="2.1" fill="#8c8c8c" stroke="#555" stroke-width="0.7" />
<circle cx="91.6" cy="60.7" r="2.1" fill="#f7a25e" stroke="#e0682e" stroke-width="0.7" />
<circle cx="91.6" cy="78.6" r="2.1" fill="#f7a25e" stroke="#e0682e" stroke-width="0.7" />
<circle cx="91.6" cy="91.7" r="2.1" fill="#8c8c8c" stroke="#555" stroke-width="0.7" />
<circle cx="99.5" cy="104.3" r="2.1" fill="#d4f5c2" stroke="#8fcf80" stroke-width="0.7" />
<circle cx="109.7" cy="39.2" r="2.1" fill="#f7a25e" stroke="#e0682e" stroke-width="0.7" />
<circle cx="109.7" cy="57.5" r="2.1" fill="#f7a25e" stroke="#e0682e" stroke-width="0.7" />
<circle cx="109.7" cy="75.6" r="2.1" fill="#f7a25e" stroke="#e0682e" stroke-width="0.7" />
<circle cx="109.7" cy="93.1" r="2.1" fill="#f7a25e" stroke="#e0682e" stroke-width="0.7" />
<text x="42.2" y="57.3" font-size="10.5" font-weight="bold" fill="#111">C<tspan font-size="6.5" dy="-4">+</tspan></text>
<text x="42.2" y="75.2" font-size="10.5" font-weight="bold" fill="#111">C<tspan font-size="6.5" dy="-4">+</tspan></text>
<text x="62.8" y="71.6" font-size="10.5" font-weight="bold" fill="#111">C<tspan font-size="6.5" dy="-4">+</tspan></text>
<text x="62.8" y="88.8" font-size="10.5" font-weight="bold" fill="#111">C<tspan font-size="6.5" dy="-4">+</tspan></text>
<text x="113.5" y="61" font-size="10.5" font-weight="bold" fill="#111">C</text>
<text x="95.6" y="67.3" font-size="10.5" font-weight="bold" fill="#111">C</text>
<text x="113.5" y="79.6" font-size="10.5" font-weight="bold" fill="#111">C</text>
<text x="95.6" y="86" font-size="10.5" font-weight="bold" fill="#111">C</text>
<text x="86.3" y="121" font-size="11.6" text-anchor="middle" fill="#151515">i-motif</text>
<rect x="155.2" y="17.6" width="217.2" height="97.7" fill="#e4f4f2" />
<path d="M162.4,68.2 L169,56.77 L182.2,56.77 L188.8,68.2 L182.2,79.63 L169,79.63Z" fill="#e8c878" stroke="#6e6040" stroke-width="0.9" />
<line x1="166.08" y1="66.86" x2="169.68" y2="60.62" stroke="#6e6040" stroke-width="0.8" />
<line x1="185.12" y1="69.54" x2="181.52" y2="75.78" stroke="#6e6040" stroke-width="0.8" />
<text x="175.6" y="71.8" font-size="10.5" text-anchor="middle" font-weight="bold" fill="#111">C</text>
<path d="M222.9,68.2 L229.5,56.77 L242.7,56.77 L249.3,68.2 L242.7,79.63 L229.5,79.63Z" fill="#e8c878" stroke="#6e6040" stroke-width="0.9" />
<line x1="232.5" y1="59.28" x2="239.7" y2="59.28" stroke="#6e6040" stroke-width="0.8" />
<line x1="239.7" y1="77.12" x2="232.5" y2="77.12" stroke="#6e6040" stroke-width="0.8" />
<text x="236.1" y="71.8" font-size="10.5" text-anchor="middle" font-weight="bold" fill="#111">C</text>
<path d="M278.9,69.2 L285.5,57.77 L298.7,57.77 L305.3,69.2 L298.7,80.63 L285.5,80.63Z" fill="#e8c878" stroke="#6e6040" stroke-width="0.9" />
<line x1="282.58" y1="67.86" x2="286.18" y2="61.62" stroke="#6e6040" stroke-width="0.8" />
<line x1="301.62" y1="70.54" x2="298.02" y2="76.78" stroke="#6e6040" stroke-width="0.8" />
<text x="292.1" y="72.8" font-size="10.5" text-anchor="middle" font-weight="bold" fill="#111">C</text>
<path d="M340.3,69.5 L346.9,58.07 L360.1,58.07 L366.7,69.5 L360.1,80.93 L346.9,80.93Z" fill="#e8c878" stroke="#6e6040" stroke-width="0.9" />
<line x1="349.9" y1="60.58" x2="357.1" y2="60.58" stroke="#6e6040" stroke-width="0.8" />
<line x1="357.1" y1="78.42" x2="349.9" y2="78.42" stroke="#6e6040" stroke-width="0.8" />
<text x="353.5" y="73.1" font-size="10.5" text-anchor="middle" font-weight="bold" fill="#111">C</text>
<line x1="182.2" y1="56.77" x2="189" y2="45.5" stroke="#333" stroke-width="0.8" />
<line x1="189" y1="44.5" x2="203.6" y2="44.5" stroke="#333" stroke-width="0.8" />
<line x1="189" y1="44.5" x2="182.3" y2="33.5" stroke="#333" stroke-width="0.8" />
<rect x="186.7" y="41.5" width="4.6" height="6" fill="#e4f4f2" />
<text x="189" y="46.8" font-size="6.4" text-anchor="middle" font-weight="bold" fill="#111">N</text>
<rect x="201.3" y="41.5" width="4.6" height="6" fill="#e4f4f2" />
<text x="203.6" y="46.8" font-size="6.4" text-anchor="middle" font-weight="bold" fill="#111">H</text>
<rect x="179.7" y="29.4" width="4.6" height="6" fill="#e4f4f2" />
<text x="182" y="34.7" font-size="6.4" text-anchor="middle" font-weight="bold" fill="#111">H</text>
<rect x="188" y="65.3" width="4.6" height="6" fill="#e4f4f2" />
<text x="190.3" y="70.6" font-size="6.4" text-anchor="middle" font-weight="bold" fill="#111">N</text>
<line x1="182.2" y1="79.63" x2="189.9" y2="91.2" stroke="#333" stroke-width="0.8" />
<line x1="183.7" y1="78.83" x2="191.4" y2="90.4" stroke="#333" stroke-width="0.8" />
<rect x="187.6" y="88.4" width="4.6" height="6" fill="#e4f4f2" />
<text x="189.9" y="93.7" font-size="6.4" text-anchor="middle" font-weight="bold" fill="#111">O</text>
<rect x="166.2" y="76.5" width="4.6" height="6" fill="#e4f4f2" />
<text x="168.5" y="81.8" font-size="6.4" text-anchor="middle" font-weight="bold" fill="#111">N</text>
<rect x="166.2" y="82.2" width="4.6" height="6" fill="#e4f4f2" />
<text x="168.5" y="87.5" font-size="6.4" text-anchor="middle" font-weight="bold" fill="#111">H</text>
<line x1="229.5" y1="56.77" x2="221.2" y2="45.2" stroke="#333" stroke-width="0.8" />
<line x1="228" y1="57.37" x2="219.6" y2="46.2" stroke="#333" stroke-width="0.8" />
<rect x="218.9" y="41.7" width="4.6" height="6" fill="#e4f4f2" />
<text x="221.2" y="47" font-size="6.4" text-anchor="middle" font-weight="bold" fill="#111">O</text>
<rect x="220.1" y="65.2" width="4.6" height="6" fill="#e4f4f2" />
<text x="222.4" y="70.5" font-size="6.4" text-anchor="middle" font-weight="bold" fill="#2a9a8a">N</text>
<text x="219.3" y="64.2" font-size="6.5" text-anchor="middle" font-weight="bold" fill="#2a9a8a">+</text>
<line x1="207" y1="68.2" x2="220" y2="68.2" stroke="#333" stroke-width="0.8" />
<rect x="204.7" y="65.2" width="4.6" height="6" fill="#e4f4f2" />
<text x="207" y="70.5" font-size="6.4" text-anchor="middle" font-weight="bold" fill="#111">H</text>
<rect x="240.3" y="54" width="4.6" height="6" fill="#e4f4f2" />
<text x="242.6" y="59.3" font-size="6.4" text-anchor="middle" font-weight="bold" fill="#111">N</text>
<rect x="240.3" y="47.6" width="4.6" height="6" fill="#e4f4f2" />
<text x="242.6" y="52.9" font-size="6.4" text-anchor="middle" font-weight="bold" fill="#111">H</text>
<line x1="229.5" y1="79.63" x2="223.2" y2="91" stroke="#333" stroke-width="0.8" />
<line x1="208" y1="91.4" x2="223.2" y2="91.4" stroke="#333" stroke-width="0.8" />
<line x1="223.2" y1="91.4" x2="230.8" y2="102.5" stroke="#333" stroke-width="0.8" />
<rect x="220.9" y="88.4" width="4.6" height="6" fill="#e4f4f2" />
<text x="223.2" y="93.7" font-size="6.4" text-anchor="middle" font-weight="bold" fill="#111">N</text>
<rect x="205.7" y="88.4" width="4.6" height="6" fill="#e4f4f2" />
<text x="208" y="93.7" font-size="6.4" text-anchor="middle" font-weight="bold" fill="#111">H</text>
<rect x="228.9" y="100.3" width="4.6" height="6" fill="#e4f4f2" />
<text x="231.2" y="105.6" font-size="6.4" text-anchor="middle" font-weight="bold" fill="#111">H</text>
<line x1="206.5" y1="44.6" x2="218.5" y2="44.6" stroke="#e05050" stroke-width="0.8" stroke-dasharray="1.3 0.9"/>
<line x1="193.2" y1="68.3" x2="204.5" y2="68.3" stroke="#e05050" stroke-width="0.8" stroke-dasharray="1.3 0.9"/>
<line x1="192.8" y1="91.4" x2="205.3" y2="91.4" stroke="#e05050" stroke-width="0.8" stroke-dasharray="1.3 0.9"/>
<line x1="254.5" y1="68.6" x2="274.5" y2="68.6" stroke="#111" stroke-width="0.9" />
<path d="M253,68.6 L256.5,66.9 L256.5,70.3Z" fill="#111" />
<path d="M276,68.6 L272.5,66.9 L272.5,70.3Z" fill="#111" />
<line x1="298.7" y1="57.77" x2="306.2" y2="46.5" stroke="#333" stroke-width="0.8" />
<line x1="306.2" y1="45.6" x2="320.7" y2="45.6" stroke="#333" stroke-width="0.8" />
<line x1="306.2" y1="45.6" x2="299.4" y2="34.5" stroke="#333" stroke-width="0.8" />
<rect x="303.9" y="42.6" width="4.6" height="6" fill="#e4f4f2" />
<text x="306.2" y="47.9" font-size="6.4" text-anchor="middle" font-weight="bold" fill="#111">N</text>
<rect x="318.4" y="42.6" width="4.6" height="6" fill="#e4f4f2" />
<text x="320.7" y="47.9" font-size="6.4" text-anchor="middle" font-weight="bold" fill="#111">H</text>
<rect x="296.7" y="30.3" width="4.6" height="6" fill="#e4f4f2" />
<text x="299" y="35.6" font-size="6.4" text-anchor="middle" font-weight="bold" fill="#111">H</text>
<rect x="305.3" y="66.5" width="4.6" height="6" fill="#e4f4f2" />
<text x="307.6" y="71.8" font-size="6.4" text-anchor="middle" font-weight="bold" fill="#2a9a8a">N</text>
<text x="311.6" y="65.6" font-size="6.5" text-anchor="middle" font-weight="bold" fill="#2a9a8a">+</text>
<line x1="310" y1="69.5" x2="323.5" y2="69.5" stroke="#333" stroke-width="0.8" />
<rect x="321.3" y="66.5" width="4.6" height="6" fill="#e4f4f2" />
<text x="323.6" y="71.8" font-size="6.4" text-anchor="middle" font-weight="bold" fill="#111">H</text>
<line x1="298.7" y1="80.63" x2="307.3" y2="92.2" stroke="#333" stroke-width="0.8" />
<line x1="300.2" y1="79.83" x2="308.8" y2="91.4" stroke="#333" stroke-width="0.8" />
<rect x="305" y="89.5" width="4.6" height="6" fill="#e4f4f2" />
<text x="307.3" y="94.8" font-size="6.4" text-anchor="middle" font-weight="bold" fill="#111">O</text>
<rect x="283.3" y="77.6" width="4.6" height="6" fill="#e4f4f2" />
<text x="285.6" y="82.9" font-size="6.4" text-anchor="middle" font-weight="bold" fill="#111">N</text>
<rect x="283.3" y="83" width="4.6" height="6" fill="#e4f4f2" />
<text x="285.6" y="88.3" font-size="6.4" text-anchor="middle" font-weight="bold" fill="#111">H</text>
<line x1="346.9" y1="58.07" x2="337.7" y2="46.3" stroke="#333" stroke-width="0.8" />
<line x1="345.4" y1="58.67" x2="336.2" y2="47.2" stroke="#333" stroke-width="0.8" />
<rect x="335.4" y="42.8" width="4.6" height="6" fill="#e4f4f2" />
<text x="337.7" y="48.1" font-size="6.4" text-anchor="middle" font-weight="bold" fill="#111">O</text>
<rect x="338.1" y="66.5" width="4.6" height="6" fill="#e4f4f2" />
<text x="340.4" y="71.8" font-size="6.4" text-anchor="middle" font-weight="bold" fill="#111">N</text>
<rect x="358.4" y="54.5" width="4.6" height="6" fill="#e4f4f2" />
<text x="360.7" y="59.8" font-size="6.4" text-anchor="middle" font-weight="bold" fill="#111">N</text>
<rect x="358.4" y="48.1" width="4.6" height="6" fill="#e4f4f2" />
<text x="360.7" y="53.4" font-size="6.4" text-anchor="middle" font-weight="bold" fill="#111">H</text>
<line x1="346.9" y1="80.93" x2="340.3" y2="92" stroke="#333" stroke-width="0.8" />
<line x1="325.7" y1="92.5" x2="340.3" y2="92.5" stroke="#333" stroke-width="0.8" />
<line x1="340.3" y1="92.5" x2="347.8" y2="103.6" stroke="#333" stroke-width="0.8" />
<rect x="338" y="89.5" width="4.6" height="6" fill="#e4f4f2" />
<text x="340.3" y="94.8" font-size="6.4" text-anchor="middle" font-weight="bold" fill="#111">N</text>
<rect x="323.4" y="89.5" width="4.6" height="6" fill="#e4f4f2" />
<text x="325.7" y="94.8" font-size="6.4" text-anchor="middle" font-weight="bold" fill="#111">H</text>
<rect x="345.8" y="101.4" width="4.6" height="6" fill="#e4f4f2" />
<text x="348.1" y="106.7" font-size="6.4" text-anchor="middle" font-weight="bold" fill="#111">H</text>
<line x1="323.5" y1="45.7" x2="335.2" y2="45.7" stroke="#e05050" stroke-width="0.8" stroke-dasharray="1.3 0.9"/>
<line x1="326.5" y1="69.5" x2="337.8" y2="69.5" stroke="#e05050" stroke-width="0.8" stroke-dasharray="1.3 0.9"/>
<line x1="310" y1="92.5" x2="323.2" y2="92.5" stroke="#e05050" stroke-width="0.8" stroke-dasharray="1.3 0.9"/>
<text x="8" y="136.8" font-size="14.5" font-weight="bold" fill="#000">B</text>
<line x1="33.5" y1="156.5" x2="33.5" y2="228.3" stroke="#444" stroke-width="0.7" />
<line x1="30.9" y1="228" x2="33.5" y2="228" stroke="#444" stroke-width="0.6" />
<line x1="32" y1="224.48" x2="33.5" y2="224.48" stroke="#444" stroke-width="0.6" />
<line x1="32" y1="220.96" x2="33.5" y2="220.96" stroke="#444" stroke-width="0.6" />
<line x1="32" y1="217.44" x2="33.5" y2="217.44" stroke="#444" stroke-width="0.6" />
<line x1="32" y1="213.92" x2="33.5" y2="213.92" stroke="#444" stroke-width="0.6" />
<line x1="30.9" y1="210.4" x2="33.5" y2="210.4" stroke="#444" stroke-width="0.6" />
<line x1="32" y1="206.88" x2="33.5" y2="206.88" stroke="#444" stroke-width="0.6" />
<line x1="32" y1="203.36" x2="33.5" y2="203.36" stroke="#444" stroke-width="0.6" />
<line x1="32" y1="199.84" x2="33.5" y2="199.84" stroke="#444" stroke-width="0.6" />
<line x1="32" y1="196.32" x2="33.5" y2="196.32" stroke="#444" stroke-width="0.6" />
<line x1="30.9" y1="192.8" x2="33.5" y2="192.8" stroke="#444" stroke-width="0.6" />
<line x1="32" y1="189.28" x2="33.5" y2="189.28" stroke="#444" stroke-width="0.6" />
<line x1="32" y1="185.76" x2="33.5" y2="185.76" stroke="#444" stroke-width="0.6" />
<line x1="32" y1="182.24" x2="33.5" y2="182.24" stroke="#444" stroke-width="0.6" />
<line x1="32" y1="178.72" x2="33.5" y2="178.72" stroke="#444" stroke-width="0.6" />
<line x1="30.9" y1="175.2" x2="33.5" y2="175.2" stroke="#444" stroke-width="0.6" />
<line x1="32" y1="171.68" x2="33.5" y2="171.68" stroke="#444" stroke-width="0.6" />
<line x1="32" y1="168.16" x2="33.5" y2="168.16" stroke="#444" stroke-width="0.6" />
<line x1="32" y1="164.64" x2="33.5" y2="164.64" stroke="#444" stroke-width="0.6" />
<line x1="32" y1="161.12" x2="33.5" y2="161.12" stroke="#444" stroke-width="0.6" />
<line x1="30.9" y1="157.6" x2="33.5" y2="157.6" stroke="#444" stroke-width="0.6" />
<text x="29.8" y="229.6" font-size="9.2" text-anchor="end" fill="#151515">0</text>
<text x="29.8" y="212" font-size="9.2" text-anchor="end" fill="#151515">0.5</text>
<text x="29.8" y="194.4" font-size="9.2" text-anchor="end" fill="#151515">1.0</text>
<text x="29.8" y="176.8" font-size="9.2" text-anchor="end" fill="#151515">1.5</text>
<text x="29.8" y="159.2" font-size="9.2" text-anchor="end" fill="#151515">2.0</text>
<text x="9.3" y="191.2" font-size="9.8" text-anchor="middle" fill="#151515" transform="rotate(-90 9.3 191.2)">bits</text>
<text x="105.4" y="162.3" font-size="10.2" fill="#151515"><tspan font-style="italic">E</tspan>-value 2.1 x 10<tspan font-size="6.4" dy="-4.3">-06</tspan></text>
<text transform="matrix(0.1580 0 0 0.0581 36.01 228.00)" font-size="100" font-weight="bold" fill="#24994a">A</text>
<text transform="matrix(0.1571 0 0 0.7232 35.76 223.29)" font-size="100" font-weight="bold" fill="#eea73a">G</text>
<text transform="matrix(0.1580 0 0 0.0436 48.21 228.00)" font-size="100" font-weight="bold" fill="#24994a">A</text>
<text transform="matrix(0.1800 0 0 0.0523 48.40 225.00)" font-size="100" font-weight="bold" fill="#e03030">T</text>
<text transform="matrix(0.1621 0 0 0.5028 47.94 220.91)" font-size="100" font-weight="bold" fill="#3fae9e">C</text>
<text transform="matrix(0.1580 0 0 0.0436 60.41 228.00)" font-size="100" font-weight="bold" fill="#24994a">A</text>
<text transform="matrix(0.1800 0 0 0.0698 60.60 225.00)" font-size="100" font-weight="bold" fill="#e03030">T</text>
<text transform="matrix(0.1621 0 0 0.4040 60.14 219.81)" font-size="100" font-weight="bold" fill="#3fae9e">C</text>
<text transform="matrix(0.1580 0 0 0.0654 72.41 228.00)" font-size="100" font-weight="bold" fill="#24994a">A</text>
<text transform="matrix(0.1571 0 0 0.6610 72.16 222.85)" font-size="100" font-weight="bold" fill="#eea73a">G</text>
<text transform="matrix(0.1580 0 0 0.0291 84.81 228.00)" font-size="100" font-weight="bold" fill="#24994a">A</text>
<text transform="matrix(0.1800 0 0 0.0494 85.00 226.00)" font-size="100" font-weight="bold" fill="#e03030">T</text>
<text transform="matrix(0.1621 0 0 0.6299 84.54 221.98)" font-size="100" font-weight="bold" fill="#3fae9e">C</text>
<text transform="matrix(0.1571 0 0 0.0254 96.36 227.98)" font-size="100" font-weight="bold" fill="#eea73a">G</text>
<text transform="matrix(0.1580 0 0 0.0174 96.61 226.20)" font-size="100" font-weight="bold" fill="#24994a">A</text>
<text transform="matrix(0.1800 0 0 0.0654 96.80 225.00)" font-size="100" font-weight="bold" fill="#e03030">T</text>
<text transform="matrix(0.1621 0 0 0.1624 96.34 220.34)" font-size="100" font-weight="bold" fill="#3fae9e">C</text>
<text transform="matrix(0.1580 0 0 0.1265 108.71 228.00)" font-size="100" font-weight="bold" fill="#24994a">A</text>
<text transform="matrix(0.1571 0 0 0.4633 108.46 218.85)" font-size="100" font-weight="bold" fill="#eea73a">G</text>
<text transform="matrix(0.1580 0 0 0.0349 121.61 228.00)" font-size="100" font-weight="bold" fill="#24994a">A</text>
<text transform="matrix(0.1800 0 0 0.0814 121.80 225.60)" font-size="100" font-weight="bold" fill="#e03030">T</text>
<text transform="matrix(0.1621 0 0 0.5367 121.34 219.48)" font-size="100" font-weight="bold" fill="#3fae9e">C</text>
<text transform="matrix(0.1580 0 0 0.0218 133.31 228.00)" font-size="100" font-weight="bold" fill="#24994a">A</text>
<text transform="matrix(0.1571 0 0 0.0353 133.06 226.47)" font-size="100" font-weight="bold" fill="#eea73a">G</text>
<text transform="matrix(0.1800 0 0 0.0625 133.50 224.00)" font-size="100" font-weight="bold" fill="#e03030">T</text>
<text transform="matrix(0.1621 0 0 0.1935 133.04 219.51)" font-size="100" font-weight="bold" fill="#3fae9e">C</text>
<text transform="matrix(0.1621 0 0 0.0282 145.14 227.97)" font-size="100" font-weight="bold" fill="#3fae9e">C</text>
<text transform="matrix(0.1580 0 0 0.0291 145.41 226.00)" font-size="100" font-weight="bold" fill="#24994a">A</text>
<text transform="matrix(0.1800 0 0 0.0378 145.60 224.00)" font-size="100" font-weight="bold" fill="#e03030">T</text>
<text transform="matrix(0.1571 0 0 0.1469 145.16 221.26)" font-size="100" font-weight="bold" fill="#eea73a">G</text>
<text transform="matrix(0.1580 0 0 0.0291 157.71 228.00)" font-size="100" font-weight="bold" fill="#24994a">A</text>
<text transform="matrix(0.1800 0 0 0.0669 157.90 226.00)" font-size="100" font-weight="bold" fill="#e03030">T</text>
<text transform="matrix(0.1621 0 0 0.5763 157.44 220.84)" font-size="100" font-weight="bold" fill="#3fae9e">C</text>
<text transform="matrix(0.1580 0 0 0.0363 169.91 228.00)" font-size="100" font-weight="bold" fill="#24994a">A</text>
<text transform="matrix(0.1800 0 0 0.0901 170.10 225.50)" font-size="100" font-weight="bold" fill="#e03030">T</text>
<text transform="matrix(0.1621 0 0 0.3150 169.64 218.99)" font-size="100" font-weight="bold" fill="#3fae9e">C</text>
<text x="104.5" y="242.8" font-size="11.2" text-anchor="middle" fill="#111">K562</text>
<line x1="225.5" y1="170.5" x2="225.5" y2="227.3" stroke="#444" stroke-width="0.7" />
<line x1="222.9" y1="227" x2="225.5" y2="227" stroke="#444" stroke-width="0.6" />
<line x1="224" y1="223.47" x2="225.5" y2="223.47" stroke="#444" stroke-width="0.6" />
<line x1="224" y1="219.94" x2="225.5" y2="219.94" stroke="#444" stroke-width="0.6" />
<line x1="224" y1="216.41" x2="225.5" y2="216.41" stroke="#444" stroke-width="0.6" />
<line x1="224" y1="212.88" x2="225.5" y2="212.88" stroke="#444" stroke-width="0.6" />
<line x1="222.9" y1="209.35" x2="225.5" y2="209.35" stroke="#444" stroke-width="0.6" />
<line x1="224" y1="205.82" x2="225.5" y2="205.82" stroke="#444" stroke-width="0.6" />
<line x1="224" y1="202.29" x2="225.5" y2="202.29" stroke="#444" stroke-width="0.6" />
<line x1="224" y1="198.76" x2="225.5" y2="198.76" stroke="#444" stroke-width="0.6" />
<line x1="224" y1="195.23" x2="225.5" y2="195.23" stroke="#444" stroke-width="0.6" />
<line x1="222.9" y1="191.7" x2="225.5" y2="191.7" stroke="#444" stroke-width="0.6" />
<line x1="224" y1="188.17" x2="225.5" y2="188.17" stroke="#444" stroke-width="0.6" />
<line x1="224" y1="184.64" x2="225.5" y2="184.64" stroke="#444" stroke-width="0.6" />
<line x1="224" y1="181.11" x2="225.5" y2="181.11" stroke="#444" stroke-width="0.6" />
<line x1="224" y1="177.58" x2="225.5" y2="177.58" stroke="#444" stroke-width="0.6" />
<line x1="222.9" y1="174.05" x2="225.5" y2="174.05" stroke="#444" stroke-width="0.6" />
<line x1="224" y1="170.52" x2="225.5" y2="170.52" stroke="#444" stroke-width="0.6" />
<text x="221.8" y="228.6" font-size="9.2" text-anchor="end" fill="#151515">0</text>
<text x="221.8" y="210.95" font-size="9.2" text-anchor="end" fill="#151515">0.5</text>
<text x="221.8" y="193.3" font-size="9.2" text-anchor="end" fill="#151515">1.0</text>
<text x="221.8" y="175.65" font-size="9.2" text-anchor="end" fill="#151515">1.5</text>
<text x="298.7" y="161.8" font-size="10.2" fill="#151515"><tspan font-style="italic">E</tspan>-value 3.6 x 10<tspan font-size="6.4" dy="-4.3">-06</tspan></text>
<g clip-path="url(#clipL)">
<text transform="matrix(0.1334 0 0 0.0212 228.75 226.98)" font-size="100" font-weight="bold" fill="#eea73a">G</text>
<text transform="matrix(0.1528 0 0 0.0218 229.13 225.50)" font-size="100" font-weight="bold" fill="#e03030">T</text>
<text transform="matrix(0.1341 0 0 0.0770 228.97 224.00)" font-size="100" font-weight="bold" fill="#24994a">A</text>
<text transform="matrix(0.1377 0 0 0.3672 228.74 218.34)" font-size="100" font-weight="bold" fill="#3fae9e">C</text>
<text transform="matrix(0.1334 0 0 0.0212 239.39 226.98)" font-size="100" font-weight="bold" fill="#eea73a">G</text>
<text transform="matrix(0.1528 0 0 0.0291 239.77 225.50)" font-size="100" font-weight="bold" fill="#e03030">T</text>
<text transform="matrix(0.1341 0 0 0.1526 239.61 223.50)" font-size="100" font-weight="bold" fill="#24994a">A</text>
<text transform="matrix(0.1377 0 0 0.2966 239.38 212.71)" font-size="100" font-weight="bold" fill="#3fae9e">C</text>
<text transform="matrix(0.1334 0 0 0.0480 250.03 226.95)" font-size="100" font-weight="bold" fill="#eea73a">G</text>
<text transform="matrix(0.1377 0 0 0.0932 250.02 223.51)" font-size="100" font-weight="bold" fill="#3fae9e">C</text>
<text transform="matrix(0.1341 0 0 0.1076 250.25 217.00)" font-size="100" font-weight="bold" fill="#24994a">A</text>
<text transform="matrix(0.1334 0 0 0.0141 260.67 226.99)" font-size="100" font-weight="bold" fill="#eea73a">G</text>
<text transform="matrix(0.1341 0 0 0.1599 260.89 226.00)" font-size="100" font-weight="bold" fill="#24994a">A</text>
<text transform="matrix(0.1377 0 0 0.3503 260.66 214.66)" font-size="100" font-weight="bold" fill="#3fae9e">C</text>
<text transform="matrix(0.1528 0 0 0.0291 271.69 227.00)" font-size="100" font-weight="bold" fill="#e03030">T</text>
<text transform="matrix(0.1341 0 0 0.0916 271.53 225.00)" font-size="100" font-weight="bold" fill="#24994a">A</text>
<text transform="matrix(0.1377 0 0 0.5000 271.30 218.21)" font-size="100" font-weight="bold" fill="#3fae9e">C</text>
<text transform="matrix(0.1334 0 0 0.0169 281.95 226.98)" font-size="100" font-weight="bold" fill="#eea73a">G</text>
<text transform="matrix(0.1528 0 0 0.0218 282.33 225.80)" font-size="100" font-weight="bold" fill="#e03030">T</text>
<text transform="matrix(0.1341 0 0 0.0814 282.17 224.30)" font-size="100" font-weight="bold" fill="#24994a">A</text>
<text transform="matrix(0.1377 0 0 0.4167 281.94 218.29)" font-size="100" font-weight="bold" fill="#3fae9e">C</text>
<text transform="matrix(0.1334 0 0 0.0424 292.59 226.96)" font-size="100" font-weight="bold" fill="#eea73a">G</text>
<text transform="matrix(0.1341 0 0 0.0727 292.81 224.00)" font-size="100" font-weight="bold" fill="#24994a">A</text>
<text transform="matrix(0.1377 0 0 0.1271 292.58 218.88)" font-size="100" font-weight="bold" fill="#3fae9e">C</text>
<text transform="matrix(0.1334 0 0 0.1412 303.23 226.86)" font-size="100" font-weight="bold" fill="#eea73a">G</text>
<text transform="matrix(0.1341 0 0 0.4709 303.45 217.00)" font-size="100" font-weight="bold" fill="#24994a">A</text>
<text transform="matrix(0.1334 0 0 0.0141 313.87 226.99)" font-size="100" font-weight="bold" fill="#eea73a">G</text>
<text transform="matrix(0.1341 0 0 0.0872 314.09 226.00)" font-size="100" font-weight="bold" fill="#24994a">A</text>
<text transform="matrix(0.1377 0 0 0.6045 313.86 219.41)" font-size="100" font-weight="bold" fill="#3fae9e">C</text>
<text transform="matrix(0.1334 0 0 0.0141 324.51 226.99)" font-size="100" font-weight="bold" fill="#eea73a">G</text>
<text transform="matrix(0.1341 0 0 0.0988 324.73 226.00)" font-size="100" font-weight="bold" fill="#24994a">A</text>
<text transform="matrix(0.1377 0 0 0.3319 324.50 218.88)" font-size="100" font-weight="bold" fill="#3fae9e">C</text>
<text transform="matrix(0.1528 0 0 0.0145 335.53 227.00)" font-size="100" font-weight="bold" fill="#e03030">T</text>
<text transform="matrix(0.1341 0 0 0.0770 335.37 226.00)" font-size="100" font-weight="bold" fill="#24994a">A</text>
<text transform="matrix(0.1377 0 0 0.6285 335.14 220.09)" font-size="100" font-weight="bold" fill="#3fae9e">C</text>
<text transform="matrix(0.1334 0 0 0.0169 345.79 226.98)" font-size="100" font-weight="bold" fill="#eea73a">G</text>
<text transform="matrix(0.1528 0 0 0.0203 346.17 225.80)" font-size="100" font-weight="bold" fill="#e03030">T</text>
<text transform="matrix(0.1341 0 0 0.1613 346.01 224.40)" font-size="100" font-weight="bold" fill="#24994a">A</text>
<text transform="matrix(0.1377 0 0 0.1879 345.78 213.12)" font-size="100" font-weight="bold" fill="#3fae9e">C</text>
<text transform="matrix(0.1334 0 0 0.0466 356.43 226.95)" font-size="100" font-weight="bold" fill="#eea73a">G</text>
<text transform="matrix(0.1377 0 0 0.0946 356.42 223.61)" font-size="100" font-weight="bold" fill="#3fae9e">C</text>
<text transform="matrix(0.1341 0 0 0.1076 356.65 217.00)" font-size="100" font-weight="bold" fill="#24994a">A</text>
<text transform="matrix(0.1334 0 0 0.0141 367.07 226.99)" font-size="100" font-weight="bold" fill="#eea73a">G</text>
<text transform="matrix(0.1341 0 0 0.1192 367.29 226.00)" font-size="100" font-weight="bold" fill="#24994a">A</text>
<text transform="matrix(0.1377 0 0 0.2302 367.06 217.58)" font-size="100" font-weight="bold" fill="#3fae9e">C</text>
<text transform="matrix(0.1528 0 0 0.0145 378.09 227.00)" font-size="100" font-weight="bold" fill="#e03030">T</text>
<text transform="matrix(0.1341 0 0 0.1192 377.93 226.00)" font-size="100" font-weight="bold" fill="#24994a">A</text>
<text transform="matrix(0.1377 0 0 0.3545 377.70 217.45)" font-size="100" font-weight="bold" fill="#3fae9e">C</text>
<text transform="matrix(0.1341 0 0 0.0116 388.57 227.00)" font-size="100" font-weight="bold" fill="#24994a">A</text>
<text transform="matrix(0.1528 0 0 0.0756 388.73 226.20)" font-size="100" font-weight="bold" fill="#e03030">T</text>
<text transform="matrix(0.1334 0 0 0.0480 388.35 220.95)" font-size="100" font-weight="bold" fill="#eea73a">G</text>
<text transform="matrix(0.1334 0 0 0.0071 396.85 226.99)" font-size="100" font-weight="bold" fill="#eea73a">G</text>
<text transform="matrix(0.1341 0 0 0.0189 397.07 226.50)" font-size="100" font-weight="bold" fill="#24994a">A</text>
<text transform="matrix(0.1377 0 0 0.0367 396.84 225.16)" font-size="100" font-weight="bold" fill="#3fae9e">C</text>
</g>
<text x="306" y="242.8" font-size="11.2" text-anchor="middle" fill="#111">HepG2</text>
<text x="392.9" y="12.6" font-size="14.5" font-weight="bold" fill="#000">C</text>
<rect x="437.3" y="8.5" width="85.7" height="72.7" fill="none" stroke="#555" stroke-width="0.8" />
<line x1="435.5" y1="9.6" x2="437.3" y2="9.6" stroke="#555" stroke-width="0.7" />
<text x="432.1" y="12.7" font-size="8.8" text-anchor="end" fill="#151515">3.0</text>
<line x1="435.5" y1="36" x2="437.3" y2="36" stroke="#555" stroke-width="0.7" />
<text x="432.1" y="39.1" font-size="8.8" text-anchor="end" fill="#151515">2.0</text>
<line x1="435.5" y1="62.4" x2="437.3" y2="62.4" stroke="#555" stroke-width="0.7" />
<text x="432.1" y="65.5" font-size="8.8" text-anchor="end" fill="#151515">1.0</text>
<line x1="435.8" y1="22.8" x2="437.3" y2="22.8" stroke="#555" stroke-width="0.6" />
<line x1="435.8" y1="49.2" x2="437.3" y2="49.2" stroke="#555" stroke-width="0.6" />
<line x1="435.8" y1="75.6" x2="437.3" y2="75.6" stroke="#555" stroke-width="0.6" />
<line x1="480" y1="81.2" x2="480" y2="79.2" stroke="#555" stroke-width="0.7" />
<path d="M437.5,77.2 L450,76.2 L460.5,74.6 L466,72.8 L470.6,70.6 L471.8,68.6 L473,71.8 L474.6,71 L476.2,60.5 L478.6,58.5 L480.6,48.4 L483,47.4 L484.3,48 L486.3,11.7 L487.7,26.2 L489.7,59.5 L494.8,63.5 L496.4,64.1 L498.8,75.6 L501.2,70.2 L508.9,73.6 L516,75.5 L522.8,76.6" fill="none" stroke="#3b3f98" stroke-width="0.9" stroke-linejoin="round"/>
<text x="443.3" y="21.2" font-size="10.8" fill="#151515">K562</text>
<rect x="541.9" y="8.7" width="85.7" height="72.7" fill="none" stroke="#555" stroke-width="0.8" />
<line x1="540.1" y1="9.8" x2="541.9" y2="9.8" stroke="#555" stroke-width="0.7" />
<text x="539.2" y="12.9" font-size="8.8" text-anchor="end" fill="#151515">4.0</text>
<line x1="540.1" y1="30.3" x2="541.9" y2="30.3" stroke="#555" stroke-width="0.7" />
<text x="539.2" y="33.4" font-size="8.8" text-anchor="end" fill="#151515">3.0</text>
<line x1="540.1" y1="50.8" x2="541.9" y2="50.8" stroke="#555" stroke-width="0.7" />
<text x="539.2" y="53.9" font-size="8.8" text-anchor="end" fill="#151515">2.0</text>
<line x1="540.1" y1="71.3" x2="541.9" y2="71.3" stroke="#555" stroke-width="0.7" />
<text x="539.2" y="74.4" font-size="8.8" text-anchor="end" fill="#151515">1.0</text>
<line x1="540.4" y1="20.05" x2="541.9" y2="20.05" stroke="#555" stroke-width="0.6" />
<line x1="540.4" y1="40.55" x2="541.9" y2="40.55" stroke="#555" stroke-width="0.6" />
<line x1="540.4" y1="61.05" x2="541.9" y2="61.05" stroke="#555" stroke-width="0.6" />
<line x1="584.7" y1="81.4" x2="584.7" y2="79.4" stroke="#555" stroke-width="0.7" />
<path d="M542.1,77.5 L550,76.7 L558.8,75.6 L567,73.7 L575.2,71.7 L576.6,68.8 L579.1,75.2 L581.6,61 L584,55.2 L585.5,50 L586.9,51.4 L590.2,11.2 L592.1,38.8 L593.6,62 L597.1,63.6 L598.5,62 L601.4,77.5 L603.7,70.7 L613,74.6 L620,76 L627.4,77.1" fill="none" stroke="#3b3f98" stroke-width="0.9" stroke-linejoin="round"/>
<text x="547.1" y="21.7" font-size="10.8" fill="#151515">HepG2</text>
<text x="406.3" y="41.3" font-size="9.1" text-anchor="middle" fill="#151515" transform="rotate(-90 406.3 41.3)">Normalized</text>
<text x="418" y="41" font-size="8.8" text-anchor="middle" fill="#151515" transform="rotate(-90 418 41)">read counts</text>
<rect x="437.3" y="85.4" width="85.4" height="2.69" fill="url(#gk0)"/>
<rect x="437.3" y="87.39" width="85.4" height="2.69" fill="url(#gk1)"/>
<rect x="437.3" y="89.38" width="85.4" height="2.69" fill="url(#gk2)"/>
<rect x="437.3" y="91.38" width="85.4" height="2.69" fill="url(#gk3)"/>
<rect x="437.3" y="93.37" width="85.4" height="2.69" fill="url(#gk4)"/>
<rect x="437.3" y="95.36" width="85.4" height="2.69" fill="url(#gk5)"/>
<rect x="437.3" y="97.35" width="85.4" height="2.69" fill="url(#gk6)"/>
<rect x="437.3" y="99.34" width="85.4" height="2.69" fill="url(#gk7)"/>
<rect x="437.3" y="101.33" width="85.4" height="2.69" fill="url(#gk8)"/>
<rect x="437.3" y="103.33" width="85.4" height="2.69" fill="url(#gk9)"/>
<rect x="437.3" y="105.32" width="85.4" height="2.69" fill="url(#gk10)"/>
<rect x="437.3" y="107.31" width="85.4" height="2.69" fill="url(#gk11)"/>
<rect x="437.3" y="109.3" width="85.4" height="2.69" fill="url(#gk12)"/>
<rect x="437.3" y="111.29" width="85.4" height="2.69" fill="url(#gk13)"/>
<rect x="437.3" y="113.28" width="85.4" height="2.69" fill="url(#gk14)"/>
<rect x="437.3" y="115.28" width="85.4" height="2.69" fill="url(#gk15)"/>
<rect x="437.3" y="117.27" width="85.4" height="2.69" fill="url(#gk16)"/>
<rect x="437.3" y="119.26" width="85.4" height="2.69" fill="url(#gk17)"/>
<rect x="437.3" y="121.25" width="85.4" height="2.69" fill="url(#gk18)"/>
<rect x="437.3" y="123.24" width="85.4" height="2.69" fill="url(#gk19)"/>
<rect x="437.3" y="125.24" width="85.4" height="2.69" fill="url(#gk20)"/>
<rect x="437.3" y="127.23" width="85.4" height="2.69" fill="url(#gk21)"/>
<rect x="437.3" y="129.22" width="85.4" height="2.69" fill="url(#gk22)"/>
<rect x="437.3" y="131.21" width="85.4" height="2.69" fill="url(#gk23)"/>
<rect x="437.3" y="133.2" width="85.4" height="2.69" fill="url(#gk24)"/>
<rect x="437.3" y="135.19" width="85.4" height="2.69" fill="url(#gk25)"/>
<rect x="437.3" y="137.19" width="85.4" height="2.69" fill="url(#gk26)"/>
<rect x="437.3" y="139.18" width="85.4" height="2.69" fill="url(#gk27)"/>
<rect x="437.3" y="141.17" width="85.4" height="2.69" fill="url(#gk28)"/>
<rect x="437.3" y="143.16" width="85.4" height="2.69" fill="url(#gk29)"/>
<rect x="437.3" y="145.15" width="85.4" height="2.69" fill="url(#gk30)"/>
<rect x="437.3" y="147.15" width="85.4" height="2.69" fill="url(#gk31)"/>
<rect x="437.3" y="149.14" width="85.4" height="2.69" fill="url(#gk32)"/>
<rect x="437.3" y="151.13" width="85.4" height="2.69" fill="url(#gk33)"/>
<rect x="437.3" y="153.12" width="85.4" height="2.69" fill="url(#gk34)"/>
<rect x="437.3" y="155.11" width="85.4" height="2.69" fill="url(#gk35)"/>
<rect x="437.3" y="157.1" width="85.4" height="2.69" fill="url(#gk36)"/>
<rect x="437.3" y="159.1" width="85.4" height="2.69" fill="url(#gk37)"/>
<rect x="437.3" y="161.09" width="85.4" height="2.69" fill="url(#gk38)"/>
<rect x="437.3" y="163.08" width="85.4" height="2.69" fill="url(#gk39)"/>
<rect x="437.3" y="165.07" width="85.4" height="2.69" fill="url(#gk40)"/>
<rect x="437.3" y="167.06" width="85.4" height="2.69" fill="url(#gk41)"/>
<rect x="437.3" y="169.05" width="85.4" height="2.69" fill="url(#gk42)"/>
<rect x="437.3" y="171.05" width="85.4" height="2.69" fill="url(#gk43)"/>
<rect x="437.3" y="173.04" width="85.4" height="2.69" fill="url(#gk44)"/>
<rect x="437.3" y="175.03" width="85.4" height="2.69" fill="url(#gk45)"/>
<rect x="437.3" y="177.02" width="85.4" height="2.69" fill="url(#gk46)"/>
<rect x="437.3" y="179.01" width="85.4" height="2.69" fill="url(#gk47)"/>
<rect x="437.3" y="181.01" width="85.4" height="2.69" fill="url(#gk48)"/>
<rect x="437.3" y="183" width="85.4" height="2.69" fill="url(#gk49)"/>
<rect x="437.3" y="184.99" width="85.4" height="2.69" fill="url(#gk50)"/>
<rect x="437.3" y="186.98" width="85.4" height="2.69" fill="url(#gk51)"/>
<rect x="437.3" y="188.97" width="85.4" height="2.69" fill="url(#gk52)"/>
<rect x="437.3" y="190.96" width="85.4" height="2.69" fill="url(#gk53)"/>
<rect x="437.3" y="192.96" width="85.4" height="2.69" fill="url(#gk54)"/>
<rect x="437.3" y="194.95" width="85.4" height="2.69" fill="url(#gk55)"/>
<rect x="437.3" y="196.94" width="85.4" height="2.69" fill="url(#gk56)"/>
<rect x="437.3" y="198.93" width="85.4" height="2.69" fill="url(#gk57)"/>
<rect x="437.3" y="200.92" width="85.4" height="2.69" fill="url(#gk58)"/>
<rect x="437.3" y="202.92" width="85.4" height="2.69" fill="url(#gk59)"/>
<rect x="437.3" y="204.91" width="85.4" height="2.69" fill="url(#gk60)"/>
<rect x="437.3" y="206.9" width="85.4" height="2.69" fill="url(#gk61)"/>
<rect x="437.3" y="208.89" width="85.4" height="2.69" fill="url(#gk62)"/>
<rect x="437.3" y="210.88" width="85.4" height="2.69" fill="url(#gk63)"/>
<rect x="437.3" y="212.87" width="85.4" height="2.69" fill="url(#gk64)"/>
<rect x="437.3" y="214.87" width="85.4" height="2.69" fill="url(#gk65)"/>
<rect x="437.3" y="216.86" width="85.4" height="2.69" fill="url(#gk66)"/>
<rect x="437.3" y="218.85" width="85.4" height="2.69" fill="url(#gk67)"/>
<rect x="437.3" y="220.84" width="85.4" height="2.69" fill="url(#gk68)"/>
<rect x="437.3" y="222.83" width="85.4" height="2.69" fill="url(#gk69)"/>
<rect x="437.3" y="224.82" width="85.4" height="2.69" fill="url(#gk70)"/>
<rect x="437.3" y="226.82" width="85.4" height="2.69" fill="url(#gk71)"/>
<rect x="437.3" y="228.81" width="85.4" height="1.99" fill="url(#gk72)"/>
<rect x="438.5" y="87.68" width="36.5" height="0.85" fill="#ecf070" opacity="0.9"/>
<rect x="492" y="87.68" width="30" height="0.85" fill="#ecf070" opacity="0.9"/>
<rect x="489" y="92.78" width="33" height="0.85" fill="#ecf070" opacity="0.9"/>
<rect x="495" y="95.88" width="27" height="0.85" fill="#ecf070" opacity="0.9"/>
<rect x="438.5" y="98.18" width="41.1" height="0.85" fill="#ecf070" opacity="0.9"/>
<rect x="438.5" y="112.88" width="16.3" height="0.85" fill="#ecf070" opacity="0.9"/>
<rect x="489" y="115.98" width="33" height="0.85" fill="#ecf070" opacity="0.9"/>
<rect x="437.8" y="120.18" width="3.8" height="0.85" fill="#ecf070" opacity="0.9"/>
<rect x="438.5" y="124.28" width="41.1" height="0.85" fill="#ecf070" opacity="0.9"/>
<rect x="493.6" y="124.28" width="28.4" height="0.85" fill="#ecf070" opacity="0.9"/>
<rect x="491" y="134.58" width="31" height="0.85" fill="#ecf070" opacity="0.9"/>
<rect x="497.4" y="140.08" width="24.6" height="0.85" fill="#ecf070" opacity="0.9"/>
<rect x="501" y="143.18" width="21" height="0.85" fill="#ecf070" opacity="0.9"/>
<rect x="438.5" y="152.78" width="26.5" height="0.85" fill="#ecf070" opacity="0.9"/>
<rect x="438.5" y="154.78" width="21" height="0.85" fill="#ecf070" opacity="0.9"/>
<rect x="494.7" y="162.58" width="25.7" height="0.85" fill="#ecf070" opacity="0.9"/>
<rect x="488.8" y="206.08" width="31.6" height="0.85" fill="#ecf070" opacity="0.9"/>
<rect x="437.3" y="85.4" width="85.4" height="145.4" fill="none" stroke="#444" stroke-width="0.8" />
<rect x="541.9" y="85.9" width="85.7" height="2.71" fill="url(#gh0)"/>
<rect x="541.9" y="87.91" width="85.7" height="2.71" fill="url(#gh1)"/>
<rect x="541.9" y="89.92" width="85.7" height="2.71" fill="url(#gh2)"/>
<rect x="541.9" y="91.93" width="85.7" height="2.71" fill="url(#gh3)"/>
<rect x="541.9" y="93.94" width="85.7" height="2.71" fill="url(#gh4)"/>
<rect x="541.9" y="95.95" width="85.7" height="2.71" fill="url(#gh5)"/>
<rect x="541.9" y="97.96" width="85.7" height="2.71" fill="url(#gh6)"/>
<rect x="541.9" y="99.97" width="85.7" height="2.71" fill="url(#gh7)"/>
<rect x="541.9" y="101.98" width="85.7" height="2.71" fill="url(#gh8)"/>
<rect x="541.9" y="103.99" width="85.7" height="2.71" fill="url(#gh9)"/>
<rect x="541.9" y="106" width="85.7" height="2.71" fill="url(#gh10)"/>
<rect x="541.9" y="108.01" width="85.7" height="2.71" fill="url(#gh11)"/>
<rect x="541.9" y="110.02" width="85.7" height="2.71" fill="url(#gh12)"/>
<rect x="541.9" y="112.03" width="85.7" height="2.71" fill="url(#gh13)"/>
<rect x="541.9" y="114.04" width="85.7" height="2.71" fill="url(#gh14)"/>
<rect x="541.9" y="116.05" width="85.7" height="2.71" fill="url(#gh15)"/>
<rect x="541.9" y="118.06" width="85.7" height="2.71" fill="url(#gh16)"/>
<rect x="541.9" y="120.07" width="85.7" height="2.71" fill="url(#gh17)"/>
<rect x="541.9" y="122.08" width="85.7" height="2.71" fill="url(#gh18)"/>
<rect x="541.9" y="124.08" width="85.7" height="2.71" fill="url(#gh19)"/>
<rect x="541.9" y="126.09" width="85.7" height="2.71" fill="url(#gh20)"/>
<rect x="541.9" y="128.1" width="85.7" height="2.71" fill="url(#gh21)"/>
<rect x="541.9" y="130.11" width="85.7" height="2.71" fill="url(#gh22)"/>
<rect x="541.9" y="132.12" width="85.7" height="2.71" fill="url(#gh23)"/>
<rect x="541.9" y="134.13" width="85.7" height="2.71" fill="url(#gh24)"/>
<rect x="541.9" y="136.14" width="85.7" height="2.71" fill="url(#gh25)"/>
<rect x="541.9" y="138.15" width="85.7" height="2.71" fill="url(#gh26)"/>
<rect x="541.9" y="140.16" width="85.7" height="2.71" fill="url(#gh27)"/>
<rect x="541.9" y="142.17" width="85.7" height="2.71" fill="url(#gh28)"/>
<rect x="541.9" y="144.18" width="85.7" height="2.71" fill="url(#gh29)"/>
<rect x="541.9" y="146.19" width="85.7" height="2.71" fill="url(#gh30)"/>
<rect x="541.9" y="148.2" width="85.7" height="2.71" fill="url(#gh31)"/>
<rect x="541.9" y="150.21" width="85.7" height="2.71" fill="url(#gh32)"/>
<rect x="541.9" y="152.22" width="85.7" height="2.71" fill="url(#gh33)"/>
<rect x="541.9" y="154.23" width="85.7" height="2.71" fill="url(#gh34)"/>
<rect x="541.9" y="156.24" width="85.7" height="2.71" fill="url(#gh35)"/>
<rect x="541.9" y="158.25" width="85.7" height="2.71" fill="url(#gh36)"/>
<rect x="541.9" y="160.26" width="85.7" height="2.71" fill="url(#gh37)"/>
<rect x="541.9" y="162.27" width="85.7" height="2.71" fill="url(#gh38)"/>
<rect x="541.9" y="164.28" width="85.7" height="2.71" fill="url(#gh39)"/>
<rect x="541.9" y="166.29" width="85.7" height="2.71" fill="url(#gh40)"/>
<rect x="541.9" y="168.3" width="85.7" height="2.71" fill="url(#gh41)"/>
<rect x="541.9" y="170.31" width="85.7" height="2.71" fill="url(#gh42)"/>
<rect x="541.9" y="172.32" width="85.7" height="2.71" fill="url(#gh43)"/>
<rect x="541.9" y="174.33" width="85.7" height="2.71" fill="url(#gh44)"/>
<rect x="541.9" y="176.34" width="85.7" height="2.71" fill="url(#gh45)"/>
<rect x="541.9" y="178.35" width="85.7" height="2.71" fill="url(#gh46)"/>
<rect x="541.9" y="180.36" width="85.7" height="2.71" fill="url(#gh47)"/>
<rect x="541.9" y="182.37" width="85.7" height="2.71" fill="url(#gh48)"/>
<rect x="541.9" y="184.38" width="85.7" height="2.71" fill="url(#gh49)"/>
<rect x="541.9" y="186.39" width="85.7" height="2.71" fill="url(#gh50)"/>
<rect x="541.9" y="188.4" width="85.7" height="2.71" fill="url(#gh51)"/>
<rect x="541.9" y="190.41" width="85.7" height="2.71" fill="url(#gh52)"/>
<rect x="541.9" y="192.42" width="85.7" height="2.71" fill="url(#gh53)"/>
<rect x="541.9" y="194.43" width="85.7" height="2.71" fill="url(#gh54)"/>
<rect x="541.9" y="196.43" width="85.7" height="2.71" fill="url(#gh55)"/>
<rect x="541.9" y="198.44" width="85.7" height="2.71" fill="url(#gh56)"/>
<rect x="541.9" y="200.45" width="85.7" height="2.71" fill="url(#gh57)"/>
<rect x="541.9" y="202.46" width="85.7" height="2.71" fill="url(#gh58)"/>
<rect x="541.9" y="204.47" width="85.7" height="2.71" fill="url(#gh59)"/>
<rect x="541.9" y="206.48" width="85.7" height="2.71" fill="url(#gh60)"/>
<rect x="541.9" y="208.49" width="85.7" height="2.71" fill="url(#gh61)"/>
<rect x="541.9" y="210.5" width="85.7" height="2.71" fill="url(#gh62)"/>
<rect x="541.9" y="212.51" width="85.7" height="2.71" fill="url(#gh63)"/>
<rect x="541.9" y="214.52" width="85.7" height="2.71" fill="url(#gh64)"/>
<rect x="541.9" y="216.53" width="85.7" height="2.71" fill="url(#gh65)"/>
<rect x="541.9" y="218.54" width="85.7" height="2.71" fill="url(#gh66)"/>
<rect x="541.9" y="220.55" width="85.7" height="2.71" fill="url(#gh67)"/>
<rect x="541.9" y="222.56" width="85.7" height="2.71" fill="url(#gh68)"/>
<rect x="541.9" y="224.57" width="85.7" height="2.71" fill="url(#gh69)"/>
<rect x="541.9" y="226.58" width="85.7" height="2.71" fill="url(#gh70)"/>
<rect x="541.9" y="228.59" width="85.7" height="2.01" fill="url(#gh71)"/>
<rect x="542.6" y="88.88" width="37.3" height="0.85" fill="#ecf070" opacity="0.9"/>
<rect x="592" y="88.88" width="35" height="0.85" fill="#ecf070" opacity="0.9"/>
<rect x="594.3" y="119.18" width="32.7" height="0.85" fill="#ecf070" opacity="0.9"/>
<rect x="601" y="127.78" width="26" height="0.85" fill="#ecf070" opacity="0.9"/>
<rect x="594.3" y="130.38" width="32.7" height="0.85" fill="#ecf070" opacity="0.9"/>
<rect x="542.6" y="140.08" width="2.4" height="0.85" fill="#ecf070" opacity="0.9"/>
<rect x="542.6" y="148.68" width="35.7" height="0.85" fill="#ecf070" opacity="0.9"/>
<rect x="594.3" y="148.68" width="32.7" height="0.85" fill="#ecf070" opacity="0.9"/>
<rect x="601" y="154.98" width="26" height="0.85" fill="#ecf070" opacity="0.9"/>
<rect x="594.3" y="160.88" width="32.7" height="0.85" fill="#ecf070" opacity="0.9"/>
<rect x="601" y="166.48" width="26" height="0.85" fill="#ecf070" opacity="0.9"/>
<rect x="544" y="167.28" width="27.8" height="0.85" fill="#ecf070" opacity="0.9"/>
<rect x="544" y="176.38" width="26" height="0.85" fill="#ecf070" opacity="0.9"/>
<rect x="615" y="176.48" width="12" height="0.85" fill="#ecf070" opacity="0.9"/>
<rect x="597.5" y="195.08" width="29.5" height="0.85" fill="#ecf070" opacity="0.9"/>
<rect x="606.5" y="203.88" width="20.5" height="0.85" fill="#ecf070" opacity="0.9"/>
<rect x="609.5" y="213.08" width="17.5" height="0.85" fill="#ecf070" opacity="0.9"/>
<rect x="544" y="223.88" width="16" height="0.85" fill="#ecf070" opacity="0.9"/>
<rect x="541.9" y="85.9" width="85.7" height="144.7" fill="none" stroke="#444" stroke-width="0.8" />
<rect x="631.3" y="85.8" width="4.6" height="143.6" fill="url(#cbar)" stroke="#888" stroke-width="0.4" />
<line x1="635.9" y1="208.05" x2="637.6" y2="208.05" stroke="#555" stroke-width="0.6" />
<text x="638.6" y="211.05" font-size="8.6" fill="#151515">1</text>
<line x1="635.9" y1="186.7" x2="637.6" y2="186.7" stroke="#555" stroke-width="0.6" />
<text x="638.6" y="189.7" font-size="8.6" fill="#151515">2</text>
<line x1="635.9" y1="165.35" x2="637.6" y2="165.35" stroke="#555" stroke-width="0.6" />
<text x="638.6" y="168.35" font-size="8.6" fill="#151515">3</text>
<line x1="635.9" y1="144" x2="637.6" y2="144" stroke="#555" stroke-width="0.6" />
<text x="638.6" y="147" font-size="8.6" fill="#151515">4</text>
<line x1="635.9" y1="122.65" x2="637.6" y2="122.65" stroke="#555" stroke-width="0.6" />
<text x="638.6" y="125.65" font-size="8.6" fill="#151515">5</text>
<line x1="635.9" y1="101.3" x2="637.6" y2="101.3" stroke="#555" stroke-width="0.6" />
<text x="638.6" y="104.3" font-size="8.6" fill="#151515">6</text>
<text x="437.3" y="240.9" font-size="9.2" text-anchor="middle" fill="#151515">-2.0</text>
<text x="541.9" y="240.9" font-size="9.2" text-anchor="middle" fill="#151515">-2.0</text>
<text x="522.7" y="240.9" font-size="9.2" text-anchor="middle" fill="#151515">2.0</text>
<text x="627.6" y="240.9" font-size="9.2" text-anchor="middle" fill="#151515">2.0</text>
<text x="480" y="240.9" font-size="9.2" text-anchor="middle" fill="#151515">TSS</text>
<text x="584.7" y="240.9" font-size="9.2" text-anchor="middle" fill="#151515">TSS</text>
<text x="538.3" y="252.2" font-size="9.1" text-anchor="middle" fill="#151515">distance from TSS (kb)</text>
<text x="421.2" y="157.1" font-size="9.1" text-anchor="middle" fill="#151515" transform="rotate(-90 421.2 157.1)">ChIP-seq signal intensity</text>
<text x="432.8" y="155.2" font-size="8.8" text-anchor="middle" fill="#151515" transform="rotate(-90 432.8 155.2)">(log<tspan font-size="6" dy="1.5">2</tspan><tspan dy="-1.5">(IP/input)</tspan></text>
<text x="24" y="269.6" font-size="14.5" font-weight="bold" fill="#000">D</text>
<circle cx="52.1" cy="300.7" r="12.7" fill="#f1f3f9" stroke="#6f84bb" stroke-width="0.8" />
<path d="M56,294.3 L49,294.3 C44.6,294.3 43.1,297.5 43.1,300.6 C43.1,303.8 44.6,307 49,307 L56,307 L56,303.6 L49.4,303.6 C47.6,303.6 46.6,302.2 46.6,300.6 C46.6,299 47.6,297.7 49.4,297.7 L56,297.7 Z" fill="#c0404a" />
<rect x="54.2" y="294.3" width="3.1" height="3.4" fill="#6a6a6a" />
<rect x="54.2" y="303.6" width="3.1" height="3.4" fill="#6a6a6a" />
<line x1="58" y1="295.3" x2="60" y2="294.7" stroke="#e0a020" stroke-width="0.5" />
<line x1="58" y1="296.8" x2="60" y2="296.2" stroke="#e0a020" stroke-width="0.5" />
<line x1="58" y1="304.6" x2="60" y2="304" stroke="#e0a020" stroke-width="0.5" />
<line x1="58" y1="306.1" x2="60" y2="305.5" stroke="#e0a020" stroke-width="0.5" />
<path d="M64.6,300.5 L64.9,300.36 L65.2,299.95 L65.5,299.31 L65.8,298.51 L66.1,297.63 L66.4,296.75 L66.7,295.97 L67,295.37 L67.3,295 L67.6,294.9 L67.9,295.09 L68.2,295.54 L68.5,296.21 L68.8,297.04 L69.1,297.92 L69.4,298.79 L69.7,299.54 L70,300.11 L70.3,300.44 L70.6,300.48 L70.9,300.25 L71.2,299.76 L71.5,299.06 L71.8,298.22 L72.1,297.33 L72.4,296.48 L72.7,295.75 L73,295.22 L73.3,294.94 L73.6,294.94 L73.9,295.22 L74.2,295.75 L74.5,296.48 L74.8,297.33 L75.1,298.22 L75.4,299.06 L75.7,299.76 L76,300.25 L76.3,300.48 L76.6,300.44 L76.9,300.11 L77.2,299.54 L77.5,298.79 L77.8,297.92 L78.1,297.04 L78.4,296.21 L78.7,295.54 L79,295.09 L79.3,294.9 L79.6,295 L79.9,295.37 L80.2,295.97 L80.5,296.75 L80.8,297.63 L81.1,298.51 L81.4,299.31 L81.7,299.95 L82,300.36 L82.3,300.5 L82.6,300.36 L82.9,299.95 L83.2,299.31 L83.5,298.51 L83.8,297.63 L84.1,296.75 L84.4,295.97 L84.7,295.37 L85,295 L85.3,294.9 L85.6,295.09 L85.9,295.54 L86.2,296.21 L86.5,297.04" fill="none" stroke="#333" stroke-width="0.7" />
<path d="M86.5,297 C89,294.5 91,293.2 93.6,293.1 C96.5,293 99.5,293.2 101.2,295 C102.8,296.8 102,300 100.9,302.9 C100.2,305 99.5,307.5 99.3,310.5 L98.6,310.5 C98.4,308 98.2,306 97.9,304 C97.5,301.5 97,299.8 95.8,298.2 C94.5,296.8 93,296.6 91.5,296.8 C89.5,297.1 88,297.6 86.5,298.2 Z" fill="#e4e4e4" stroke="#8a8a8a" stroke-width="0.55" />
<path d="M104.8,307.2 L138.1,296.1 L139.8,304.3 L107.2,315.9Z" fill="#f6dcc2" />
<text x="111.5" y="291.3" font-size="9.8" fill="#151515">anti FLAG</text>
<rect x="97.21" y="312.68" width="7.64" height="4.3" rx="0.6" fill="#6fc6aa" stroke="#2f7a66" stroke-width="0.55" transform="rotate(74.91 101.03 314.83)"/>
<rect x="99.28" y="320.35" width="7.64" height="4.3" rx="0.6" fill="#6fc6aa" stroke="#2f7a66" stroke-width="0.55" transform="rotate(74.91 103.1 322.5)"/>
<rect x="101.35" y="328.02" width="7.64" height="4.3" rx="0.6" fill="#6fc6aa" stroke="#2f7a66" stroke-width="0.55" transform="rotate(74.91 105.17 330.17)"/>
<rect x="102.47" y="312.12" width="7.4" height="4.3" rx="0.6" fill="#6fc6aa" stroke="#2f7a66" stroke-width="0.55" transform="rotate(72.35 106.17 314.27)"/>
<rect x="104.8" y="319.45" width="7.4" height="4.3" rx="0.6" fill="#6fc6aa" stroke="#2f7a66" stroke-width="0.55" transform="rotate(72.35 108.5 321.6)"/>
<rect x="107.14" y="326.78" width="7.4" height="4.3" rx="0.6" fill="#6fc6aa" stroke="#2f7a66" stroke-width="0.55" transform="rotate(72.35 110.83 328.93)"/>
<path d="M106.6,333.6 L105.2,337.2 L104.2,339 M108.4,333.6 L109.6,335.6 L110.4,336.2 M110.6,332.8 L110.2,335.8 L111.4,336.4 M112.2,332.4 L114.2,334.6 L115.6,335.2" fill="none" stroke="#333" stroke-width="0.7" />
<text x="61.5" y="343.1" font-size="11.3" fill="#151515">iMab</text>
<rect x="96.32" y="339.7" width="7.77" height="4.3" rx="0.6" fill="#ececec" stroke="#7a7a7a" stroke-width="0.55" transform="rotate(107.31 100.2 341.85)"/>
<rect x="93.92" y="347.4" width="7.77" height="4.3" rx="0.6" fill="#ececec" stroke="#7a7a7a" stroke-width="0.55" transform="rotate(107.31 97.8 349.55)"/>
<rect x="100.92" y="341.1" width="7.77" height="4.3" rx="0.6" fill="#ececec" stroke="#7a7a7a" stroke-width="0.55" transform="rotate(107.31 104.8 343.25)"/>
<rect x="98.52" y="348.8" width="7.77" height="4.3" rx="0.6" fill="#ececec" stroke="#7a7a7a" stroke-width="0.55" transform="rotate(107.31 102.4 350.95)"/>
<rect x="115.09" y="334.75" width="8.33" height="4.3" rx="0.6" fill="#ececec" stroke="#7a7a7a" stroke-width="0.55" transform="rotate(32.22 119.25 336.9)"/>
<rect x="122.39" y="339.35" width="8.33" height="4.3" rx="0.6" fill="#ececec" stroke="#7a7a7a" stroke-width="0.55" transform="rotate(32.22 126.55 341.5)"/>
<rect x="112.69" y="338.75" width="8.33" height="4.3" rx="0.6" fill="#ececec" stroke="#7a7a7a" stroke-width="0.55" transform="rotate(32.22 116.85 340.9)"/>
<rect x="119.99" y="343.35" width="8.33" height="4.3" rx="0.6" fill="#ececec" stroke="#7a7a7a" stroke-width="0.55" transform="rotate(32.22 124.15 345.5)"/>
<ellipse cx="113.8" cy="347.4" rx="5.3" ry="3.4" fill="#eef4fb" stroke="#3d7fc0" stroke-width="0.8"/>
<line x1="110.5" y1="350.5" x2="109.6" y2="354.5" stroke="#3d7fc0" stroke-width="0.5" />
<line x1="116.5" y1="350.6" x2="118.8" y2="352" stroke="#3d7fc0" stroke-width="0.5" />
<rect x="98.36" y="358.4" width="13.49" height="3.8" rx="0.6" fill="#5ab3d2" stroke="#2f86ad" stroke-width="0.55" transform="rotate(109.49 105.1 360.3)"/>
<rect x="103.94" y="359.4" width="12.82" height="3.8" rx="0.6" fill="#5ab3d2" stroke="#2f86ad" stroke-width="0.55" transform="rotate(109.13 110.35 361.3)"/>
<rect x="121.89" y="351.3" width="13.02" height="3.8" rx="0.6" fill="#5ab3d2" stroke="#2f86ad" stroke-width="0.55" transform="rotate(35.84 128.4 353.2)"/>
<rect x="118.45" y="355.95" width="13.21" height="3.8" rx="0.6" fill="#5ab3d2" stroke="#2f86ad" stroke-width="0.55" transform="rotate(38.99 125.05 357.85)"/>
<text x="143.5" y="376.6" font-size="11.4" fill="#151515">i-motif</text>
<path d="M107.1,370.4 L109.5,381 L111.5,390 L113.3,396.7 L114.9,405.5" fill="none" stroke="#b8c8c4" stroke-width="0.9" />
<path d="M113.8,359.5 L116.5,370 L118.6,380 L120.6,388.2 L123.5,396 L128.1,400.6" fill="none" stroke="#b8c8c4" stroke-width="0.9" />
<path d="M124.2,361.9 L126.5,372 L129,381 L131.2,389.8 L132.5,396 L128.1,400.6" fill="none" stroke="#b8c8c4" stroke-width="0.9" />
<path d="M133.5,363.4 L135.5,372 L137,382 L138.1,392.9 L136.5,398 L134.3,400.6 L132.8,405.5" fill="none" stroke="#b8c8c4" stroke-width="0.9" />
<line x1="113.8" y1="359.5" x2="124.2" y2="361.9" stroke="#dcc444" stroke-width="1.4" />
<line x1="113.8" y1="359.5" x2="124.2" y2="361.9" stroke="#f2e65e" stroke-width="0.9" />
<line x1="107.1" y1="370.4" x2="133.5" y2="363.4" stroke="#dcc444" stroke-width="1.4" />
<line x1="107.1" y1="370.4" x2="133.5" y2="363.4" stroke="#f2e65e" stroke-width="0.9" />
<line x1="116.5" y1="370" x2="126.5" y2="372" stroke="#dcc444" stroke-width="1.4" />
<line x1="116.5" y1="370" x2="126.5" y2="372" stroke="#f2e65e" stroke-width="0.9" />
<line x1="109.5" y1="379" x2="135.3" y2="372.5" stroke="#dcc444" stroke-width="1.4" />
<line x1="109.5" y1="379" x2="135.3" y2="372.5" stroke="#f2e65e" stroke-width="0.9" />
<line x1="118.6" y1="380" x2="129" y2="381" stroke="#dcc444" stroke-width="1.4" />
<line x1="118.6" y1="380" x2="129" y2="381" stroke="#f2e65e" stroke-width="0.9" />
<line x1="111.2" y1="388" x2="137" y2="382" stroke="#dcc444" stroke-width="1.4" />
<line x1="111.2" y1="388" x2="137" y2="382" stroke="#f2e65e" stroke-width="0.9" />
<line x1="120.6" y1="388.2" x2="131.2" y2="389.8" stroke="#dcc444" stroke-width="1.4" />
<line x1="120.6" y1="388.2" x2="131.2" y2="389.8" stroke="#f2e65e" stroke-width="0.9" />
<circle cx="113.8" cy="359.5" r="1.4" fill="#f7a25e" stroke="#e0682e" stroke-width="0.45" />
<circle cx="124.2" cy="361.9" r="1.4" fill="#f7a25e" stroke="#e0682e" stroke-width="0.45" />
<circle cx="133.5" cy="363.4" r="1.4" fill="#f7a25e" stroke="#e0682e" stroke-width="0.45" />
<circle cx="107.1" cy="370.4" r="1.4" fill="#f7a25e" stroke="#e0682e" stroke-width="0.45" />
<circle cx="116.5" cy="370" r="1.4" fill="#f7a25e" stroke="#e0682e" stroke-width="0.45" />
<circle cx="126.5" cy="372" r="1.4" fill="#f7a25e" stroke="#e0682e" stroke-width="0.45" />
<circle cx="135.5" cy="372.5" r="1.4" fill="#f7a25e" stroke="#e0682e" stroke-width="0.45" />
<circle cx="109.5" cy="380" r="1.4" fill="#f7a25e" stroke="#e0682e" stroke-width="0.45" />
<circle cx="118.6" cy="380" r="1.4" fill="#f7a25e" stroke="#e0682e" stroke-width="0.45" />
<circle cx="129" cy="381" r="1.4" fill="#f7a25e" stroke="#e0682e" stroke-width="0.45" />
<circle cx="137" cy="382" r="1.4" fill="#f7a25e" stroke="#e0682e" stroke-width="0.45" />
<circle cx="111.3" cy="388.5" r="1.4" fill="#f7a25e" stroke="#e0682e" stroke-width="0.45" />
<circle cx="120.6" cy="388.2" r="1.4" fill="#f7a25e" stroke="#e0682e" stroke-width="0.45" />
<circle cx="131.2" cy="389.8" r="1.4" fill="#f7a25e" stroke="#e0682e" stroke-width="0.45" />
<circle cx="138.1" cy="392.9" r="1.4" fill="#d6d6d6" stroke="#8a8a8a" stroke-width="0.45" />
<circle cx="113.3" cy="396.7" r="1.4" fill="#d4f5c2" stroke="#8fcf80" stroke-width="0.45" />
<circle cx="123.5" cy="396" r="1.4" fill="#d6d6d6" stroke="#8a8a8a" stroke-width="0.45" />
<circle cx="128.1" cy="400.6" r="1.4" fill="#d4f5c2" stroke="#8fcf80" stroke-width="0.45" />
<circle cx="136.5" cy="398" r="1.4" fill="#8c8c8c" stroke="#555" stroke-width="0.45" />
<circle cx="114.9" cy="403" r="1.4" fill="#d6d6d6" stroke="#8a8a8a" stroke-width="0.45" />
<circle cx="132.9" cy="402" r="1.4" fill="#d6d6d6" stroke="#8a8a8a" stroke-width="0.45" />
<g transform="translate(36.6 405.6) scale(1 1)">
<ellipse cx="0.8" cy="0" rx="6.0" ry="7.9" transform="rotate(28)" fill="#c9c9c9" stroke="#b0b0b0" stroke-width="0.4"/>
<ellipse cx="-1.0" cy="0" rx="5.6" ry="7.7" transform="rotate(28)" fill="#dedede" stroke="#c4c4c4" stroke-width="0.4"/>
<path d="M1.8,-6.6 Q0.8,0 -2.6,7.4" fill="none" stroke="#3a3a3a" stroke-width="0.55"/>
<path d="M3.4,-6.6 Q2.4,0 -1,6.92" fill="none" stroke="#3a3a3a" stroke-width="0.55"/>
<path d="M5,-6.6 Q4,0 0.6,6.44" fill="none" stroke="#3a3a3a" stroke-width="0.55"/>
</g>
<path d="M15.9,412.5 L31,412.5 Q32.6,412.4 33.6,411.3" fill="none" stroke="#444" stroke-width="0.8" />
<path d="M40.4,410 Q41.6,413.4 44.5,413.4 L58.6,413.4" fill="none" stroke="#444" stroke-width="0.8" />
<line x1="57.4" y1="416.2" x2="60.4" y2="410.2" stroke="#555" stroke-width="0.7" />
<line x1="59.8" y1="416.2" x2="62.8" y2="410.2" stroke="#555" stroke-width="0.7" />
<line x1="66.5" y1="411.87" x2="66.5" y2="417.27" stroke="#7c7c7c" stroke-width="0.5" />
<line x1="68.3" y1="413.37" x2="68.3" y2="416.88" stroke="#7c7c7c" stroke-width="0.5" />
<line x1="70.1" y1="414.85" x2="70.1" y2="416.06" stroke="#7c7c7c" stroke-width="0.5" />
<line x1="71.9" y1="416.1" x2="71.9" y2="414.9" stroke="#7c7c7c" stroke-width="0.5" />
<line x1="73.7" y1="416.95" x2="73.7" y2="413.55" stroke="#7c7c7c" stroke-width="0.5" />
<line x1="75.5" y1="417.3" x2="75.5" y2="412.16" stroke="#7c7c7c" stroke-width="0.5" />
<line x1="77.3" y1="417.08" x2="77.3" y2="410.89" stroke="#7c7c7c" stroke-width="0.5" />
<line x1="79.1" y1="416.33" x2="79.1" y2="409.88" stroke="#7c7c7c" stroke-width="0.5" />
<line x1="80.9" y1="415.15" x2="80.9" y2="409.27" stroke="#7c7c7c" stroke-width="0.5" />
<line x1="82.7" y1="413.71" x2="82.7" y2="409.11" stroke="#7c7c7c" stroke-width="0.5" />
<line x1="84.5" y1="412.19" x2="84.5" y2="409.42" stroke="#7c7c7c" stroke-width="0.5" />
<line x1="86.3" y1="410.82" x2="86.3" y2="410.18" stroke="#7c7c7c" stroke-width="0.5" />
<line x1="88.1" y1="409.77" x2="88.1" y2="411.29" stroke="#7c7c7c" stroke-width="0.5" />
<line x1="89.9" y1="409.19" x2="89.9" y2="412.62" stroke="#7c7c7c" stroke-width="0.5" />
<line x1="91.7" y1="409.16" x2="91.7" y2="414.01" stroke="#7c7c7c" stroke-width="0.5" />
<line x1="93.5" y1="409.68" x2="93.5" y2="415.32" stroke="#7c7c7c" stroke-width="0.5" />
<line x1="95.3" y1="410.68" x2="95.3" y2="416.37" stroke="#7c7c7c" stroke-width="0.5" />
<line x1="67.4" y1="412.61" x2="67.4" y2="414.87" stroke="#c84848" stroke-width="0.5" />
<line x1="71" y1="415.51" x2="71" y2="415.51" stroke="#c84848" stroke-width="0.5" />
<line x1="74.6" y1="417.19" x2="74.6" y2="415.02" stroke="#c84848" stroke-width="0.5" />
<line x1="78.2" y1="416.76" x2="78.2" y2="413.55" stroke="#c84848" stroke-width="0.5" />
<line x1="81.8" y1="414.45" x2="81.8" y2="411.79" stroke="#c84848" stroke-width="0.5" />
<line x1="85.4" y1="411.48" x2="85.4" y2="410.61" stroke="#c84848" stroke-width="0.5" />
<line x1="89" y1="409.41" x2="89" y2="410.67" stroke="#c84848" stroke-width="0.5" />
<line x1="92.6" y1="409.35" x2="92.6" y2="412.02" stroke="#c84848" stroke-width="0.5" />
<path d="M65.4,417.28 L65.9,417.3 L66.4,417.28 L66.9,417.23 L67.4,417.13 L67.9,417.01 L68.4,416.84 L68.9,416.65 L69.4,416.42 L69.9,416.17 L70.4,415.88 L70.9,415.58 L71.4,415.25 L71.9,414.9 L72.4,414.54 L72.9,414.17 L73.4,413.78 L73.9,413.4 L74.4,413 L74.9,412.62 L75.4,412.23 L75.9,411.86 L76.4,411.5 L76.9,411.15 L77.4,410.82 L77.9,410.52 L78.4,410.23 L78.9,409.98 L79.4,409.75 L79.9,409.56 L80.4,409.39 L80.9,409.27 L81.4,409.17 L81.9,409.12 L82.4,409.1 L82.9,409.12 L83.4,409.17 L83.9,409.27 L84.4,409.39 L84.9,409.56 L85.4,409.75 L85.9,409.98 L86.4,410.23 L86.9,410.52 L87.4,410.82 L87.9,411.15 L88.4,411.5 L88.9,411.86 L89.4,412.23 L89.9,412.62 L90.4,413 L90.9,413.4 L91.4,413.78 L91.9,414.17 L92.4,414.54 L92.9,414.9 L93.4,415.25 L93.9,415.58 L94.4,415.88 L94.9,416.17 L95.4,416.42 L95.9,416.65 L96.4,416.84 L96.9,417.01 L97.4,417.13 L97.9,417.23 L98.4,417.28" fill="none" stroke="#7f7f7f" stroke-width="1.2" />
<path d="M65.4,411.03 L65.9,411.4 L66.4,411.79 L66.9,412.19 L67.4,412.61 L67.9,413.03 L68.4,413.45 L68.9,413.87 L69.4,414.29 L69.9,414.69 L70.4,415.08 L70.9,415.44 L71.4,415.78 L71.9,416.1 L72.4,416.38 L72.9,416.63 L73.4,416.85 L73.9,417.02 L74.4,417.15 L74.9,417.24 L75.4,417.29 L75.9,417.3 L76.4,417.26 L76.9,417.17 L77.4,417.05 L77.9,416.88 L78.4,416.68 L78.9,416.44 L79.4,416.16 L79.9,415.85 L80.4,415.51 L80.9,415.15 L81.4,414.77 L81.9,414.37 L82.4,413.96 L82.9,413.54 L83.4,413.12 L83.9,412.69 L84.4,412.28 L84.9,411.87 L85.4,411.48 L85.9,411.1 L86.4,410.75 L86.9,410.42 L87.4,410.13 L87.9,409.86 L88.4,409.64 L88.9,409.45 L89.4,409.3 L89.9,409.19 L90.4,409.12 L90.9,409.1" fill="none" stroke="#c43838" stroke-width="1.2" />
<path d="M91,409.1 L95,408.6 L99,408.6 L103,409.8 L107,411.4 L110.5,411.6 L113,410 L115.3,407.3" fill="none" stroke="#c43838" stroke-width="1.1" />
<line x1="95" y1="408.6" x2="95" y2="411.3" stroke="#c43838" stroke-width="0.75" />
<line x1="96.5" y1="408.6" x2="96.5" y2="411.3" stroke="#c43838" stroke-width="0.75" />
<line x1="98" y1="408.6" x2="98" y2="411.3" stroke="#c43838" stroke-width="0.75" />
<line x1="99.48" y1="408.74" x2="98.7" y2="411.33" stroke="#c43838" stroke-width="0.75" />
<line x1="100.92" y1="409.17" x2="100.14" y2="411.76" stroke="#c43838" stroke-width="0.75" />
<line x1="102.35" y1="409.61" x2="101.58" y2="412.19" stroke="#c43838" stroke-width="0.75" />
<line x1="103.76" y1="410.11" x2="102.76" y2="412.61" stroke="#c43838" stroke-width="0.75" />
<line x1="105.16" y1="410.66" x2="104.15" y2="413.17" stroke="#c43838" stroke-width="0.75" />
<line x1="106.55" y1="411.22" x2="105.55" y2="413.73" stroke="#c43838" stroke-width="0.75" />
<line x1="108.01" y1="411.46" x2="107.86" y2="414.15" stroke="#c43838" stroke-width="0.75" />
<line x1="109.51" y1="411.54" x2="109.36" y2="414.24" stroke="#c43838" stroke-width="0.75" />
<line x1="110.93" y1="411.33" x2="112.39" y2="413.6" stroke="#c43838" stroke-width="0.75" />
<line x1="112.19" y1="410.52" x2="113.65" y2="412.79" stroke="#c43838" stroke-width="0.75" />
<line x1="113.35" y1="409.59" x2="115.41" y2="411.34" stroke="#c43838" stroke-width="0.75" />
<line x1="114.32" y1="408.45" x2="116.38" y2="410.2" stroke="#c43838" stroke-width="0.75" />
<line x1="115.3" y1="407.3" x2="117.35" y2="409.05" stroke="#c43838" stroke-width="0.75" />
<path d="M98.5,415.9 L99.3,416.07 L100.19,416.28 L101.12,416.52 L102.09,416.79 L103.06,417.08 L104,417.4 L104.95,417.73 L105.94,418.09 L106.93,418.46 L107.88,418.87 L108.75,419.31 L109.5,419.8 L110.14,420.32 L110.69,420.87 L111.17,421.46 L111.56,422.09 L111.87,422.76 L112.1,423.5 L112.2,424.32 L112.18,425.23 L112.07,426.19 L111.92,427.17 L111.78,428.11 L111.7,429 L111.66,429.81 L111.61,430.59 L111.58,431.33 L111.56,432.07 L111.56,432.82 L111.6,433.6 L111.64,434.43 L111.68,435.31 L111.74,436.2 L111.86,437.07 L112.07,437.88 L112.4,438.6 L112.88,439.22 L113.49,439.76 L114.19,440.24 L114.94,440.7 L115.73,441.14 L116.5,441.6 L117.3,442.05 L118.16,442.47 L119.05,442.88 L119.93,443.3 L120.75,443.77 L121.5,444.3 L122.15,444.89 L122.74,445.52 L123.29,446.19 L123.8,446.91 L124.3,447.68 L124.8,448.5 L125.29,449.43 L125.74,450.46 L126.18,451.55 L126.63,452.63 L127.09,453.63 L127.6,454.5 L128.15,455.3 L128.73,456.1 L129.32,456.83 L129.94,457.42 L130.57,457.8 L131.2,457.9 L131.86,457.7 L132.54,457.25 L133.24,456.59 L133.93,455.77 L134.59,454.82 L135.2,453.8 L135.76,452.65 L136.29,451.32 L136.78,449.88 L137.25,448.36 L137.69,446.81 L138.1,445.3 L138.46,443.78 L138.77,442.22 L139.06,440.64 L139.34,439.06 L139.64,437.5 L140,436 L140.39,434.54 L140.8,433.09 L141.23,431.68 L141.7,430.3 L142.22,428.97 L142.8,427.7 L143.44,426.49 L144.13,425.31 L144.86,424.19 L145.65,423.13 L146.5,422.13 L147.4,421.2 L148.43,420.33 L149.59,419.51 L150.8,418.75 L151.99,418.07 L153.09,417.48 L154,417 L154.72,416.65 L155.3,416.43 L155.79,416.29 L156.21,416.22 L156.6,416.17 L157,416.1" fill="none" stroke="#7a7a7a" stroke-width="1.1" />
<line x1="102.09" y1="416.79" x2="102.79" y2="414.49" stroke="#505050" stroke-width="0.75" />
<line x1="103.9" y1="417.37" x2="104.67" y2="415.09" stroke="#505050" stroke-width="0.75" />
<line x1="105.69" y1="418" x2="106.5" y2="415.74" stroke="#505050" stroke-width="0.75" />
<line x1="107.46" y1="418.69" x2="108.41" y2="416.49" stroke="#505050" stroke-width="0.75" />
<line x1="109.14" y1="419.57" x2="110.45" y2="417.56" stroke="#505050" stroke-width="0.75" />
<line x1="110.6" y1="420.78" x2="112.29" y2="419.07" stroke="#505050" stroke-width="0.75" />
<line x1="111.68" y1="422.33" x2="113.86" y2="421.34" stroke="#505050" stroke-width="0.75" />
<line x1="112.18" y1="424.15" x2="114.56" y2="423.85" stroke="#505050" stroke-width="0.75" />
<line x1="112.09" y1="426.05" x2="114.47" y2="426.32" stroke="#505050" stroke-width="0.75" />
<line x1="111.81" y1="427.93" x2="114.19" y2="428.27" stroke="#505050" stroke-width="0.75" />
<line x1="111.66" y1="429.82" x2="114.05" y2="429.96" stroke="#505050" stroke-width="0.75" />
<line x1="111.56" y1="431.72" x2="113.96" y2="431.78" stroke="#505050" stroke-width="0.75" />
<line x1="111.6" y1="433.62" x2="114" y2="433.49" stroke="#505050" stroke-width="0.75" />
<line x1="111.69" y1="435.51" x2="114.09" y2="435.35" stroke="#505050" stroke-width="0.75" />
<line x1="111.94" y1="437.39" x2="114.26" y2="436.79" stroke="#505050" stroke-width="0.75" />
<line x1="112.77" y1="439.08" x2="114.66" y2="437.6" stroke="#505050" stroke-width="0.75" />
<line x1="114.24" y1="440.27" x2="115.47" y2="438.21" stroke="#505050" stroke-width="0.75" />
<line x1="115.88" y1="441.23" x2="117.1" y2="439.17" stroke="#505050" stroke-width="0.75" />
<line x1="117.53" y1="442.16" x2="118.58" y2="440" stroke="#505050" stroke-width="0.75" />
<line x1="119.25" y1="442.97" x2="120.3" y2="440.81" stroke="#505050" stroke-width="0.75" />
<line x1="120.92" y1="443.88" x2="122.31" y2="441.93" stroke="#505050" stroke-width="0.75" />
<line x1="122.36" y1="445.11" x2="124.11" y2="443.47" stroke="#505050" stroke-width="0.75" />
<line x1="123.56" y1="446.58" x2="125.51" y2="445.18" stroke="#505050" stroke-width="0.75" />
<line x1="124.6" y1="448.17" x2="126.65" y2="446.92" stroke="#505050" stroke-width="0.75" />
<line x1="125.47" y1="449.85" x2="127.67" y2="448.89" stroke="#505050" stroke-width="0.75" />
<line x1="126.2" y1="451.61" x2="128.42" y2="450.69" stroke="#505050" stroke-width="0.75" />
<line x1="126.96" y1="453.35" x2="129.14" y2="452.34" stroke="#505050" stroke-width="0.75" />
<line x1="127.93" y1="454.98" x2="129.91" y2="453.63" stroke="#505050" stroke-width="0.75" />
<line x1="129.06" y1="456.51" x2="130.91" y2="454.98" stroke="#505050" stroke-width="0.75" />
<line x1="130.48" y1="457.74" x2="131.72" y2="455.69" stroke="#505050" stroke-width="0.75" />
<line x1="132.25" y1="457.44" x2="130.94" y2="455.43" stroke="#505050" stroke-width="0.75" />
<line x1="133.62" y1="456.14" x2="131.78" y2="454.6" stroke="#505050" stroke-width="0.75" />
<line x1="134.73" y1="454.6" x2="132.66" y2="453.38" stroke="#505050" stroke-width="0.75" />
<line x1="135.62" y1="452.93" x2="133.46" y2="451.88" stroke="#505050" stroke-width="0.75" />
<line x1="136.34" y1="451.17" x2="134.07" y2="450.39" stroke="#505050" stroke-width="0.75" />
<line x1="136.94" y1="449.36" x2="134.64" y2="448.66" stroke="#505050" stroke-width="0.75" />
<line x1="137.48" y1="447.54" x2="135.17" y2="446.89" stroke="#505050" stroke-width="0.75" />
<line x1="137.99" y1="445.71" x2="135.67" y2="445.08" stroke="#505050" stroke-width="0.75" />
<line x1="138.44" y1="443.87" x2="136.11" y2="443.31" stroke="#505050" stroke-width="0.75" />
<line x1="138.81" y1="442" x2="136.45" y2="441.58" stroke="#505050" stroke-width="0.75" />
<line x1="139.15" y1="440.13" x2="136.78" y2="439.71" stroke="#505050" stroke-width="0.75" />
<line x1="139.49" y1="438.27" x2="137.14" y2="437.8" stroke="#505050" stroke-width="0.75" />
<line x1="139.9" y1="436.41" x2="137.57" y2="435.86" stroke="#505050" stroke-width="0.75" />
<line x1="140.38" y1="434.57" x2="138.07" y2="433.95" stroke="#505050" stroke-width="0.75" />
<line x1="140.91" y1="432.75" x2="138.61" y2="432.05" stroke="#505050" stroke-width="0.75" />
<line x1="141.48" y1="430.94" x2="139.21" y2="430.16" stroke="#505050" stroke-width="0.75" />
<line x1="142.15" y1="429.16" x2="139.91" y2="428.28" stroke="#505050" stroke-width="0.75" />
<line x1="142.94" y1="427.43" x2="140.82" y2="426.31" stroke="#505050" stroke-width="0.75" />
<line x1="143.86" y1="425.77" x2="141.79" y2="424.56" stroke="#505050" stroke-width="0.75" />
<line x1="144.88" y1="424.17" x2="142.95" y2="422.74" stroke="#505050" stroke-width="0.75" />
<line x1="146.04" y1="422.67" x2="144.21" y2="421.12" stroke="#505050" stroke-width="0.75" />
<line x1="147.33" y1="421.27" x2="145.61" y2="419.6" stroke="#505050" stroke-width="0.75" />
<line x1="148.8" y1="420.07" x2="147.41" y2="418.11" stroke="#505050" stroke-width="0.75" />
<line x1="150.38" y1="419.01" x2="149.11" y2="416.98" stroke="#505050" stroke-width="0.75" />
<line x1="152.02" y1="418.06" x2="150.88" y2="415.94" stroke="#505050" stroke-width="0.75" />
<line x1="153.7" y1="417.16" x2="152.58" y2="415.04" stroke="#505050" stroke-width="0.75" />
<line x1="155.43" y1="416.39" x2="154.8" y2="414.08" stroke="#505050" stroke-width="0.75" />
<path d="M133.1,406 L136,409.5 L140.1,412.4 L142.5,410.5 L144.2,409.5 L148.3,409.3 L152,409.4 L155.2,409.6 L157,410.6" fill="none" stroke="#c43838" stroke-width="1.1" />
<line x1="133.1" y1="406" x2="131.02" y2="407.72" stroke="#c43838" stroke-width="0.75" />
<line x1="134.06" y1="407.16" x2="131.98" y2="408.88" stroke="#c43838" stroke-width="0.75" />
<line x1="135.01" y1="408.31" x2="132.93" y2="410.03" stroke="#c43838" stroke-width="0.75" />
<line x1="135.97" y1="409.47" x2="133.89" y2="411.19" stroke="#c43838" stroke-width="0.75" />
<line x1="137.19" y1="410.34" x2="135.63" y2="412.54" stroke="#c43838" stroke-width="0.75" />
<line x1="138.41" y1="411.21" x2="136.85" y2="413.41" stroke="#c43838" stroke-width="0.75" />
<line x1="139.64" y1="412.07" x2="138.08" y2="414.28" stroke="#c43838" stroke-width="0.75" />
<line x1="140.83" y1="411.82" x2="142.51" y2="413.94" stroke="#c43838" stroke-width="0.75" />
<line x1="142.01" y1="410.89" x2="143.68" y2="413.01" stroke="#c43838" stroke-width="0.75" />
<line x1="143.25" y1="410.06" x2="144.62" y2="412.39" stroke="#c43838" stroke-width="0.75" />
<line x1="144.6" y1="409.48" x2="144.73" y2="412.18" stroke="#c43838" stroke-width="0.75" />
<line x1="146.1" y1="409.41" x2="146.23" y2="412.1" stroke="#c43838" stroke-width="0.75" />
<line x1="147.6" y1="409.33" x2="147.73" y2="412.03" stroke="#c43838" stroke-width="0.75" />
<line x1="149.09" y1="409.32" x2="149.02" y2="412.02" stroke="#c43838" stroke-width="0.75" />
<line x1="150.59" y1="409.36" x2="150.52" y2="412.06" stroke="#c43838" stroke-width="0.75" />
<line x1="152.09" y1="409.41" x2="151.92" y2="412.1" stroke="#c43838" stroke-width="0.75" />
<line x1="153.59" y1="409.5" x2="153.42" y2="412.19" stroke="#c43838" stroke-width="0.75" />
<line x1="155.09" y1="409.59" x2="154.92" y2="412.29" stroke="#c43838" stroke-width="0.75" />
<line x1="156.41" y1="410.27" x2="155.1" y2="412.63" stroke="#c43838" stroke-width="0.75" />
<line x1="157" y1="413.85" x2="157" y2="418.25" stroke="#7c7c7c" stroke-width="0.5" />
<line x1="158.8" y1="415.16" x2="158.8" y2="417.49" stroke="#7c7c7c" stroke-width="0.5" />
<line x1="160.6" y1="416.4" x2="160.6" y2="416.44" stroke="#7c7c7c" stroke-width="0.5" />
<line x1="162.4" y1="417.45" x2="162.4" y2="415.2" stroke="#7c7c7c" stroke-width="0.5" />
<line x1="164.2" y1="418.22" x2="164.2" y2="413.89" stroke="#7c7c7c" stroke-width="0.5" />
<line x1="166" y1="418.64" x2="166" y2="412.62" stroke="#7c7c7c" stroke-width="0.5" />
<line x1="167.8" y1="418.66" x2="167.8" y2="411.52" stroke="#7c7c7c" stroke-width="0.5" />
<line x1="169.6" y1="418.29" x2="169.6" y2="410.69" stroke="#7c7c7c" stroke-width="0.5" />
<line x1="171.4" y1="417.55" x2="171.4" y2="410.21" stroke="#7c7c7c" stroke-width="0.5" />
<line x1="173.2" y1="416.53" x2="173.2" y2="410.12" stroke="#7c7c7c" stroke-width="0.5" />
<line x1="175" y1="415.31" x2="175" y2="410.43" stroke="#7c7c7c" stroke-width="0.5" />
<line x1="176.8" y1="414" x2="176.8" y2="411.11" stroke="#7c7c7c" stroke-width="0.5" />
<line x1="178.6" y1="412.73" x2="178.6" y2="412.1" stroke="#7c7c7c" stroke-width="0.5" />
<line x1="180.4" y1="411.61" x2="180.4" y2="413.31" stroke="#7c7c7c" stroke-width="0.5" />
<line x1="182.2" y1="410.76" x2="182.2" y2="414.62" stroke="#7c7c7c" stroke-width="0.5" />
<line x1="184" y1="410.24" x2="184" y2="415.91" stroke="#7c7c7c" stroke-width="0.5" />
<line x1="185.8" y1="410.11" x2="185.8" y2="417.06" stroke="#7c7c7c" stroke-width="0.5" />
<line x1="157.9" y1="414.51" x2="157.9" y2="416.21" stroke="#c84848" stroke-width="0.5" />
<line x1="161.5" y1="416.96" x2="161.5" y2="416.4" stroke="#c84848" stroke-width="0.5" />
<line x1="165.1" y1="418.48" x2="165.1" y2="415.86" stroke="#c84848" stroke-width="0.5" />
<line x1="168.7" y1="418.52" x2="168.7" y2="414.79" stroke="#c84848" stroke-width="0.5" />
<line x1="172.3" y1="417.07" x2="172.3" y2="413.59" stroke="#c84848" stroke-width="0.5" />
<line x1="175.9" y1="414.66" x2="175.9" y2="412.69" stroke="#c84848" stroke-width="0.5" />
<line x1="179.5" y1="412.15" x2="179.5" y2="412.42" stroke="#c84848" stroke-width="0.5" />
<line x1="183.1" y1="410.45" x2="183.1" y2="412.86" stroke="#c84848" stroke-width="0.5" />
<line x1="186.7" y1="410.19" x2="186.7" y2="413.87" stroke="#c84848" stroke-width="0.5" />
<path d="M155.2,418.65 L155.7,418.58 L156.2,418.48 L156.7,418.34 L157.2,418.18 L157.7,418 L158.2,417.78 L158.7,417.54 L159.2,417.28 L159.7,417 L160.2,416.7 L160.7,416.38 L161.2,416.05 L161.7,415.7 L162.2,415.35 L162.7,414.99 L163.2,414.62 L163.7,414.25 L164.2,413.89 L164.7,413.53 L165.2,413.17 L165.7,412.82 L166.2,412.49 L166.7,412.17 L167.2,411.86 L167.7,411.57 L168.2,411.31 L168.7,411.06 L169.2,410.85 L169.7,410.65 L170.2,410.49 L170.7,410.35 L171.2,410.24 L171.7,410.16 L172.2,410.12 L172.7,410.1 L173.2,410.12 L173.7,410.16 L174.2,410.24 L174.7,410.35 L175.2,410.49 L175.7,410.65 L176.2,410.85 L176.7,411.06 L177.2,411.31 L177.7,411.57 L178.2,411.86 L178.7,412.17 L179.2,412.49 L179.7,412.82 L180.2,413.17 L180.7,413.53 L181.2,413.89 L181.7,414.25 L182.2,414.62 L182.7,414.99 L183.2,415.35 L183.7,415.7 L184.2,416.05 L184.7,416.38 L185.2,416.7 L185.7,417 L186.2,417.28 L186.7,417.54 L187.2,417.78 L187.7,418" fill="none" stroke="#7f7f7f" stroke-width="1.2" />
<path d="M157,413.85 L157.5,414.22 L158,414.58 L158.5,414.95 L159,415.31 L159.5,415.66 L160,416 L160.5,416.34 L161,416.65 L161.5,416.96 L162,417.24 L162.5,417.5 L163,417.75 L163.5,417.96 L164,418.15 L164.5,418.32 L165,418.45 L165.5,418.56 L166,418.64 L166.5,418.68 L167,418.7 L167.5,418.68 L168,418.64 L168.5,418.56 L169,418.45 L169.5,418.32 L170,418.15 L170.5,417.96 L171,417.75 L171.5,417.5 L172,417.24 L172.5,416.96 L173,416.65 L173.5,416.34 L174,416 L174.5,415.66 L175,415.31 L175.5,414.95 L176,414.58 L176.5,414.22 L177,413.85 L177.5,413.49 L178,413.14 L178.5,412.8 L179,412.46 L179.5,412.15 L180,411.84 L180.5,411.56 L181,411.3 L181.5,411.05 L182,410.84 L182.5,410.65 L183,410.48 L183.5,410.35 L184,410.24 L184.5,410.16 L185,410.12 L185.5,410.1 L186,410.12 L186.5,410.16 L187,410.24 L187.5,410.35 L188,410.48" fill="none" stroke="#c43838" stroke-width="1.2" />
<line x1="188.4" y1="418.6" x2="191.2" y2="412.2" stroke="#555" stroke-width="0.7" />
<line x1="190.8" y1="418.6" x2="193.6" y2="412.2" stroke="#555" stroke-width="0.7" />
<g transform="translate(216.8 408.4) scale(-1 1)">
<ellipse cx="0.8" cy="0" rx="6.0" ry="7.9" transform="rotate(28)" fill="#c9c9c9" stroke="#b0b0b0" stroke-width="0.4"/>
<ellipse cx="-1.0" cy="0" rx="5.6" ry="7.7" transform="rotate(28)" fill="#dedede" stroke="#c4c4c4" stroke-width="0.4"/>
<path d="M1.8,-6.6 Q0.8,0 -2.6,7.4" fill="none" stroke="#3a3a3a" stroke-width="0.55"/>
<path d="M3.4,-6.6 Q2.4,0 -1,6.92" fill="none" stroke="#3a3a3a" stroke-width="0.55"/>
<path d="M5,-6.6 Q4,0 0.6,6.44" fill="none" stroke="#3a3a3a" stroke-width="0.55"/>
</g>
<path d="M193.2,416.1 L207.5,416.1 Q210,416 211.5,413.2" fill="none" stroke="#444" stroke-width="0.8" />
<path d="M219.6,413.6 Q220.8,415.6 223,415.6 L238.8,415.6" fill="none" stroke="#444" stroke-width="0.8" />
<text x="225" y="269.6" font-size="14.5" font-weight="bold" fill="#000">E</text>
<line x1="292.5" y1="405.03" x2="640.4" y2="405.03" stroke="#ececec" stroke-width="0.7" />
<line x1="292.5" y1="365.89" x2="640.4" y2="365.89" stroke="#ececec" stroke-width="0.7" />
<line x1="292.5" y1="326.75" x2="640.4" y2="326.75" stroke="#ececec" stroke-width="0.7" />
<line x1="292.5" y1="287.61" x2="640.4" y2="287.61" stroke="#ececec" stroke-width="0.7" />
<line x1="292.5" y1="424.6" x2="640.4" y2="424.6" stroke="#d2d2d2" stroke-width="0.8" />
<line x1="292.5" y1="385.46" x2="640.4" y2="385.46" stroke="#d2d2d2" stroke-width="0.8" />
<line x1="292.5" y1="346.32" x2="640.4" y2="346.32" stroke="#d2d2d2" stroke-width="0.8" />
<line x1="292.5" y1="307.18" x2="640.4" y2="307.18" stroke="#d2d2d2" stroke-width="0.8" />
<line x1="406.8" y1="267.7" x2="406.8" y2="428.3" stroke="#d8d8d8" stroke-width="0.8" />
<line x1="522.6" y1="267.7" x2="522.6" y2="428.3" stroke="#d8d8d8" stroke-width="0.8" />
<rect x="292.5" y="256.5" width="114.3" height="11.2" fill="#fff" stroke="#333" stroke-width="0.9" />
<rect x="406.8" y="256.5" width="115.8" height="11.2" fill="#fff" stroke="#c8414b" stroke-width="0.9" />
<rect x="522.6" y="256.5" width="117.8" height="11.2" fill="#fff" stroke="#5f8fb0" stroke-width="0.9" />
<text x="350" y="265.1" font-size="8.2" text-anchor="middle" font-weight="bold" font-style="italic" fill="#111">BCL2</text>
<text x="464" y="265.1" font-size="8.2" text-anchor="middle" font-weight="bold" font-style="italic" fill="#111">cMYC</text>
<text x="579.4" y="265.1" font-size="8.2" text-anchor="middle" font-weight="bold" font-style="italic" fill="#111">ILPR</text>
<line x1="292.5" y1="267.7" x2="292.5" y2="428.8" stroke="#333" stroke-width="1" />
<line x1="292" y1="428.3" x2="640.9" y2="428.3" stroke="#333" stroke-width="1.1" />
<line x1="640.4" y1="267.7" x2="640.4" y2="428.3" stroke="#555" stroke-width="0.9" />
<line x1="289.5" y1="424.6" x2="292.5" y2="424.6" stroke="#333" stroke-width="0.8" />
<text x="283.7" y="428.1" font-size="9.9" text-anchor="end" fill="#151515">0</text>
<line x1="289.5" y1="385.46" x2="292.5" y2="385.46" stroke="#333" stroke-width="0.8" />
<text x="283.7" y="388.96" font-size="9.9" text-anchor="end" fill="#151515">25</text>
<line x1="289.5" y1="346.32" x2="292.5" y2="346.32" stroke="#333" stroke-width="0.8" />
<text x="283.7" y="349.82" font-size="9.9" text-anchor="end" fill="#151515">50</text>
<line x1="289.5" y1="307.18" x2="292.5" y2="307.18" stroke="#333" stroke-width="0.8" />
<text x="283.7" y="310.68" font-size="9.9" text-anchor="end" fill="#151515">75</text>
<line x1="289.5" y1="268.04" x2="292.5" y2="268.04" stroke="#333" stroke-width="0.8" />
<text x="283.7" y="271.54" font-size="9.9" text-anchor="end" fill="#151515">100</text>
<text x="247.2" y="350.7" font-size="9.8" text-anchor="middle" fill="#151515" transform="rotate(-90 247.2 350.7)">ChIP-iMab</text>
<text x="259.9" y="351.2" font-size="9.9" text-anchor="middle" fill="#151515" transform="rotate(-90 259.9 351.2)">(Fold enrichment over negative regions)</text>
<text x="637.4" y="279.8" font-size="10.7" text-anchor="end" fill="#111">HeLa cells</text>
<rect x="297.1" y="387.81" width="18" height="37.09" fill="#fff" stroke="#2b2b2b" stroke-width="1.15" />
<rect x="325.9" y="296.22" width="18" height="128.68" fill="#fff" stroke="#2b2b2b" stroke-width="1.15" />
<rect x="354.7" y="394.85" width="18" height="30.05" fill="#fff" stroke="#2b2b2b" stroke-width="1.15" />
<rect x="383.5" y="361.19" width="18" height="63.71" fill="#fff" stroke="#2b2b2b" stroke-width="1.15" />
<rect x="412.3" y="393.6" width="18" height="31.3" fill="#fff" stroke="#c8414b" stroke-width="1.15" />
<rect x="441.1" y="316.73" width="18" height="108.17" fill="#fff" stroke="#c8414b" stroke-width="1.15" />
<rect x="469.9" y="399.86" width="18" height="25.04" fill="#fff" stroke="#c8414b" stroke-width="1.15" />
<rect x="498.7" y="370.43" width="18" height="54.47" fill="#fff" stroke="#c8414b" stroke-width="1.15" />
<rect x="527.5" y="397.2" width="18" height="27.7" fill="#fff" stroke="#5f8fb0" stroke-width="1.15" />
<rect x="556.3" y="328.32" width="18" height="96.58" fill="#fff" stroke="#5f8fb0" stroke-width="1.15" />
<rect x="585.1" y="401.9" width="18" height="23" fill="#fff" stroke="#5f8fb0" stroke-width="1.15" />
<rect x="613.9" y="376.07" width="18" height="48.83" fill="#fff" stroke="#5f8fb0" stroke-width="1.15" />
<line x1="306.1" y1="382.64" x2="306.1" y2="392.51" stroke="#333" stroke-width="0.8" />
<line x1="303.4" y1="382.64" x2="308.8" y2="382.64" stroke="#333" stroke-width="0.8" />
<line x1="303.4" y1="392.51" x2="308.8" y2="392.51" stroke="#333" stroke-width="0.8" />
<circle cx="308.1" cy="378.26" r="3.4" fill="#9a9a9a" fill-opacity="0.72"/>
<circle cx="305.6" cy="392.04" r="3.4" fill="#9a9a9a" fill-opacity="0.72"/>
<circle cx="304.9" cy="393.91" r="3.4" fill="#9a9a9a" fill-opacity="0.72"/>
<text x="317.8" y="435.3" font-size="9.1" text-anchor="end" fill="#151515" transform="rotate(-45 317.8 435.3)">ARHGEF10L</text>
<line x1="334.9" y1="281.66" x2="334.9" y2="310.94" stroke="#333" stroke-width="0.8" />
<line x1="332.2" y1="281.66" x2="337.6" y2="281.66" stroke="#333" stroke-width="0.8" />
<line x1="332.2" y1="310.94" x2="337.6" y2="310.94" stroke="#333" stroke-width="0.8" />
<circle cx="332.4" cy="272.74" r="3.4" fill="#9a9a9a" fill-opacity="0.72"/>
<circle cx="336.1" cy="291.84" r="3.4" fill="#9a9a9a" fill-opacity="0.72"/>
<circle cx="332.4" cy="324.4" r="3.4" fill="#9a9a9a" fill-opacity="0.72"/>
<text x="346.5" y="436.3" font-size="9.1" text-anchor="end" fill="#151515" transform="rotate(-45 346.5 436.3)">GAPDH</text>
<line x1="363.7" y1="390.47" x2="363.7" y2="398.77" stroke="#333" stroke-width="0.8" />
<line x1="361" y1="390.47" x2="366.4" y2="390.47" stroke="#333" stroke-width="0.8" />
<line x1="361" y1="398.77" x2="366.4" y2="398.77" stroke="#333" stroke-width="0.8" />
<circle cx="364" cy="390.63" r="3.4" fill="#9a9a9a" fill-opacity="0.72"/>
<circle cx="365.9" cy="403.15" r="3.4" fill="#9a9a9a" fill-opacity="0.72"/>
<circle cx="364.2" cy="393.6" r="3.4" fill="#9a9a9a" fill-opacity="0.72"/>
<text x="371.9" y="437.4" font-size="9.1" text-anchor="end" fill="#151515" transform="rotate(-45 371.9 437.4)">HTR6</text>
<line x1="392.5" y1="356.65" x2="392.5" y2="365.11" stroke="#333" stroke-width="0.8" />
<line x1="389.8" y1="356.65" x2="395.2" y2="356.65" stroke="#333" stroke-width="0.8" />
<line x1="389.8" y1="365.11" x2="395.2" y2="365.11" stroke="#333" stroke-width="0.8" />
<circle cx="392.8" cy="353.37" r="3.4" fill="#9a9a9a" fill-opacity="0.72"/>
<circle cx="390" cy="366.67" r="3.4" fill="#9a9a9a" fill-opacity="0.72"/>
<circle cx="394" cy="361.19" r="3.4" fill="#9a9a9a" fill-opacity="0.72"/>
<text x="399.5" y="436.3" font-size="9.1" text-anchor="end" fill="#151515" transform="rotate(-45 399.5 436.3)">IL36G</text>
<line x1="421.3" y1="391.41" x2="421.3" y2="394.85" stroke="#333" stroke-width="0.8" />
<line x1="418.6" y1="391.41" x2="424" y2="391.41" stroke="#333" stroke-width="0.8" />
<line x1="418.6" y1="394.85" x2="424" y2="394.85" stroke="#333" stroke-width="0.8" />
<circle cx="420.3" cy="391.72" r="3.4" fill="#e8707a" fill-opacity="0.72"/>
<circle cx="421.8" cy="393.6" r="3.4" fill="#dd5a4c" fill-opacity="0.72"/>
<circle cx="420.8" cy="394.85" r="3.4" fill="#e27a52" fill-opacity="0.72"/>
<text x="432.9" y="436.3" font-size="9.1" text-anchor="end" fill="#151515" transform="rotate(-45 432.9 436.3)">ARHGEF10L</text>
<line x1="450.1" y1="312.82" x2="450.1" y2="320.49" stroke="#333" stroke-width="0.8" />
<line x1="447.4" y1="312.82" x2="452.8" y2="312.82" stroke="#333" stroke-width="0.8" />
<line x1="447.4" y1="320.49" x2="452.8" y2="320.49" stroke="#333" stroke-width="0.8" />
<circle cx="450.6" cy="308.43" r="3.4" fill="#e8707a" fill-opacity="0.72"/>
<circle cx="449.1" cy="317.36" r="3.4" fill="#dd5a4c" fill-opacity="0.72"/>
<circle cx="450.6" cy="324.09" r="3.4" fill="#e27a52" fill-opacity="0.72"/>
<text x="458.4" y="437.4" font-size="9.1" text-anchor="end" fill="#151515" transform="rotate(-45 458.4 437.4)">GAPDH</text>
<line x1="478.9" y1="397.52" x2="478.9" y2="401.43" stroke="#333" stroke-width="0.8" />
<line x1="476.2" y1="397.52" x2="481.6" y2="397.52" stroke="#333" stroke-width="0.8" />
<line x1="476.2" y1="401.43" x2="481.6" y2="401.43" stroke="#333" stroke-width="0.8" />
<circle cx="476.4" cy="395.17" r="3.4" fill="#e8707a" fill-opacity="0.72"/>
<circle cx="479.2" cy="402.53" r="3.4" fill="#dd5a4c" fill-opacity="0.72"/>
<circle cx="479.5" cy="401.12" r="3.4" fill="#e27a52" fill-opacity="0.72"/>
<text x="483.4" y="438.4" font-size="9.1" text-anchor="end" fill="#151515" transform="rotate(-45 483.4 438.4)">HTR6</text>
<line x1="507.7" y1="366.36" x2="507.7" y2="374.19" stroke="#333" stroke-width="0.8" />
<line x1="505" y1="366.36" x2="510.4" y2="366.36" stroke="#333" stroke-width="0.8" />
<line x1="505" y1="374.19" x2="510.4" y2="374.19" stroke="#333" stroke-width="0.8" />
<circle cx="509.9" cy="363.07" r="3.4" fill="#e8707a" fill-opacity="0.72"/>
<circle cx="509.2" cy="370.43" r="3.4" fill="#dd5a4c" fill-opacity="0.72"/>
<circle cx="506.4" cy="377.95" r="3.4" fill="#e27a52" fill-opacity="0.72"/>
<text x="513.1" y="437.5" font-size="9.1" text-anchor="end" fill="#151515" transform="rotate(-45 513.1 437.5)">IL36G</text>
<line x1="536.5" y1="395.48" x2="536.5" y2="397.98" stroke="#333" stroke-width="0.8" />
<line x1="533.8" y1="395.48" x2="539.2" y2="395.48" stroke="#333" stroke-width="0.8" />
<line x1="533.8" y1="397.98" x2="539.2" y2="397.98" stroke="#333" stroke-width="0.8" />
<circle cx="535.5" cy="395.48" r="3.4" fill="#5c9e96" fill-opacity="0.72"/>
<circle cx="537" cy="396.73" r="3.4" fill="#5c9e96" fill-opacity="0.72"/>
<circle cx="537.5" cy="397.52" r="3.4" fill="#5c9e96" fill-opacity="0.72"/>
<text x="547" y="436.3" font-size="9.1" text-anchor="end" fill="#151515" transform="rotate(-45 547 436.3)">ARHGEF10L</text>
<line x1="565.3" y1="322.37" x2="565.3" y2="333.8" stroke="#333" stroke-width="0.8" />
<line x1="562.6" y1="322.37" x2="568" y2="322.37" stroke="#333" stroke-width="0.8" />
<line x1="562.6" y1="333.8" x2="568" y2="333.8" stroke="#333" stroke-width="0.8" />
<circle cx="565.8" cy="316.26" r="3.4" fill="#5c9e96" fill-opacity="0.72"/>
<circle cx="563.1" cy="330.51" r="3.4" fill="#5c9e96" fill-opacity="0.72"/>
<circle cx="567.5" cy="336.93" r="3.4" fill="#5c9e96" fill-opacity="0.72"/>
<text x="577" y="437.5" font-size="9.1" text-anchor="end" fill="#151515" transform="rotate(-45 577 437.5)">GAPDH</text>
<line x1="594.1" y1="399.55" x2="594.1" y2="405.03" stroke="#333" stroke-width="0.8" />
<line x1="591.4" y1="399.55" x2="596.8" y2="399.55" stroke="#333" stroke-width="0.8" />
<line x1="591.4" y1="405.03" x2="596.8" y2="405.03" stroke="#333" stroke-width="0.8" />
<circle cx="595.4" cy="397.67" r="3.4" fill="#5c9e96" fill-opacity="0.72"/>
<circle cx="591.8" cy="405.97" r="3.4" fill="#5c9e96" fill-opacity="0.72"/>
<circle cx="596.3" cy="404.87" r="3.4" fill="#5c9e96" fill-opacity="0.72"/>
<text x="601" y="437.5" font-size="9.1" text-anchor="end" fill="#151515" transform="rotate(-45 601 437.5)">HTR6</text>
<line x1="622.9" y1="373.87" x2="622.9" y2="377.95" stroke="#333" stroke-width="0.8" />
<line x1="620.2" y1="373.87" x2="625.6" y2="373.87" stroke="#333" stroke-width="0.8" />
<line x1="620.2" y1="377.95" x2="625.6" y2="377.95" stroke="#333" stroke-width="0.8" />
<circle cx="622.6" cy="374.34" r="3.4" fill="#5c9e96" fill-opacity="0.72"/>
<circle cx="623.7" cy="376.38" r="3.4" fill="#5c9e96" fill-opacity="0.72"/>
<circle cx="624.4" cy="380.14" r="3.4" fill="#5c9e96" fill-opacity="0.72"/>
<text x="629.8" y="437.5" font-size="9.1" text-anchor="end" fill="#151515" transform="rotate(-45 629.8 437.5)">IL36G</text>
<text x="9.9" y="469.6" font-size="14.5" font-weight="bold" fill="#000">F</text>
<text x="44.5" y="481.4" font-size="8.9" fill="#151515">chr18: 63,312,399-63,325,629</text>
<rect x="43.7" y="486" width="371.7" height="40.3" fill="#fafaff" />
<rect x="205.9" y="486.6" width="6.5" height="39.1" fill="#d9d9dc" opacity="0.9"/>
<path d="M44.2,501.3 L170.7,501.3 L171.2,500.3 L171.7,499 L172.2,498.3 L172.7,498.1 L173.2,497.6 L173.7,497.4 L174.2,497.2 L174.7,497.3 L175.2,498.1 L175.7,498.6 L176.2,498.8 L176.7,500 L177.2,501.3 L199.2,501.3 L199.7,500.9 L200.2,500.5 L200.7,500.1 L201.2,499.9 L201.7,500.1 L202.2,500 L202.7,500.4 L203.2,501.1 L203.7,501.3 L204.2,501.3 L204.7,500.2 L205.2,498.9 L205.7,497.7 L206.2,497.5 L206.7,497.3 L207.2,496.9 L207.7,497.1 L208.2,497 L208.7,496.7 L209.2,496.2 L209.7,495.5 L210.2,495.9 L210.7,496.1 L211.2,497.7 L211.7,498.3 L212.2,498.2 L212.7,497.9 L213.2,498.2 L213.7,498.9 L214.2,499.3 L214.7,500.3 L215.2,501.3 L253.2,501.3 L253.7,500.7 L254.2,500.4 L254.7,500.1 L255.2,500.1 L255.7,500 L256.2,499.9 L256.7,500.1 L257.2,500.4 L257.7,500.7 L258.2,501.3 L269.2,501.3 L269.7,500.2 L270.2,498.7 L270.7,497.9 L271.2,497.2 L271.7,496.8 L272.2,496.5 L272.7,497.1 L273.2,497.7 L273.7,496.7 L274.2,496.3 L274.7,496.5 L275.2,497.1 L275.7,497.1 L276.2,497.4 L276.7,497.3 L277.2,496.9 L277.7,497.5 L278.2,498.2 L278.7,499.3 L279.2,501 L279.7,500.2 L280.2,499.6 L280.7,498.7 L281.2,498.4 L281.7,498.4 L282.2,498.8 L282.7,499.4 L283.2,500.6 L283.7,501.3 L309.7,501.3 L310.2,501 L310.7,500.6 L311.2,500.5 L311.7,500.3 L312.2,500.5 L312.7,500.9 L313.2,501.3 L320.7,501.3 L321.2,500.8 L321.7,500.5 L322.2,500.4 L322.7,500.5 L323.2,500.7 L323.7,501.1 L324.2,501.3 L383.2,501.3 L383.7,500.9 L384.2,500.5 L384.7,500.3 L385.2,500.1 L385.7,500.1 L386.2,499.9 L386.7,500 L387.2,500.2 L387.7,500.5 L388.2,501 L388.7,501.3 L404.7,501.3 L405.2,501.1 L405.7,500.6 L406.2,500.3 L406.7,500.2 L407.2,500.1 L407.7,500.1 L408.2,499.9 L408.7,500.2 L409.2,500.5 L409.7,500.8 L410.2,501.3 L414.9,501.3Z" fill="#4fab98" />
<line x1="44.2" y1="501.3" x2="414.9" y2="501.3" stroke="#5db4a2" stroke-width="0.85" />
<path d="M44.2,517 L44.7,517 L45.2,516.5 L45.7,516.1 L46.2,516 L46.7,515.9 L47.2,515.6 L47.7,515.6 L48.2,515.7 L48.7,516 L49.2,516.2 L49.7,516.7 L50.2,517 L54.7,517 L55.2,516.9 L55.7,516.4 L56.2,515.9 L56.7,515.6 L57.2,515.3 L57.7,515.1 L58.2,515 L58.7,515.2 L59.2,515.3 L59.7,515.6 L60.2,515.9 L60.7,516.2 L61.2,516.6 L61.7,517 L76.2,517 L76.7,516.7 L77.2,516.4 L77.7,516.1 L78.2,516.1 L78.7,516.1 L79.2,516.3 L79.7,516.6 L80.2,517 L104.2,517 L104.7,516.7 L105.2,516.1 L105.7,515.5 L106.2,515 L106.7,514.9 L107.2,515 L107.7,514.6 L108.2,514.7 L108.7,514.8 L109.2,515 L109.7,515.4 L110.2,515.9 L110.7,516.7 L111.2,517 L127.2,517 L127.7,516.4 L128.2,516 L128.7,515.9 L129.2,515.6 L129.7,515.6 L130.2,515.7 L130.7,515.8 L131.2,516 L131.7,516.3 L132.2,516.8 L132.7,517 L161.2,517 L161.7,516.4 L162.2,516.1 L162.7,515.7 L163.2,515.6 L163.7,515.7 L164.2,515.7 L164.7,515.7 L165.2,516 L165.7,516.4 L166.2,517 L190.7,517 L191.2,516.4 L191.7,516.1 L192.2,515.8 L192.7,515.8 L193.2,515.5 L193.7,515.8 L194.2,515.7 L194.7,516.1 L195.2,516.3 L195.7,517 L197.2,517 L197.7,516.4 L198.2,515.5 L198.7,514.9 L199.2,514.4 L199.7,514.4 L200.2,514.1 L200.7,514.1 L201.2,513.3 L201.7,513.7 L202.2,513.9 L202.7,513.9 L203.2,514.8 L203.7,514.7 L204.2,513.5 L204.7,512.5 L205.2,512.8 L205.7,512.8 L206.2,512.4 L206.7,513.4 L207.2,514.1 L207.7,511.4 L208.2,508.7 L208.7,508.6 L209.2,506.2 L209.7,508.2 L210.2,507.5 L210.7,510.1 L211.2,511.8 L211.7,514.7 L212.2,513.7 L212.7,513.6 L213.2,513.8 L213.7,513.1 L214.2,514.1 L214.7,514.7 L215.2,515.5 L215.7,515 L216.2,513.3 L216.7,512.7 L217.2,511.7 L217.7,511.5 L218.2,510.6 L218.7,510 L219.2,510.1 L219.7,510.1 L220.2,510.9 L220.7,511.6 L221.2,512.8 L221.7,514.4 L222.2,516.4 L222.7,517 L229.7,517 L230.2,516.6 L230.7,516.2 L231.2,516 L231.7,515.8 L232.2,515.5 L232.7,515.8 L233.2,515.7 L233.7,516 L234.2,516.2 L234.7,516.7 L235.2,517 L240.7,517 L241.2,516.4 L241.7,516.2 L242.2,515.8 L242.7,515.7 L243.2,515.8 L243.7,515.7 L244.2,515.9 L244.7,516.1 L245.2,516.4 L245.7,516.8 L246.2,516.3 L246.7,514.9 L247.2,514.2 L247.7,513.3 L248.2,513.1 L248.7,513 L249.2,513.7 L249.7,514 L250.2,514 L250.7,513.9 L251.2,513.8 L251.7,514.4 L252.2,514.7 L252.7,515.2 L253.2,516 L253.7,515.8 L254.2,515.7 L254.7,515.9 L255.2,516.1 L255.7,516.7 L256.2,517 L259.2,517 L259.7,516.5 L260.2,515.7 L260.7,515.4 L261.2,514.7 L261.7,514.5 L262.2,514.6 L262.7,514.9 L263.2,515.1 L263.7,515.2 L264.2,515.1 L264.7,514.6 L265.2,514.8 L265.7,514.9 L266.2,515 L266.7,515.6 L267.2,516.3 L267.7,517 L272.7,517 L273.2,515.9 L273.7,514.6 L274.2,513.9 L274.7,512.7 L275.2,512.9 L275.7,512.2 L276.2,513.2 L276.7,513.4 L277.2,513.4 L277.7,513.6 L278.2,513.7 L278.7,513.8 L279.2,515 L279.7,515.8 L280.2,517 L289.7,517 L290.2,516.9 L290.7,516.5 L291.2,516.3 L291.7,516.1 L292.2,516.1 L292.7,516.2 L293.2,516.5 L293.7,516.8 L294.2,517 L310.2,517 L310.7,516.7 L311.2,516.2 L311.7,515.9 L312.2,515.6 L312.7,515.6 L313.2,515.8 L313.7,515.7 L314.2,515.8 L314.7,516.1 L315.2,516.6 L315.7,517 L320.2,517 L320.7,516.7 L321.2,516.4 L321.7,516.1 L322.2,516.1 L322.7,516.1 L323.2,516.3 L323.7,516.5 L324.2,517 L332.7,517 L333.2,516.5 L333.7,516 L334.2,515.8 L334.7,515.8 L335.2,515.7 L335.7,515.7 L336.2,515.9 L336.7,516 L337.2,516.3 L337.7,516.8 L338.2,517 L343.7,517 L344.2,516.2 L344.7,514.9 L345.2,514.5 L345.7,513.8 L346.2,513 L346.7,513.7 L347.2,513.7 L347.7,514.4 L348.2,515 L348.7,515.8 L349.2,517 L356.2,517 L356.7,516.6 L357.2,516.3 L357.7,516.1 L358.2,515.9 L358.7,515.8 L359.2,515.6 L359.7,515.6 L360.2,515.7 L360.7,515.8 L361.2,516.1 L361.7,516.2 L362.2,516.5 L362.7,517 L382.7,517 L383.2,516.4 L383.7,516.1 L384.2,515.6 L384.7,515.3 L385.2,515.4 L385.7,515 L386.2,515.2 L386.7,515.2 L387.2,515.5 L387.7,515.6 L388.2,516 L388.7,516.5 L389.2,517 L401.7,517 L402.2,516.7 L402.7,516.3 L403.2,516.1 L403.7,515.7 L404.2,515.6 L404.7,515.8 L405.2,515.7 L405.7,515.9 L406.2,516.2 L406.7,516.6 L407.2,517 L414.9,517Z" fill="#4fab98" />
<line x1="44.2" y1="517" x2="414.9" y2="517" stroke="#5db4a2" stroke-width="0.85" />
<rect x="43.7" y="486" width="371.7" height="40.3" fill="none" stroke="#5c5c5c" stroke-width="1.1" />
<text x="47.3" y="495.1" font-size="9.0" fill="#151515">[0 - 9]</text>
<text x="47.3" y="510.8" font-size="9.0" fill="#151515">[0 - 9]</text>
<text x="40" y="500.7" font-size="9.8" text-anchor="end" fill="#151515">K562</text>
<text x="40" y="517.6" font-size="9.8" text-anchor="end" fill="#151515">HepG2</text>
<text x="43.8" y="552.2" font-size="8.9" fill="#151515">chr8: 127,731,054-127,742,999</text>
<rect x="43" y="557.4" width="371.8" height="40.4" fill="#fafaff" />
<rect x="198.1" y="558" width="5.9" height="39.2" fill="#d9d9dc" opacity="0.9"/>
<path d="M43.5,573 L136,573 L136.5,572.9 L137,571.9 L137.5,571.4 L138,570.8 L138.5,570.5 L139,570.6 L139.5,570.6 L140,570.1 L140.5,570.6 L141,570.9 L141.5,570.9 L142,571.7 L142.5,572.4 L143,573 L155,573 L155.5,572.8 L156,572.3 L156.5,572.1 L157,571.8 L157.5,571.6 L158,571.7 L158.5,571.8 L159,571.4 L159.5,571.3 L160,570.8 L160.5,571 L161,571 L161.5,571.4 L162,571.1 L162.5,571.1 L163,570.8 L163.5,571 L164,571.6 L164.5,571.8 L165,571.7 L165.5,571.6 L166,571.7 L166.5,571.9 L167,572.2 L167.5,572.7 L168,573 L182.5,573 L183,571.3 L183.5,569.8 L184,568.5 L184.5,567.6 L185,566.8 L185.5,566.8 L186,567.2 L186.5,566.2 L187,566.2 L187.5,566.6 L188,567.6 L188.5,568.1 L189,569.5 L189.5,570.3 L190,572.2 L190.5,572.2 L191,571.7 L191.5,571.5 L192,571.8 L192.5,571.8 L193,572.2 L193.5,572.8 L194,573 L195.5,573 L196,572.4 L196.5,570.9 L197,569.8 L197.5,569.7 L198,568.8 L198.5,569 L199,568.3 L199.5,568.8 L200,568.5 L200.5,569 L201,570 L201.5,570.8 L202,572.4 L202.5,570.6 L203,569.8 L203.5,568.9 L204,568.1 L204.5,568.1 L205,567.2 L205.5,566.6 L206,566.6 L206.5,565.8 L207,565.7 L207.5,565.8 L208,566.4 L208.5,565.7 L209,566.9 L209.5,568 L210,568.4 L210.5,569 L211,568.9 L211.5,569.2 L212,570.1 L212.5,570.9 L213,572.4 L213.5,573 L226,573 L226.5,572.5 L227,572.1 L227.5,571.8 L228,571.6 L228.5,571.7 L229,571.6 L229.5,571.2 L230,571 L230.5,570.7 L231,571 L231.5,570.8 L232,571 L232.5,571.1 L233,571 L233.5,571 L234,570.8 L234.5,570.7 L235,571.2 L235.5,571.5 L236,572.4 L236.5,573 L238.5,573 L239,572 L239.5,571.4 L240,570.9 L240.5,570.8 L241,570.9 L241.5,571 L242,571 L242.5,571.5 L243,571.9 L243.5,573 L249.5,573 L250,570.2 L250.5,568.8 L251,567.3 L251.5,565.5 L252,565.2 L252.5,564.6 L253,565.5 L253.5,566.3 L254,566.9 L254.5,567.5 L255,569.7 L255.5,572.1 L256,571.7 L256.5,570.1 L257,569 L257.5,567.7 L258,568.1 L258.5,568.2 L259,567.2 L259.5,567.8 L260,568.5 L260.5,570.1 L261,571.5 L261.5,572.2 L262,570.8 L262.5,569.3 L263,568.3 L263.5,567.9 L264,567.7 L264.5,567.9 L265,567.9 L265.5,568.3 L266,569 L266.5,569.4 L267,570.7 L267.5,572.2 L268,573 L271.5,573 L272,571.8 L272.5,569.9 L273,568.9 L273.5,567.8 L274,567.2 L274.5,566.8 L275,567.1 L275.5,567.8 L276,567.1 L276.5,568.2 L277,568.6 L277.5,569.1 L278,570.4 L278.5,572 L279,573 L279.5,573 L280,571.9 L280.5,571.4 L281,571.1 L281.5,570.9 L282,570.6 L282.5,571 L283,571.4 L283.5,570.9 L284,570.7 L284.5,570.6 L285,570.8 L285.5,571.4 L286,571.7 L286.5,571.9 L287,571.8 L287.5,571.9 L288,572 L288.5,572.1 L289,571.9 L289.5,571.7 L290,571.7 L290.5,571.9 L291,571.4 L291.5,571 L292,571 L292.5,571.1 L293,571.3 L293.5,571.5 L294,571.3 L294.5,571.1 L295,571 L295.5,571.1 L296,571.6 L296.5,572.1 L297,573 L337.5,573 L338,572.3 L338.5,571.9 L339,571.6 L339.5,571.3 L340,571.1 L340.5,571.2 L341,571.2 L341.5,571.5 L342,571.8 L342.5,572.2 L343,572.9 L343.5,573 L360,573 L360.5,572.7 L361,572.4 L361.5,572.3 L362,572.1 L362.5,572 L363,572.1 L363.5,572.1 L364,572.3 L364.5,572.6 L365,572.6 L365.5,572.3 L366,572.2 L366.5,572.1 L367,572 L367.5,572.1 L368,572.2 L368.5,572.4 L369,572.6 L369.5,573 L414.3,573Z" fill="#4fab98" />
<line x1="43.5" y1="573" x2="414.3" y2="573" stroke="#5db4a2" stroke-width="0.85" />
<path d="M43.5,588.5 L48.5,588.5 L49,588.2 L49.5,587.8 L50,587.5 L50.5,587.4 L51,587.3 L51.5,587.2 L52,587 L52.5,587.1 L53,587.2 L53.5,587.5 L54,587.7 L54.5,588.1 L55,588.5 L105.5,588.5 L106,588.3 L106.5,588 L107,587.8 L107.5,587.5 L108,587.6 L108.5,587.7 L109,587.9 L109.5,588.4 L110,588.5 L130.5,588.5 L131,587.4 L131.5,586.6 L132,586 L132.5,585.7 L133,585.6 L133.5,586.1 L134,586.1 L134.5,585.6 L135,584.9 L135.5,583.8 L136,583.3 L136.5,582.2 L137,581.9 L137.5,581.3 L138,581.8 L138.5,581.8 L139,582.6 L139.5,582.5 L140,583.7 L140.5,584.5 L141,585.1 L141.5,585.6 L142,585.9 L142.5,587 L143,588.5 L152,588.5 L152.5,588 L153,587.2 L153.5,586.9 L154,586.6 L154.5,586.4 L155,586.8 L155.5,586.6 L156,586.3 L156.5,586.1 L157,586.3 L157.5,586.2 L158,586.6 L158.5,587.3 L159,588.5 L163.5,588.5 L164,587.5 L164.5,586.8 L165,586.8 L165.5,586.4 L166,586 L166.5,586.2 L167,586.6 L167.5,586.8 L168,586.8 L168.5,586.1 L169,585.6 L169.5,585.1 L170,585.2 L170.5,585.1 L171,585 L171.5,586.3 L172,585.4 L172.5,585 L173,584.6 L173.5,584.5 L174,583.5 L174.5,584.2 L175,584.6 L175.5,585.2 L176,585.4 L176.5,585.9 L177,585.5 L177.5,586.1 L178,586.1 L178.5,586.5 L179,587.3 L179.5,588.5 L183,588.5 L183.5,587.8 L184,587 L184.5,586.5 L185,586.1 L185.5,586.1 L186,585.9 L186.5,586.1 L187,586.1 L187.5,586.7 L188,587.7 L188.5,588.5 L189.5,588.5 L190,587.7 L190.5,586.4 L191,585.5 L191.5,585 L192,584.7 L192.5,584.1 L193,585 L193.5,585.5 L194,585.8 L194.5,587.3 L195,588.5 L198.5,588.5 L199,586.7 L199.5,586 L200,585.1 L200.5,584.9 L201,584.7 L201.5,584.8 L202,585 L202.5,583.4 L203,582.4 L203.5,581.2 L204,579.9 L204.5,578.9 L205,580.4 L205.5,578.8 L206,581.1 L206.5,581.8 L207,582.4 L207.5,582.9 L208,583 L208.5,583.4 L209,585.1 L209.5,585.1 L210,585.3 L210.5,584.7 L211,584.8 L211.5,585.1 L212,586 L212.5,586.8 L213,588.5 L213.5,588.5 L214,587.9 L214.5,587.3 L215,587 L215.5,586.6 L216,586.6 L216.5,586.7 L217,586.9 L217.5,587.3 L218,587.7 L218.5,588.3 L219,588.5 L225,588.5 L225.5,588.1 L226,587.4 L226.5,587.1 L227,587 L227.5,586.8 L228,586.6 L228.5,586.8 L229,587.2 L229.5,586.3 L230,585.3 L230.5,584.4 L231,584.4 L231.5,584.3 L232,584 L232.5,583.7 L233,584.9 L233.5,585.4 L234,585.8 L234.5,586.5 L235,585.4 L235.5,584.3 L236,583.9 L236.5,584.4 L237,582.5 L237.5,580.5 L238,579.7 L238.5,578.9 L239,578.6 L239.5,577.8 L240,578.2 L240.5,578.8 L241,581 L241.5,582.7 L242,583.7 L242.5,583.8 L243,584 L243.5,585.6 L244,587.2 L244.5,588.5 L247,588.5 L247.5,586.3 L248,585.3 L248.5,584.4 L249,584 L249.5,583.6 L250,583.4 L250.5,581.8 L251,581.6 L251.5,580.9 L252,581.6 L252.5,582.4 L253,583.2 L253.5,584.3 L254,584.8 L254.5,585.1 L255,585.3 L255.5,586.2 L256,586.8 L256.5,586 L257,585.9 L257.5,586 L258,586.4 L258.5,587.1 L259,588.1 L259.5,588.5 L260,586.8 L260.5,585.8 L261,585.2 L261.5,584.7 L262,585.2 L262.5,585 L263,585.3 L263.5,584 L264,583.5 L264.5,583 L265,582.8 L265.5,583.1 L266,583.3 L266.5,584 L267,584.2 L267.5,584.3 L268,584.3 L268.5,584.3 L269,582.8 L269.5,581.9 L270,581 L270.5,580 L271,580.5 L271.5,580.2 L272,579.6 L272.5,581 L273,581.8 L273.5,581.7 L274,581.6 L274.5,582.2 L275,583.1 L275.5,584.2 L276,585.2 L276.5,587 L277,588.5 L278,588.5 L278.5,587 L279,586 L279.5,585.4 L280,585.5 L280.5,585.4 L281,585.5 L281.5,586.1 L282,586 L282.5,585.8 L283,585.5 L283.5,585.8 L284,586.2 L284.5,585.9 L285,584.7 L285.5,584.9 L286,584.4 L286.5,584.9 L287,585.6 L287.5,585.7 L288,585.4 L288.5,585.2 L289,585.4 L289.5,585.9 L290,586.6 L290.5,587.8 L291,588.5 L293,588.5 L293.5,587.9 L294,587.5 L294.5,587.3 L295,587.2 L295.5,587.1 L296,587.5 L296.5,587.9 L297,588.5 L336.5,588.5 L337,588.3 L337.5,587.9 L338,587.6 L338.5,587.4 L339,587.3 L339.5,587.3 L340,587 L340.5,587.3 L341,587.1 L341.5,587.5 L342,587.7 L342.5,587.9 L343,588.3 L343.5,588.5 L358.5,588.5 L359,587.9 L359.5,587.5 L360,587.3 L360.5,587.1 L361,587.2 L361.5,587.1 L362,587.2 L362.5,587.5 L363,587.8 L363.5,588.5 L368.5,588.5 L369,587.2 L369.5,586.7 L370,586 L370.5,585.7 L371,585.7 L371.5,586.1 L372,586.1 L372.5,586.4 L373,587.4 L373.5,586.8 L374,586.5 L374.5,586.5 L375,586.2 L375.5,586.4 L376,586.4 L376.5,586.9 L377,587.5 L377.5,588.5 L383.5,588.5 L384,587.9 L384.5,587.5 L385,587.4 L385.5,587.1 L386,587 L386.5,587.1 L387,587.2 L387.5,587.5 L388,587.9 L388.5,588.5 L391,588.5 L391.5,587.5 L392,586.7 L392.5,586 L393,586 L393.5,586.1 L394,585.7 L394.5,586.1 L395,586.5 L395.5,587.1 L396,588.2 L396.5,588.5 L403.5,588.5 L404,587.4 L404.5,586.8 L405,586 L405.5,585.6 L406,585.7 L406.5,586.1 L407,585.9 L407.5,586.5 L408,587 L408.5,586.8 L409,586.7 L409.5,587 L410,587.1 L410.5,587.8 L411,588.5 L411.5,588.5 L412,588.1 L412.5,587 L413,586.3 L413.5,585.6 L414,585.7 L414.3,588.5Z" fill="#4fab98" />
<line x1="43.5" y1="588.5" x2="414.3" y2="588.5" stroke="#5db4a2" stroke-width="0.85" />
<rect x="43" y="557.4" width="371.8" height="40.4" fill="none" stroke="#5c5c5c" stroke-width="1.1" />
<text x="46.6" y="566.8" font-size="9.0" fill="#151515">[0 - 14]</text>
<text x="46.6" y="582.3" font-size="9.0" fill="#151515">[0 - 14]</text>
<text x="40" y="572.4" font-size="9.8" text-anchor="end" fill="#151515">K562</text>
<text x="40" y="589.1" font-size="9.8" text-anchor="end" fill="#151515">HepG2</text>
<text x="43.1" y="616.1" font-size="8.9" fill="#151515">chr11: 2,159,649-2,165,079</text>
<rect x="42.3" y="620.4" width="372.5" height="42.3" fill="#fafaff" />
<rect x="210.8" y="621" width="6.8" height="41.1" fill="#d9d9dc" opacity="0.9"/>
<path d="M42.8,636.2 L66.8,636.2 L67.3,635.7 L67.8,635.4 L68.3,635.1 L68.8,634.9 L69.3,634.8 L69.8,634.7 L70.3,635 L70.8,634.9 L71.3,634.9 L71.8,635.2 L72.3,635.4 L72.8,635.9 L73.3,636.2 L76.8,636.2 L77.3,636.1 L77.8,635.4 L78.3,635 L78.8,634.7 L79.3,634.7 L79.8,634.5 L80.3,634.5 L80.8,634.4 L81.3,634.6 L81.8,635.1 L82.3,635.5 L82.8,635.4 L83.3,635.1 L83.8,634.8 L84.3,634.4 L84.8,634.5 L85.3,634.5 L85.8,634.3 L86.3,634.6 L86.8,635.1 L87.3,635.4 L87.8,636.2 L95.3,636.2 L95.8,635.8 L96.3,635.3 L96.8,635.2 L97.3,634.8 L97.8,634.8 L98.3,634.7 L98.8,634.9 L99.3,635.2 L99.8,635.5 L100.3,635.9 L100.8,635.8 L101.3,635.5 L101.8,635.2 L102.3,634.9 L102.8,635 L103.3,634.8 L103.8,635 L104.3,635.2 L104.8,635.4 L105.3,635.9 L105.8,636.2 L142.3,636.2 L142.8,635.5 L143.3,634.8 L143.8,634.3 L144.3,634.3 L144.8,633.7 L145.3,634.2 L145.8,634 L146.3,633.7 L146.8,633.6 L147.3,633.3 L147.8,632.8 L148.3,633.1 L148.8,633.5 L149.3,634.1 L149.8,634.2 L150.3,633.9 L150.8,634 L151.3,634.3 L151.8,635.1 L152.3,635.6 L152.8,635.8 L153.3,635.4 L153.8,635.1 L154.3,634.8 L154.8,634.9 L155.3,634.7 L155.8,634.9 L156.3,635.2 L156.8,635.5 L157.3,635.9 L157.8,636.2 L208.8,636.2 L209.3,635.5 L209.8,634.7 L210.3,633.9 L210.8,633.4 L211.3,633.7 L211.8,633.2 L212.3,633 L212.8,631.9 L213.3,631.9 L213.8,631.3 L214.3,631.8 L214.8,632.5 L215.3,632.5 L215.8,633.6 L216.3,633.7 L216.8,633.5 L217.3,634.2 L217.8,634.7 L218.3,635.5 L218.8,636.2 L219.3,635.7 L219.8,635.3 L220.3,635.2 L220.8,635 L221.3,634.8 L221.8,634.9 L222.3,634.9 L222.8,634.9 L223.3,635.1 L223.8,635.2 L224.3,635.4 L224.8,635.8 L225.3,636.2 L234.3,636.2 L234.8,635.3 L235.3,634.2 L235.8,633.6 L236.3,633.3 L236.8,633.1 L237.3,632.8 L237.8,633.5 L238.3,633.3 L238.8,632.7 L239.3,632.8 L239.8,632.6 L240.3,633.2 L240.8,633.4 L241.3,632.6 L241.8,632.5 L242.3,632.5 L242.8,633.2 L243.3,633.4 L243.8,632.5 L244.3,632.1 L244.8,632.4 L245.3,632.4 L245.8,632.8 L246.3,633 L246.8,632.5 L247.3,632.3 L247.8,632.8 L248.3,633.5 L248.8,633.1 L249.3,632.4 L249.8,632.1 L250.3,632.7 L250.8,632.6 L251.3,633.4 L251.8,634.2 L252.3,634.1 L252.8,634 L253.3,634.5 L253.8,634.1 L254.3,633.5 L254.8,633.2 L255.3,633.5 L255.8,633.4 L256.3,633.9 L256.8,633.1 L257.3,632.8 L257.8,632.3 L258.3,632.5 L258.8,632.8 L259.3,633.5 L259.8,633.2 L260.3,632.9 L260.8,633.2 L261.3,633.4 L261.8,633.6 L262.3,632.8 L262.8,632.3 L263.3,632 L263.8,632.5 L264.3,633.1 L264.8,634.4 L265.3,633.9 L265.8,633.9 L266.3,633.9 L266.8,634.4 L267.3,634 L267.8,633.3 L268.3,633.1 L268.8,633.6 L269.3,633.6 L269.8,634.2 L270.3,635.4 L270.8,636.2 L287.3,636.2 L287.8,635.9 L288.3,635.7 L288.8,635.5 L289.3,635.3 L289.8,635.3 L290.3,635.2 L290.8,635.3 L291.3,635.5 L291.8,635.7 L292.3,636 L292.8,636.2 L317.3,636.2 L317.8,635.9 L318.3,635.7 L318.8,635.5 L319.3,635.3 L319.8,635.3 L320.3,635.4 L320.8,635.4 L321.3,635.6 L321.8,635.7 L322.3,636 L322.8,636.2 L341.8,636.2 L342.3,635.6 L342.8,635.1 L343.3,634.7 L343.8,634.8 L344.3,634.5 L344.8,634.5 L345.3,634.2 L345.8,634.4 L346.3,634.7 L346.8,635 L347.3,635 L347.8,634.3 L348.3,633.8 L348.8,633.3 L349.3,633.1 L349.8,632.9 L350.3,633.3 L350.8,633 L351.3,633.6 L351.8,633.9 L352.3,634.4 L352.8,633.5 L353.3,632.5 L353.8,632.1 L354.3,632.3 L354.8,632 L355.3,631.8 L355.8,631.6 L356.3,632.1 L356.8,633.4 L357.3,633.8 L357.8,633.3 L358.3,633.2 L358.8,632.8 L359.3,633.2 L359.8,633.3 L360.3,633.3 L360.8,634.1 L361.3,634.6 L361.8,635.3 L362.3,636.2 L365.8,636.2 L366.3,636 L366.8,634.9 L367.3,634.3 L367.8,634 L368.3,633.8 L368.8,633.3 L369.3,633.3 L369.8,633.9 L370.3,634 L370.8,634.5 L371.3,634.9 L371.8,634.3 L372.3,633.9 L372.8,634.2 L373.3,634.1 L373.8,634 L374.3,634.3 L374.8,634.9 L375.3,635.8 L375.8,636.2 L398.8,636.2 L399.3,634.9 L399.8,633.9 L400.3,633.2 L400.8,632.9 L401.3,633.1 L401.8,632.3 L402.3,632.8 L402.8,632.7 L403.3,632.8 L403.8,633.8 L404.3,633.4 L404.8,632.7 L405.3,632.6 L405.8,632.1 L406.3,632.6 L406.8,632.7 L407.3,632.8 L407.8,633.5 L408.3,634.2 L408.8,635.1 L409.3,636.2 L414.3,636.2Z" fill="#4fab98" />
<line x1="42.8" y1="636.2" x2="414.3" y2="636.2" stroke="#5db4a2" stroke-width="0.85" />
<path d="M42.8,651.8 L61.8,651.8 L62.3,651.3 L62.8,651 L63.3,650.8 L63.8,650.7 L64.3,650.6 L64.8,650.4 L65.3,650.5 L65.8,650.4 L66.3,650.7 L66.8,650.8 L67.3,651.1 L67.8,651.4 L68.3,651.8 L68.8,651.8 L69.3,651.3 L69.8,651 L70.3,650.8 L70.8,650.6 L71.3,650.6 L71.8,650.4 L72.3,650.4 L72.8,650.6 L73.3,650.6 L73.8,650.8 L74.3,651.1 L74.8,650.6 L75.3,650.6 L75.8,650.6 L76.3,650.6 L76.8,650.5 L77.3,650.8 L77.8,651 L78.3,651.5 L78.8,651.8 L85.3,651.8 L85.8,651.3 L86.3,650.7 L86.8,650.4 L87.3,650 L87.8,649.8 L88.3,650 L88.8,650.1 L89.3,650.3 L89.8,650.7 L90.3,651.4 L90.8,650.8 L91.3,650.2 L91.8,650 L92.3,649.6 L92.8,649.8 L93.3,649.4 L93.8,649.7 L94.3,650.1 L94.8,650.3 L95.3,650.7 L95.8,650.5 L96.3,650.2 L96.8,649.9 L97.3,649.9 L97.8,650.3 L98.3,650.3 L98.8,650.9 L99.3,651.4 L99.8,651.8 L100.8,651.8 L101.3,651.6 L101.8,650.6 L102.3,650 L102.8,649.6 L103.3,649.3 L103.8,649.3 L104.3,648.8 L104.8,649.5 L105.3,649.5 L105.8,649.2 L106.3,648.1 L106.8,647.9 L107.3,647.5 L107.8,647.8 L108.3,647.6 L108.8,648.1 L109.3,648.5 L109.8,648.7 L110.3,648.7 L110.8,648.9 L111.3,649.2 L111.8,649.6 L112.3,650 L112.8,651.1 L113.3,651.8 L137.3,651.8 L137.8,651.4 L138.3,651 L138.8,650.6 L139.3,650.6 L139.8,650.5 L140.3,650.4 L140.8,650.5 L141.3,650.8 L141.8,651.1 L142.3,651.5 L142.8,651.8 L143.3,651.8 L143.8,651.4 L144.3,651 L144.8,650.8 L145.3,650.4 L145.8,650.5 L146.3,650.4 L146.8,650.4 L147.3,650.7 L147.8,651.1 L148.3,651.5 L148.8,651.8 L156.8,651.8 L157.3,651.6 L157.8,650.8 L158.3,650.3 L158.8,649.8 L159.3,649.5 L159.8,649.7 L160.3,649.8 L160.8,649.7 L161.3,650.1 L161.8,650.5 L162.3,650.9 L162.8,649.9 L163.3,649.4 L163.8,648.5 L164.3,648.2 L164.8,648.6 L165.3,648.4 L165.8,648 L166.3,648.6 L166.8,648.8 L167.3,649.6 L167.8,649.7 L168.3,649.5 L168.8,649.9 L169.3,650 L169.8,650.7 L170.3,651.3 L170.8,651.8 L204.3,651.8 L204.8,651 L205.3,650.2 L205.8,649.4 L206.3,649.2 L206.8,649 L207.3,649.4 L207.8,649.6 L208.3,648.6 L208.8,648.5 L209.3,648.3 L209.8,647.9 L210.3,647.5 L210.8,647.1 L211.3,647.2 L211.8,647.5 L212.3,648.4 L212.8,649.3 L213.3,648.9 L213.8,649.4 L214.3,649.6 L214.8,649.6 L215.3,650.2 L215.8,651.2 L216.3,651.8 L217.8,651.8 L218.3,651.4 L218.8,651.1 L219.3,650.8 L219.8,650.7 L220.3,650.4 L220.8,650.4 L221.3,650.3 L221.8,650.5 L222.3,650.7 L222.8,650.9 L223.3,651 L223.8,650.7 L224.3,650.7 L224.8,650.6 L225.3,650.5 L225.8,650.7 L226.3,650.7 L226.8,651.1 L227.3,651.5 L227.8,651.8 L231.3,651.8 L231.8,651.3 L232.3,650.7 L232.8,650.4 L233.3,650.2 L233.8,650.1 L234.3,650 L234.8,650 L235.3,650.2 L235.8,649.6 L236.3,649.2 L236.8,649.3 L237.3,649.2 L237.8,649.4 L238.3,649.7 L238.8,650.3 L239.3,651.1 L239.8,649.7 L240.3,648.6 L240.8,647.9 L241.3,647.2 L241.8,647.4 L242.3,647.2 L242.8,647.8 L243.3,647 L243.8,645.2 L244.3,644.6 L244.8,645.3 L245.3,645 L245.8,643.7 L246.3,641 L246.8,641.3 L247.3,641.8 L247.8,642.2 L248.3,643 L248.8,642.7 L249.3,644.4 L249.8,644.8 L250.3,644.6 L250.8,645.5 L251.3,647.1 L251.8,647.1 L252.3,646.9 L252.8,647.5 L253.3,648.2 L253.8,649.1 L254.3,650.9 L254.8,651 L255.3,650.3 L255.8,649.7 L256.3,649.5 L256.8,648.8 L257.3,649.4 L257.8,649.1 L258.3,649.5 L258.8,650.3 L259.3,651.2 L259.8,651.2 L260.3,650.5 L260.8,650.2 L261.3,649.9 L261.8,649.8 L262.3,649.4 L262.8,649.9 L263.3,650 L263.8,650.6 L264.3,650.8 L264.8,650.2 L265.3,650.2 L265.8,650 L266.3,650 L266.8,650.1 L267.3,650.4 L267.8,650.8 L268.3,651.4 L268.8,651.8 L280.3,651.8 L280.8,651.2 L281.3,650.8 L281.8,650.4 L282.3,650 L282.8,650 L283.3,649.8 L283.8,650 L284.3,650.4 L284.8,650.9 L285.3,651.4 L285.8,651.1 L286.3,650.3 L286.8,650 L287.3,649.6 L287.8,649.4 L288.3,649.6 L288.8,649.6 L289.3,649.9 L289.8,650.6 L290.3,649.7 L290.8,649.3 L291.3,649 L291.8,648.9 L292.3,648.8 L292.8,648.7 L293.3,649.4 L293.8,650.2 L294.3,650.1 L294.8,649.5 L295.3,649 L295.8,649.4 L296.3,649.2 L296.8,649.5 L297.3,649.5 L297.8,650.2 L298.3,651.2 L298.8,651.8 L301.8,651.8 L302.3,651.4 L302.8,650.9 L303.3,650.5 L303.8,650.5 L304.3,650.5 L304.8,650.5 L305.3,650.9 L305.8,651.6 L306.3,651.8 L337.3,651.8 L337.8,650.9 L338.3,650.1 L338.8,649.5 L339.3,649.5 L339.8,649.3 L340.3,649.4 L340.8,649.2 L341.3,649.7 L341.8,649.6 L342.3,649.3 L342.8,649.5 L343.3,649.9 L343.8,650.1 L344.3,650.6 L344.8,651.3 L345.3,651.8 L348.3,651.8 L348.8,651.1 L349.3,650.5 L349.8,650.1 L350.3,649.6 L350.8,649.4 L351.3,649.5 L351.8,649.8 L352.3,650.2 L352.8,650.5 L353.3,651.3 L353.8,651.8 L356.8,651.8 L357.3,651.6 L357.8,650.4 L358.3,649.5 L358.8,648.9 L359.3,648.7 L359.8,648.4 L360.3,648.8 L360.8,649.2 L361.3,649 L361.8,649.2 L362.3,648.6 L362.8,647.6 L363.3,647.4 L363.8,647 L364.3,646.9 L364.8,646 L365.3,646.2 L365.8,645 L366.3,645.8 L366.8,645.5 L367.3,646.9 L367.8,646.8 L368.3,646.1 L368.8,646.5 L369.3,646.7 L369.8,646.6 L370.3,647.3 L370.8,647.6 L371.3,648.6 L371.8,649 L372.3,648.7 L372.8,648.6 L373.3,649 L373.8,648.6 L374.3,649.2 L374.8,649.8 L375.3,650.7 L375.8,651.8 L397.3,651.8 L397.8,651.6 L398.3,651.3 L398.8,651.1 L399.3,651 L399.8,651 L400.3,651 L400.8,650.9 L401.3,651.1 L401.8,651.3 L402.3,651.6 L402.8,651.5 L403.3,651.2 L403.8,651.1 L404.3,650.9 L404.8,650.9 L405.3,651 L405.8,651 L406.3,651 L406.8,651.3 L407.3,651.6 L407.8,651.8 L414.3,651.8Z" fill="#4fab98" />
<line x1="42.8" y1="651.8" x2="414.3" y2="651.8" stroke="#5db4a2" stroke-width="0.85" />
<rect x="42.3" y="620.4" width="372.5" height="42.3" fill="none" stroke="#5c5c5c" stroke-width="1.1" />
<text x="45.9" y="630" font-size="9.0" fill="#151515">[0 - 10]</text>
<text x="45.9" y="645.6" font-size="9.0" fill="#151515">[0 - 10]</text>
<text x="40" y="635.6" font-size="9.8" text-anchor="end" fill="#151515">K562</text>
<text x="40" y="652.4" font-size="9.8" text-anchor="end" fill="#151515">HepG2</text>
<line x1="43.7" y1="532.4" x2="200" y2="532.4" stroke="#666" stroke-width="0.7" />
<line x1="46.7" y1="531.3" x2="46.7" y2="533.5" stroke="#777" stroke-width="0.5" />
<line x1="55.7" y1="531.3" x2="55.7" y2="533.5" stroke="#777" stroke-width="0.5" />
<line x1="64.7" y1="531.3" x2="64.7" y2="533.5" stroke="#777" stroke-width="0.5" />
<line x1="73.7" y1="531.3" x2="73.7" y2="533.5" stroke="#777" stroke-width="0.5" />
<line x1="82.7" y1="531.3" x2="82.7" y2="533.5" stroke="#777" stroke-width="0.5" />
<line x1="91.7" y1="531.3" x2="91.7" y2="533.5" stroke="#777" stroke-width="0.5" />
<line x1="100.7" y1="531.3" x2="100.7" y2="533.5" stroke="#777" stroke-width="0.5" />
<line x1="109.7" y1="531.3" x2="109.7" y2="533.5" stroke="#777" stroke-width="0.5" />
<line x1="118.7" y1="531.3" x2="118.7" y2="533.5" stroke="#777" stroke-width="0.5" />
<line x1="127.7" y1="531.3" x2="127.7" y2="533.5" stroke="#777" stroke-width="0.5" />
<line x1="136.7" y1="531.3" x2="136.7" y2="533.5" stroke="#777" stroke-width="0.5" />
<line x1="145.7" y1="531.3" x2="145.7" y2="533.5" stroke="#777" stroke-width="0.5" />
<line x1="154.7" y1="531.3" x2="154.7" y2="533.5" stroke="#777" stroke-width="0.5" />
<line x1="163.7" y1="531.3" x2="163.7" y2="533.5" stroke="#777" stroke-width="0.5" />
<line x1="172.7" y1="531.3" x2="172.7" y2="533.5" stroke="#777" stroke-width="0.5" />
<line x1="181.7" y1="531.3" x2="181.7" y2="533.5" stroke="#777" stroke-width="0.5" />
<line x1="190.7" y1="531.3" x2="190.7" y2="533.5" stroke="#777" stroke-width="0.5" />
<rect x="199.5" y="529.9" width="20.1" height="5.4" fill="#666" rx="1"/>
<rect x="219.6" y="531.1" width="40" height="3" fill="#666" />
<line x1="214.6" y1="531.6" x2="214.6" y2="533.4" stroke="#ccc" stroke-width="0.5" />
<line x1="245.6" y1="531.8" x2="245.6" y2="533.2" stroke="#ccc" stroke-width="0.5" />
<text x="212.4" y="546.6" font-size="9.9" text-anchor="middle" font-weight="bold" font-style="italic" fill="#111">BCL2</text>
<rect x="179.4" y="602.6" width="36.6" height="2.8" fill="#666" />
<line x1="216" y1="604" x2="266" y2="604" stroke="#666" stroke-width="0.7" />
<line x1="219" y1="602.9" x2="219" y2="605.1" stroke="#777" stroke-width="0.5" />
<line x1="228" y1="602.9" x2="228" y2="605.1" stroke="#777" stroke-width="0.5" />
<line x1="237" y1="602.9" x2="237" y2="605.1" stroke="#777" stroke-width="0.5" />
<line x1="246" y1="602.9" x2="246" y2="605.1" stroke="#777" stroke-width="0.5" />
<line x1="255" y1="602.9" x2="255" y2="605.1" stroke="#777" stroke-width="0.5" />
<rect x="266" y="601.6" width="23.2" height="4.8" fill="#666" />
<line x1="289.2" y1="604" x2="333" y2="604" stroke="#666" stroke-width="0.7" />
<line x1="292.2" y1="602.9" x2="292.2" y2="605.1" stroke="#777" stroke-width="0.5" />
<line x1="301.2" y1="602.9" x2="301.2" y2="605.1" stroke="#777" stroke-width="0.5" />
<line x1="310.2" y1="602.9" x2="310.2" y2="605.1" stroke="#777" stroke-width="0.5" />
<line x1="319.2" y1="602.9" x2="319.2" y2="605.1" stroke="#777" stroke-width="0.5" />
<line x1="328.2" y1="602.9" x2="328.2" y2="605.1" stroke="#777" stroke-width="0.5" />
<rect x="333" y="601.6" width="18.6" height="4.8" fill="#666" />
<rect x="351.6" y="602.6" width="60.6" height="2.8" fill="#666" />
<line x1="213.6" y1="602.8" x2="213.6" y2="605.2" stroke="#ddd" stroke-width="0.5" />
<line x1="277.6" y1="603" x2="277.6" y2="605" stroke="#ccc" stroke-width="0.6" />
<line x1="342.3" y1="603" x2="342.3" y2="605" stroke="#ccc" stroke-width="0.6" />
<text x="199.8" y="616.4" font-size="9.8" text-anchor="middle" font-weight="bold" font-style="italic" fill="#111">cMYC</text>
<line x1="43.3" y1="669.6" x2="92.1" y2="669.6" stroke="#666" stroke-width="0.7" />
<line x1="46.3" y1="668.5" x2="46.3" y2="670.7" stroke="#777" stroke-width="0.5" />
<line x1="55.3" y1="668.5" x2="55.3" y2="670.7" stroke="#777" stroke-width="0.5" />
<line x1="64.3" y1="668.5" x2="64.3" y2="670.7" stroke="#777" stroke-width="0.5" />
<line x1="73.3" y1="668.5" x2="73.3" y2="670.7" stroke="#777" stroke-width="0.5" />
<line x1="82.3" y1="668.5" x2="82.3" y2="670.7" stroke="#777" stroke-width="0.5" />
<rect x="92.1" y="668.1" width="4.8" height="3" fill="#666" />
<rect x="96.7" y="666.8" width="10.3" height="5.5" fill="#666" />
<line x1="107" y1="669.6" x2="160.9" y2="669.6" stroke="#666" stroke-width="0.7" />
<line x1="110" y1="668.5" x2="110" y2="670.7" stroke="#777" stroke-width="0.5" />
<line x1="119" y1="668.5" x2="119" y2="670.7" stroke="#777" stroke-width="0.5" />
<line x1="128" y1="668.5" x2="128" y2="670.7" stroke="#777" stroke-width="0.5" />
<line x1="137" y1="668.5" x2="137" y2="670.7" stroke="#777" stroke-width="0.5" />
<line x1="146" y1="668.5" x2="146" y2="670.7" stroke="#777" stroke-width="0.5" />
<line x1="155" y1="668.5" x2="155" y2="670.7" stroke="#777" stroke-width="0.5" />
<rect x="160.9" y="666.8" width="13.1" height="5.5" fill="#666" />
<rect x="174" y="668.1" width="15.8" height="3" fill="#666" />
<text x="169.8" y="683" font-size="10.0" text-anchor="middle" font-weight="bold" font-style="italic" fill="#111">ILPR</text>
<text x="432.6" y="502.6" font-size="14.5" font-weight="bold" fill="#000">G</text>
<rect x="465.3" y="520.4" width="169.1" height="116" fill="#dfdfdf" />
<line x1="465.3" y1="610.6" x2="634.4" y2="610.6" stroke="#fff" stroke-width="1.3" />
<line x1="465.3" y1="584.8" x2="634.4" y2="584.8" stroke="#fff" stroke-width="1.3" />
<line x1="465.3" y1="559" x2="634.4" y2="559" stroke="#fff" stroke-width="1.3" />
<line x1="465.3" y1="533.2" x2="634.4" y2="533.2" stroke="#fff" stroke-width="1.3" />
<line x1="496.3" y1="520.4" x2="496.3" y2="636.4" stroke="#f4f4f4" stroke-width="0.9" />
<line x1="552" y1="520.4" x2="552" y2="636.4" stroke="#f4f4f4" stroke-width="0.9" />
<line x1="607.2" y1="520.4" x2="607.2" y2="636.4" stroke="#f4f4f4" stroke-width="0.9" />
<line x1="465.3" y1="520.4" x2="465.3" y2="636.9" stroke="#333" stroke-width="1" />
<line x1="465.3" y1="636.4" x2="634.4" y2="636.4" stroke="#333" stroke-width="1" />
<line x1="462.8" y1="636.4" x2="465.3" y2="636.4" stroke="#333" stroke-width="0.8" />
<text x="461.1" y="640.5" font-size="10.2" text-anchor="end" fill="#151515">0</text>
<line x1="462.8" y1="610.6" x2="465.3" y2="610.6" stroke="#333" stroke-width="0.8" />
<text x="461.1" y="614.7" font-size="10.2" text-anchor="end" fill="#151515">10</text>
<line x1="462.8" y1="584.8" x2="465.3" y2="584.8" stroke="#333" stroke-width="0.8" />
<text x="461.1" y="588.9" font-size="10.2" text-anchor="end" fill="#151515">20</text>
<line x1="462.8" y1="559" x2="465.3" y2="559" stroke="#333" stroke-width="0.8" />
<text x="461.1" y="563.1" font-size="10.2" text-anchor="end" fill="#151515">30</text>
<line x1="462.8" y1="533.2" x2="465.3" y2="533.2" stroke="#333" stroke-width="0.8" />
<text x="461.1" y="537.3" font-size="10.2" text-anchor="end" fill="#151515">40</text>
<rect x="480.2" y="552.03" width="33.3" height="84.37" fill="#fff" stroke="#222" stroke-width="1.2" />
<rect x="535.4" y="609.05" width="33.3" height="27.35" fill="#fff" stroke="#c8414b" stroke-width="1.2" />
<rect x="590.4" y="604.15" width="33.3" height="32.25" fill="#fff" stroke="#4f82a8" stroke-width="1.2" />
<line x1="496.3" y1="540.94" x2="496.3" y2="563.13" stroke="#333" stroke-width="0.8" />
<line x1="490.4" y1="540.94" x2="502.2" y2="540.94" stroke="#333" stroke-width="0.8" />
<line x1="490.4" y1="563.13" x2="502.2" y2="563.13" stroke="#333" stroke-width="0.8" />
<line x1="552" y1="608.54" x2="552" y2="609.83" stroke="#333" stroke-width="0.8" />
<line x1="546.1" y1="608.54" x2="557.9" y2="608.54" stroke="#333" stroke-width="0.8" />
<line x1="546.1" y1="609.83" x2="557.9" y2="609.83" stroke="#333" stroke-width="0.8" />
<line x1="607.2" y1="602.09" x2="607.2" y2="606.47" stroke="#333" stroke-width="0.8" />
<line x1="601.3" y1="602.09" x2="613.1" y2="602.09" stroke="#333" stroke-width="0.8" />
<line x1="601.3" y1="606.47" x2="613.1" y2="606.47" stroke="#333" stroke-width="0.8" />
<circle cx="491.5" cy="531.5" r="3.3" fill="#9c9c9c" fill-opacity="0.72"/>
<circle cx="499.5" cy="555.9" r="3.3" fill="#9c9c9c" fill-opacity="0.72"/>
<circle cx="498.1" cy="569.9" r="3.3" fill="#9c9c9c" fill-opacity="0.72"/>
<circle cx="547.3" cy="609.9" r="3.3" fill="#e05a5a" fill-opacity="0.72"/>
<circle cx="551.5" cy="609.9" r="3.3" fill="#e05a5a" fill-opacity="0.72"/>
<circle cx="554.3" cy="608.8" r="3.3" fill="#e05a5a" fill-opacity="0.72"/>
<circle cx="605.6" cy="600.4" r="3.3" fill="#5f9f97" fill-opacity="0.72"/>
<circle cx="603" cy="605.5" r="3.3" fill="#5f9f97" fill-opacity="0.72"/>
<circle cx="605.5" cy="603.5" r="3.3" fill="#5f9f97" fill-opacity="0.72"/>
<text x="552.5" y="509.8" font-size="10.8" text-anchor="middle" fill="#111">HeLa cells</text>
<text x="496.3" y="651.6" font-size="10.1" text-anchor="middle" font-style="italic" fill="#111">BCL2</text>
<text x="552" y="651.6" font-size="10.1" text-anchor="middle" font-style="italic" fill="#111">cMYC</text>
<text x="607.2" y="651.6" font-size="10.1" text-anchor="middle" font-style="italic" fill="#111">ILPR</text>
<text x="430.6" y="589.5" font-size="9.7" text-anchor="middle" fill="#111" transform="rotate(-90 430.6 589.5)">ChIP (PCBP1)</text>
<text x="441.5" y="591" font-size="9.6" text-anchor="middle" fill="#111" transform="rotate(-90 441.5 591)">(Fold enrichment over <tspan font-style="italic">HTR6</tspan> control)</text></svg>
</body></html>
